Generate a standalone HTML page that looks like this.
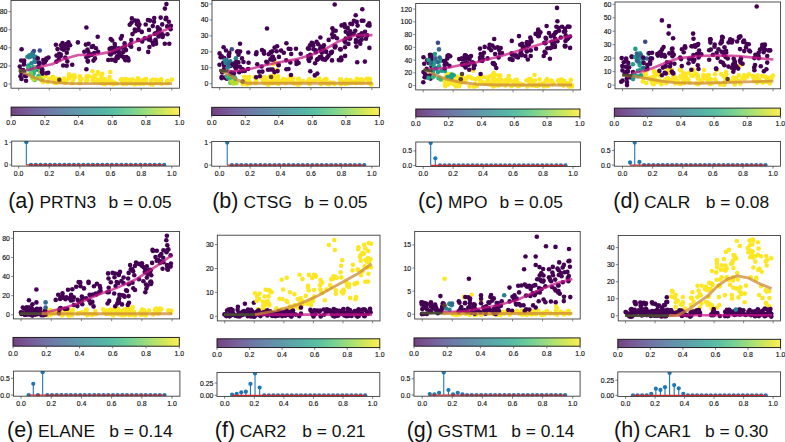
<!DOCTYPE html>
<html><head><meta charset="utf-8"><style>
html,body{margin:0;padding:0;background:#fff;width:785px;height:442px;overflow:hidden}
svg{display:block}
.t{font-family:"Liberation Sans",sans-serif;font-size:6.90px;fill:#111;stroke:#111;stroke-width:0.15}
.cap{font-family:"Liberation Sans",sans-serif;font-size:17.4px;fill:#111;white-space:pre}
.lab{font-family:"Liberation Sans",sans-serif;font-size:21.5px;fill:#111}
</style></head><body>
<svg width="785" height="442" viewBox="0 0 785 442">
<defs><linearGradient id="vir" x1="0" x2="1" y1="0" y2="0"><stop offset="0.000" stop-color="#440154"/><stop offset="0.053" stop-color="#481567"/><stop offset="0.105" stop-color="#482677"/><stop offset="0.158" stop-color="#453781"/><stop offset="0.211" stop-color="#404788"/><stop offset="0.263" stop-color="#39568c"/><stop offset="0.316" stop-color="#33638d"/><stop offset="0.368" stop-color="#2d708e"/><stop offset="0.421" stop-color="#287d8e"/><stop offset="0.474" stop-color="#238a8d"/><stop offset="0.526" stop-color="#1f968b"/><stop offset="0.579" stop-color="#20a387"/><stop offset="0.632" stop-color="#29af7f"/><stop offset="0.684" stop-color="#3cbb75"/><stop offset="0.737" stop-color="#55c667"/><stop offset="0.789" stop-color="#73d055"/><stop offset="0.842" stop-color="#95d840"/><stop offset="0.895" stop-color="#b8de29"/><stop offset="0.947" stop-color="#dce319"/><stop offset="1.000" stop-color="#fde725"/></linearGradient></defs>
<g><clipPath id="cpa"><rect x="11.00" y="0.50" width="168.50" height="87.70"/></clipPath><g clip-path="url(#cpa)"><circle cx="59.7" cy="79.0" r="2.3" fill="#fde725"/><circle cx="73.2" cy="79.9" r="2.3" fill="#fde725"/><circle cx="41.4" cy="79.9" r="2.3" fill="#fde725"/><circle cx="53.8" cy="81.2" r="2.3" fill="#fde725"/><circle cx="95.5" cy="81.4" r="2.3" fill="#fde725"/><circle cx="49.2" cy="78.8" r="2.3" fill="#fde725"/><circle cx="52.3" cy="77.8" r="2.3" fill="#fde725"/><circle cx="54.2" cy="82.3" r="2.3" fill="#fde725"/><circle cx="80.6" cy="80.6" r="2.3" fill="#fde725"/><circle cx="65.1" cy="82.9" r="2.3" fill="#fde725"/><circle cx="92.6" cy="80.7" r="2.3" fill="#fde725"/><circle cx="69.0" cy="78.3" r="2.3" fill="#fde725"/><circle cx="73.3" cy="76.3" r="2.3" fill="#fde725"/><circle cx="87.3" cy="80.5" r="2.3" fill="#fde725"/><circle cx="79.7" cy="83.2" r="2.3" fill="#fde725"/><circle cx="67.0" cy="79.9" r="2.3" fill="#fde725"/><circle cx="94.1" cy="78.1" r="2.3" fill="#fde725"/><circle cx="74.6" cy="77.5" r="2.3" fill="#fde725"/><circle cx="44.7" cy="76.1" r="2.3" fill="#fde725"/><circle cx="79.9" cy="82.9" r="2.3" fill="#fde725"/><circle cx="69.0" cy="75.9" r="2.3" fill="#fde725"/><circle cx="56.1" cy="78.6" r="2.3" fill="#fde725"/><circle cx="86.3" cy="81.0" r="2.3" fill="#fde725"/><circle cx="86.8" cy="76.4" r="2.3" fill="#fde725"/><circle cx="92.6" cy="77.2" r="2.3" fill="#fde725"/><circle cx="71.9" cy="83.1" r="2.3" fill="#fde725"/><circle cx="81.6" cy="79.0" r="2.3" fill="#fde725"/><circle cx="43.1" cy="82.2" r="2.3" fill="#fde725"/><circle cx="79.9" cy="78.6" r="2.3" fill="#fde725"/><circle cx="87.0" cy="80.0" r="2.3" fill="#fde725"/><circle cx="52.6" cy="78.1" r="2.3" fill="#fde725"/><circle cx="46.4" cy="75.4" r="2.3" fill="#fde725"/><circle cx="72.0" cy="75.7" r="2.3" fill="#fde725"/><circle cx="74.5" cy="75.4" r="2.3" fill="#fde725"/><circle cx="40.9" cy="78.5" r="2.3" fill="#fde725"/><circle cx="64.2" cy="78.5" r="2.3" fill="#fde725"/><circle cx="61.4" cy="81.4" r="2.3" fill="#fde725"/><circle cx="54.5" cy="79.4" r="2.3" fill="#fde725"/><circle cx="57.9" cy="82.5" r="2.3" fill="#fde725"/><circle cx="79.8" cy="76.2" r="2.3" fill="#fde725"/><circle cx="93.9" cy="77.2" r="2.3" fill="#fde725"/><circle cx="59.0" cy="81.8" r="2.3" fill="#fde725"/><circle cx="42.9" cy="79.1" r="2.3" fill="#fde725"/><circle cx="94.6" cy="76.0" r="2.3" fill="#fde725"/><circle cx="86.6" cy="77.5" r="2.3" fill="#fde725"/><circle cx="53.1" cy="76.7" r="2.3" fill="#fde725"/><circle cx="95.3" cy="81.7" r="2.3" fill="#fde725"/><circle cx="42.0" cy="77.0" r="2.3" fill="#fde725"/><circle cx="47.9" cy="82.2" r="2.3" fill="#fde725"/><circle cx="88.8" cy="76.3" r="2.3" fill="#fde725"/><circle cx="41.9" cy="80.4" r="2.3" fill="#fde725"/><circle cx="65.4" cy="80.3" r="2.3" fill="#fde725"/><circle cx="94.7" cy="75.6" r="2.3" fill="#fde725"/><circle cx="93.0" cy="78.3" r="2.3" fill="#fde725"/><circle cx="55.2" cy="82.9" r="2.3" fill="#fde725"/><circle cx="105.1" cy="84.1" r="2.3" fill="#fde725"/><circle cx="171.9" cy="79.6" r="2.3" fill="#fde725"/><circle cx="131.2" cy="83.3" r="2.3" fill="#fde725"/><circle cx="156.2" cy="82.7" r="2.3" fill="#fde725"/><circle cx="98.8" cy="81.5" r="2.3" fill="#fde725"/><circle cx="161.4" cy="83.6" r="2.3" fill="#fde725"/><circle cx="132.6" cy="79.3" r="2.3" fill="#fde725"/><circle cx="157.2" cy="81.8" r="2.3" fill="#fde725"/><circle cx="128.4" cy="80.2" r="2.3" fill="#fde725"/><circle cx="120.9" cy="79.6" r="2.3" fill="#fde725"/><circle cx="126.6" cy="83.3" r="2.3" fill="#fde725"/><circle cx="167.5" cy="83.2" r="2.3" fill="#fde725"/><circle cx="110.8" cy="83.4" r="2.3" fill="#fde725"/><circle cx="146.0" cy="79.0" r="2.3" fill="#fde725"/><circle cx="106.9" cy="81.5" r="2.3" fill="#fde725"/><circle cx="123.0" cy="83.9" r="2.3" fill="#fde725"/><circle cx="145.3" cy="79.2" r="2.3" fill="#fde725"/><circle cx="101.3" cy="83.1" r="2.3" fill="#fde725"/><circle cx="140.0" cy="80.9" r="2.3" fill="#fde725"/><circle cx="139.2" cy="83.4" r="2.3" fill="#fde725"/><circle cx="122.4" cy="81.5" r="2.3" fill="#fde725"/><circle cx="155.8" cy="80.0" r="2.3" fill="#fde725"/><circle cx="152.9" cy="84.5" r="2.3" fill="#fde725"/><circle cx="125.9" cy="79.0" r="2.3" fill="#fde725"/><circle cx="131.5" cy="82.9" r="2.3" fill="#fde725"/><circle cx="129.6" cy="82.1" r="2.3" fill="#fde725"/><circle cx="135.6" cy="84.2" r="2.3" fill="#fde725"/><circle cx="168.2" cy="81.6" r="2.3" fill="#fde725"/><circle cx="150.5" cy="84.3" r="2.3" fill="#fde725"/><circle cx="113.4" cy="84.1" r="2.3" fill="#fde725"/><circle cx="121.7" cy="80.1" r="2.3" fill="#fde725"/><circle cx="150.9" cy="80.8" r="2.3" fill="#fde725"/><circle cx="158.3" cy="81.6" r="2.3" fill="#fde725"/><circle cx="161.0" cy="79.7" r="2.3" fill="#fde725"/><circle cx="160.4" cy="79.8" r="2.3" fill="#fde725"/><circle cx="156.6" cy="80.8" r="2.3" fill="#fde725"/><circle cx="104.9" cy="79.5" r="2.3" fill="#fde725"/><circle cx="166.6" cy="83.0" r="2.3" fill="#fde725"/><circle cx="114.3" cy="82.6" r="2.3" fill="#fde725"/><circle cx="134.3" cy="84.1" r="2.3" fill="#fde725"/><circle cx="100.6" cy="79.8" r="2.3" fill="#fde725"/><circle cx="161.1" cy="83.4" r="2.3" fill="#fde725"/><circle cx="161.1" cy="79.2" r="2.3" fill="#fde725"/><circle cx="138.9" cy="80.2" r="2.3" fill="#fde725"/><circle cx="109.4" cy="82.1" r="2.3" fill="#fde725"/><circle cx="152.9" cy="79.5" r="2.3" fill="#fde725"/><circle cx="97.3" cy="79.5" r="2.3" fill="#fde725"/><circle cx="146.1" cy="82.8" r="2.3" fill="#fde725"/><circle cx="116.7" cy="83.6" r="2.3" fill="#fde725"/><circle cx="122.1" cy="79.3" r="2.3" fill="#fde725"/><circle cx="99.6" cy="80.3" r="2.3" fill="#fde725"/><circle cx="101.2" cy="82.3" r="2.3" fill="#fde725"/><circle cx="142.6" cy="80.4" r="2.3" fill="#fde725"/><circle cx="103.8" cy="80.1" r="2.3" fill="#fde725"/><circle cx="137.9" cy="82.0" r="2.3" fill="#fde725"/><circle cx="167.3" cy="80.9" r="2.3" fill="#fde725"/><circle cx="104.5" cy="79.5" r="2.3" fill="#fde725"/><circle cx="129.7" cy="79.7" r="2.3" fill="#fde725"/><circle cx="134.7" cy="84.0" r="2.3" fill="#fde725"/><circle cx="102.4" cy="79.8" r="2.3" fill="#fde725"/><circle cx="96.4" cy="80.1" r="2.3" fill="#fde725"/><circle cx="107.3" cy="81.1" r="2.3" fill="#fde725"/><circle cx="123.7" cy="82.0" r="2.3" fill="#fde725"/><circle cx="108.8" cy="82.5" r="2.3" fill="#fde725"/><circle cx="136.4" cy="81.1" r="2.3" fill="#fde725"/><circle cx="167.7" cy="81.7" r="2.3" fill="#fde725"/><circle cx="111.3" cy="81.0" r="2.3" fill="#fde725"/><circle cx="140.4" cy="83.8" r="2.3" fill="#fde725"/><circle cx="141.6" cy="81.0" r="2.3" fill="#fde725"/><circle cx="167.7" cy="82.8" r="2.3" fill="#fde725"/><circle cx="126.4" cy="84.0" r="2.3" fill="#fde725"/><circle cx="113.0" cy="83.0" r="2.3" fill="#fde725"/><circle cx="156.7" cy="80.1" r="2.3" fill="#fde725"/><circle cx="143.8" cy="83.8" r="2.3" fill="#fde725"/><circle cx="103.1" cy="83.6" r="2.3" fill="#fde725"/><circle cx="101.3" cy="76.3" r="2.3" fill="#fde725"/><circle cx="109.6" cy="77.1" r="2.3" fill="#fde725"/><circle cx="110.3" cy="72.0" r="2.3" fill="#fde725"/><circle cx="97.5" cy="73.7" r="2.3" fill="#fde725"/><circle cx="102.3" cy="73.7" r="2.3" fill="#fde725"/><circle cx="98.0" cy="72.1" r="2.3" fill="#fde725"/><circle cx="69.0" cy="74.4" r="2.3" fill="#fde725"/><circle cx="92.5" cy="71.3" r="2.3" fill="#fde725"/><circle cx="138.0" cy="78.4" r="2.3" fill="#fde725"/><circle cx="25.1" cy="75.9" r="2.3" fill="#440154"/><circle cx="23.9" cy="64.4" r="2.3" fill="#440154"/><circle cx="19.8" cy="66.5" r="2.3" fill="#440154"/><circle cx="21.5" cy="79.0" r="2.3" fill="#440154"/><circle cx="26.0" cy="80.8" r="2.3" fill="#440154"/><circle cx="20.5" cy="76.3" r="2.3" fill="#440154"/><circle cx="21.2" cy="60.5" r="2.3" fill="#440154"/><circle cx="24.0" cy="62.6" r="2.3" fill="#440154"/><circle cx="23.1" cy="70.1" r="2.3" fill="#440154"/><circle cx="24.1" cy="60.6" r="2.3" fill="#440154"/><circle cx="21.1" cy="70.1" r="2.3" fill="#440154"/><circle cx="21.8" cy="70.8" r="2.3" fill="#440154"/><circle cx="21.5" cy="72.8" r="2.3" fill="#440154"/><circle cx="26.1" cy="76.0" r="2.3" fill="#440154"/><circle cx="21.6" cy="49.3" r="2.3" fill="#440154"/><circle cx="35.2" cy="61.7" r="2.3" fill="#3e4a89"/><circle cx="32.5" cy="55.6" r="2.3" fill="#3e4a89"/><circle cx="39.8" cy="50.5" r="2.3" fill="#3e4a89"/><circle cx="33.1" cy="56.0" r="2.3" fill="#3e4a89"/><circle cx="32.8" cy="52.7" r="2.3" fill="#3e4a89"/><circle cx="34.6" cy="57.3" r="2.3" fill="#3e4a89"/><circle cx="33.9" cy="51.1" r="2.3" fill="#3e4a89"/><circle cx="32.4" cy="55.0" r="2.3" fill="#26828e"/><circle cx="36.8" cy="58.7" r="2.3" fill="#26828e"/><circle cx="27.5" cy="56.8" r="2.3" fill="#26828e"/><circle cx="29.0" cy="57.2" r="2.3" fill="#26828e"/><circle cx="34.5" cy="61.1" r="2.3" fill="#26828e"/><circle cx="29.5" cy="55.2" r="2.3" fill="#26828e"/><circle cx="31.5" cy="63.3" r="2.3" fill="#26828e"/><circle cx="35.6" cy="56.8" r="2.3" fill="#26828e"/><circle cx="32.1" cy="54.4" r="2.3" fill="#26828e"/><circle cx="31.0" cy="56.4" r="2.3" fill="#26828e"/><circle cx="37.2" cy="69.6" r="2.3" fill="#26828e"/><circle cx="29.6" cy="69.5" r="2.3" fill="#1f9e89"/><circle cx="32.7" cy="70.2" r="2.3" fill="#1f9e89"/><circle cx="29.5" cy="67.6" r="2.3" fill="#1f9e89"/><circle cx="33.5" cy="67.3" r="2.3" fill="#1f9e89"/><circle cx="28.2" cy="65.6" r="2.3" fill="#1f9e89"/><circle cx="33.3" cy="72.0" r="2.3" fill="#35b779"/><circle cx="38.5" cy="76.0" r="2.3" fill="#35b779"/><circle cx="40.1" cy="71.6" r="2.3" fill="#35b779"/><circle cx="34.6" cy="79.9" r="2.3" fill="#35b779"/><circle cx="33.7" cy="71.0" r="2.3" fill="#35b779"/><circle cx="34.1" cy="79.0" r="2.3" fill="#35b779"/><circle cx="33.7" cy="73.3" r="2.3" fill="#35b779"/><circle cx="28.1" cy="68.1" r="2.3" fill="#35b779"/><circle cx="33.9" cy="72.0" r="2.3" fill="#35b779"/><circle cx="33.0" cy="77.1" r="2.3" fill="#35b779"/><circle cx="41.5" cy="79.6" r="2.3" fill="#b5de2b"/><circle cx="33.8" cy="79.4" r="2.3" fill="#b5de2b"/><circle cx="41.2" cy="79.2" r="2.3" fill="#b5de2b"/><circle cx="40.6" cy="72.0" r="2.3" fill="#b5de2b"/><circle cx="38.7" cy="78.3" r="2.3" fill="#b5de2b"/><circle cx="32.2" cy="78.1" r="2.3" fill="#b5de2b"/><circle cx="30.5" cy="74.0" r="2.3" fill="#6ece58"/><circle cx="30.7" cy="73.4" r="2.3" fill="#6ece58"/><circle cx="36.0" cy="67.2" r="2.3" fill="#6ece58"/><circle cx="38.2" cy="67.6" r="2.3" fill="#6ece58"/><circle cx="42.2" cy="69.3" r="2.3" fill="#440154"/><circle cx="42.3" cy="71.4" r="2.3" fill="#440154"/><circle cx="39.0" cy="62.5" r="2.3" fill="#440154"/><circle cx="38.4" cy="66.7" r="2.3" fill="#440154"/><circle cx="46.2" cy="60.1" r="2.3" fill="#440154"/><circle cx="37.8" cy="58.3" r="2.3" fill="#440154"/><circle cx="43.3" cy="60.1" r="2.3" fill="#440154"/><circle cx="39.5" cy="63.8" r="2.3" fill="#440154"/><circle cx="45.0" cy="62.0" r="2.3" fill="#440154"/><circle cx="42.5" cy="73.6" r="2.3" fill="#440154"/><circle cx="48.5" cy="57.6" r="2.3" fill="#440154"/><circle cx="46.3" cy="73.3" r="2.3" fill="#440154"/><circle cx="48.2" cy="72.8" r="2.3" fill="#440154"/><circle cx="41.8" cy="71.7" r="2.3" fill="#440154"/><circle cx="46.3" cy="58.6" r="2.3" fill="#440154"/><circle cx="43.5" cy="63.0" r="2.3" fill="#440154"/><circle cx="65.4" cy="45.4" r="2.3" fill="#440154"/><circle cx="59.2" cy="54.5" r="2.3" fill="#440154"/><circle cx="59.0" cy="55.4" r="2.3" fill="#440154"/><circle cx="61.6" cy="48.6" r="2.3" fill="#440154"/><circle cx="56.4" cy="61.6" r="2.3" fill="#440154"/><circle cx="70.1" cy="45.2" r="2.3" fill="#440154"/><circle cx="60.5" cy="56.2" r="2.3" fill="#440154"/><circle cx="68.2" cy="45.2" r="2.3" fill="#440154"/><circle cx="62.5" cy="43.1" r="2.3" fill="#440154"/><circle cx="65.3" cy="57.6" r="2.3" fill="#440154"/><circle cx="57.5" cy="49.1" r="2.3" fill="#440154"/><circle cx="59.2" cy="53.9" r="2.3" fill="#440154"/><circle cx="55.9" cy="44.8" r="2.3" fill="#440154"/><circle cx="60.8" cy="54.5" r="2.3" fill="#440154"/><circle cx="72.2" cy="64.8" r="2.3" fill="#440154"/><circle cx="66.8" cy="52.8" r="2.3" fill="#440154"/><circle cx="63.6" cy="47.7" r="2.3" fill="#440154"/><circle cx="58.8" cy="59.4" r="2.3" fill="#440154"/><circle cx="67.8" cy="48.8" r="2.3" fill="#440154"/><circle cx="66.3" cy="44.1" r="2.3" fill="#440154"/><circle cx="63.8" cy="49.7" r="2.3" fill="#440154"/><circle cx="66.7" cy="65.8" r="2.3" fill="#440154"/><circle cx="60.9" cy="45.2" r="2.3" fill="#440154"/><circle cx="56.5" cy="55.6" r="2.3" fill="#440154"/><circle cx="63.2" cy="65.5" r="2.3" fill="#440154"/><circle cx="67.3" cy="61.4" r="2.3" fill="#440154"/><circle cx="68.4" cy="42.2" r="2.3" fill="#440154"/><circle cx="64.4" cy="48.6" r="2.3" fill="#440154"/><circle cx="77.9" cy="42.4" r="2.3" fill="#440154"/><circle cx="86.4" cy="27.5" r="2.3" fill="#440154"/><circle cx="86.4" cy="69.3" r="2.3" fill="#440154"/><circle cx="59.3" cy="79.9" r="2.3" fill="#5a3d2b"/><circle cx="84.3" cy="51.7" r="2.3" fill="#440154"/><circle cx="89.3" cy="55.4" r="2.3" fill="#440154"/><circle cx="87.7" cy="60.8" r="2.3" fill="#440154"/><circle cx="88.6" cy="43.8" r="2.3" fill="#440154"/><circle cx="87.5" cy="49.6" r="2.3" fill="#440154"/><circle cx="91.8" cy="47.0" r="2.3" fill="#440154"/><circle cx="95.9" cy="48.3" r="2.3" fill="#440154"/><circle cx="93.5" cy="60.6" r="2.3" fill="#440154"/><circle cx="93.1" cy="46.1" r="2.3" fill="#440154"/><circle cx="94.2" cy="53.0" r="2.3" fill="#440154"/><circle cx="88.3" cy="52.0" r="2.3" fill="#440154"/><circle cx="92.1" cy="54.6" r="2.3" fill="#440154"/><circle cx="95.0" cy="58.4" r="2.3" fill="#440154"/><circle cx="85.9" cy="44.6" r="2.3" fill="#440154"/><circle cx="86.4" cy="57.3" r="2.3" fill="#440154"/><circle cx="88.0" cy="56.0" r="2.3" fill="#440154"/><circle cx="87.9" cy="61.6" r="2.3" fill="#440154"/><circle cx="91.1" cy="54.6" r="2.3" fill="#440154"/><circle cx="97.7" cy="36.7" r="2.3" fill="#440154"/><circle cx="98.1" cy="51.9" r="2.3" fill="#440154"/><circle cx="118.9" cy="48.2" r="2.3" fill="#440154"/><circle cx="123.7" cy="57.1" r="2.3" fill="#440154"/><circle cx="115.5" cy="60.9" r="2.3" fill="#440154"/><circle cx="120.9" cy="55.6" r="2.3" fill="#440154"/><circle cx="117.1" cy="56.4" r="2.3" fill="#440154"/><circle cx="115.0" cy="50.0" r="2.3" fill="#440154"/><circle cx="128.5" cy="60.5" r="2.3" fill="#440154"/><circle cx="122.7" cy="47.7" r="2.3" fill="#440154"/><circle cx="114.5" cy="59.7" r="2.3" fill="#440154"/><circle cx="111.6" cy="48.0" r="2.3" fill="#440154"/><circle cx="110.8" cy="54.5" r="2.3" fill="#440154"/><circle cx="109.6" cy="48.9" r="2.3" fill="#440154"/><circle cx="109.8" cy="54.0" r="2.3" fill="#440154"/><circle cx="114.9" cy="46.3" r="2.3" fill="#440154"/><circle cx="118.4" cy="51.1" r="2.3" fill="#440154"/><circle cx="123.3" cy="51.9" r="2.3" fill="#440154"/><circle cx="128.0" cy="58.2" r="2.3" fill="#440154"/><circle cx="111.7" cy="59.8" r="2.3" fill="#440154"/><circle cx="112.9" cy="51.4" r="2.3" fill="#440154"/><circle cx="112.8" cy="48.8" r="2.3" fill="#440154"/><circle cx="125.4" cy="60.2" r="2.3" fill="#440154"/><circle cx="118.8" cy="52.6" r="2.3" fill="#440154"/><circle cx="126.0" cy="50.1" r="2.3" fill="#440154"/><circle cx="119.5" cy="52.9" r="2.3" fill="#440154"/><circle cx="113.9" cy="52.0" r="2.3" fill="#440154"/><circle cx="113.1" cy="52.3" r="2.3" fill="#440154"/><circle cx="124.9" cy="46.3" r="2.3" fill="#440154"/><circle cx="116.7" cy="57.5" r="2.3" fill="#440154"/><circle cx="126.5" cy="57.0" r="2.3" fill="#440154"/><circle cx="117.2" cy="58.0" r="2.3" fill="#440154"/><circle cx="113.3" cy="52.0" r="2.3" fill="#440154"/><circle cx="120.8" cy="38.6" r="2.3" fill="#440154"/><circle cx="110.7" cy="39.0" r="2.3" fill="#440154"/><circle cx="122.0" cy="56.2" r="2.3" fill="#440154"/><circle cx="108.3" cy="60.0" r="2.3" fill="#440154"/><circle cx="112.2" cy="40.5" r="2.3" fill="#440154"/><circle cx="124.1" cy="57.8" r="2.3" fill="#440154"/><circle cx="124.6" cy="43.4" r="2.3" fill="#440154"/><circle cx="121.9" cy="36.0" r="2.3" fill="#440154"/><circle cx="114.6" cy="52.3" r="2.3" fill="#440154"/><circle cx="114.7" cy="44.1" r="2.3" fill="#440154"/><circle cx="117.8" cy="58.0" r="2.3" fill="#440154"/><circle cx="134.8" cy="29.5" r="2.3" fill="#440154"/><circle cx="131.3" cy="40.1" r="2.3" fill="#440154"/><circle cx="129.7" cy="24.8" r="2.3" fill="#440154"/><circle cx="138.6" cy="25.9" r="2.3" fill="#440154"/><circle cx="141.8" cy="31.9" r="2.3" fill="#440154"/><circle cx="138.1" cy="21.9" r="2.3" fill="#440154"/><circle cx="138.2" cy="39.9" r="2.3" fill="#440154"/><circle cx="138.7" cy="29.9" r="2.3" fill="#440154"/><circle cx="135.1" cy="31.3" r="2.3" fill="#440154"/><circle cx="131.2" cy="46.7" r="2.3" fill="#440154"/><circle cx="144.7" cy="38.4" r="2.3" fill="#440154"/><circle cx="137.1" cy="24.2" r="2.3" fill="#440154"/><circle cx="150.0" cy="20.6" r="2.3" fill="#440154"/><circle cx="149.8" cy="36.7" r="2.3" fill="#440154"/><circle cx="137.1" cy="23.8" r="2.3" fill="#440154"/><circle cx="142.2" cy="41.5" r="2.3" fill="#440154"/><circle cx="149.0" cy="29.9" r="2.3" fill="#440154"/><circle cx="148.2" cy="51.9" r="2.3" fill="#440154"/><circle cx="139.0" cy="49.1" r="2.3" fill="#440154"/><circle cx="131.6" cy="22.6" r="2.3" fill="#440154"/><circle cx="148.6" cy="39.4" r="2.3" fill="#440154"/><circle cx="149.4" cy="47.0" r="2.3" fill="#440154"/><circle cx="136.9" cy="30.3" r="2.3" fill="#440154"/><circle cx="135.1" cy="20.6" r="2.3" fill="#440154"/><circle cx="139.4" cy="24.6" r="2.3" fill="#440154"/><circle cx="150.4" cy="40.1" r="2.3" fill="#440154"/><circle cx="130.1" cy="45.4" r="2.3" fill="#440154"/><circle cx="130.6" cy="44.1" r="2.3" fill="#440154"/><circle cx="145.7" cy="24.5" r="2.3" fill="#440154"/><circle cx="137.6" cy="20.9" r="2.3" fill="#440154"/><circle cx="132.5" cy="34.1" r="2.3" fill="#440154"/><circle cx="131.9" cy="18.4" r="2.3" fill="#440154"/><circle cx="155.6" cy="33.4" r="2.3" fill="#440154"/><circle cx="155.9" cy="42.8" r="2.3" fill="#440154"/><circle cx="154.0" cy="21.8" r="2.3" fill="#440154"/><circle cx="168.8" cy="21.8" r="2.3" fill="#440154"/><circle cx="162.2" cy="24.4" r="2.3" fill="#440154"/><circle cx="153.3" cy="44.6" r="2.3" fill="#440154"/><circle cx="152.8" cy="26.0" r="2.3" fill="#440154"/><circle cx="154.2" cy="18.1" r="2.3" fill="#440154"/><circle cx="159.0" cy="30.4" r="2.3" fill="#440154"/><circle cx="162.5" cy="36.9" r="2.3" fill="#440154"/><circle cx="166.2" cy="17.7" r="2.3" fill="#440154"/><circle cx="162.4" cy="34.4" r="2.3" fill="#440154"/><circle cx="166.1" cy="18.4" r="2.3" fill="#440154"/><circle cx="159.5" cy="32.7" r="2.3" fill="#440154"/><circle cx="157.7" cy="27.4" r="2.3" fill="#440154"/><circle cx="159.8" cy="29.4" r="2.3" fill="#440154"/><circle cx="167.2" cy="26.4" r="2.3" fill="#440154"/><circle cx="162.9" cy="35.8" r="2.3" fill="#440154"/><circle cx="169.3" cy="43.7" r="2.3" fill="#440154"/><circle cx="155.5" cy="39.9" r="2.3" fill="#440154"/><circle cx="152.9" cy="42.7" r="2.3" fill="#440154"/><circle cx="160.7" cy="17.6" r="2.3" fill="#440154"/><circle cx="154.7" cy="33.8" r="2.3" fill="#440154"/><circle cx="156.0" cy="43.7" r="2.3" fill="#440154"/><circle cx="161.2" cy="34.3" r="2.3" fill="#440154"/><circle cx="164.8" cy="43.8" r="2.3" fill="#440154"/><circle cx="167.4" cy="34.3" r="2.3" fill="#440154"/><circle cx="170.6" cy="29.3" r="2.3" fill="#440154"/><circle cx="155.4" cy="40.9" r="2.3" fill="#440154"/><circle cx="158.6" cy="36.5" r="2.3" fill="#440154"/><circle cx="158.0" cy="31.0" r="2.3" fill="#440154"/><circle cx="170.9" cy="25.8" r="2.3" fill="#440154"/><circle cx="166.4" cy="4.1" r="2.3" fill="#440154"/><circle cx="164.9" cy="8.6" r="2.3" fill="#440154"/><circle cx="165.7" cy="19.3" r="2.3" fill="#440154"/><circle cx="148.0" cy="20.0" r="2.3" fill="#440154"/><path d="M19.0,70.5 L27.0,70.3 L37.5,67.3 L51.8,64.2 L64.0,59.0 L78.3,55.0 L90.0,55.0 L96.0,54.6 L110.4,51.9 L130.7,43.8 L151.0,35.6 L171.4,27.5" fill="none" stroke="#c71585" stroke-width="2.6" stroke-opacity="0.72" stroke-linecap="butt" stroke-linejoin="round"/><path d="M19.2,70.3 L31.4,76.4 L41.6,80.5 L55.8,82.6 L72.0,83.6 L172.0,83.6" fill="none" stroke="#cc8a35" stroke-width="2.9" stroke-opacity="0.75" stroke-linecap="butt" stroke-linejoin="round"/><path d="M18.7,70.6 L26.3,71.4" fill="none" stroke="#4a4a33" stroke-width="2.7" stroke-opacity="0.95" stroke-linecap="butt" stroke-linejoin="round"/></g></g>
<rect x="11.00" y="0.50" width="168.50" height="87.70" fill="none" stroke="#333" stroke-width="0.85"/>
<line x1="8.60" x2="11.00" y1="84.00" y2="84.00" stroke="#555" stroke-width="0.7"/>
<text x="7.40" y="86.50" text-anchor="end" class="t">0</text>
<line x1="8.60" x2="11.00" y1="65.90" y2="65.90" stroke="#555" stroke-width="0.7"/>
<text x="7.40" y="68.40" text-anchor="end" class="t">20</text>
<line x1="8.60" x2="11.00" y1="47.80" y2="47.80" stroke="#555" stroke-width="0.7"/>
<text x="7.40" y="50.30" text-anchor="end" class="t">40</text>
<line x1="8.60" x2="11.00" y1="29.70" y2="29.70" stroke="#555" stroke-width="0.7"/>
<text x="7.40" y="32.20" text-anchor="end" class="t">60</text>
<line x1="8.60" x2="11.00" y1="11.60" y2="11.60" stroke="#555" stroke-width="0.7"/>
<text x="7.40" y="14.10" text-anchor="end" class="t">80</text>
<line x1="18.66" x2="18.66" y1="88.20" y2="90.60" stroke="#555" stroke-width="0.7"/>
<line x1="49.30" x2="49.30" y1="88.20" y2="90.60" stroke="#555" stroke-width="0.7"/>
<line x1="79.93" x2="79.93" y1="88.20" y2="90.60" stroke="#555" stroke-width="0.7"/>
<line x1="110.57" x2="110.57" y1="88.20" y2="90.60" stroke="#555" stroke-width="0.7"/>
<line x1="141.20" x2="141.20" y1="88.20" y2="90.60" stroke="#555" stroke-width="0.7"/>
<line x1="171.84" x2="171.84" y1="88.20" y2="90.60" stroke="#555" stroke-width="0.7"/>
<rect x="11.10" y="107.10" width="168.50" height="8.30" fill="url(#vir)" fill-opacity="0.75" stroke="#111" stroke-width="0.9"/>
<line x1="11.10" x2="11.10" y1="115.40" y2="117.60" stroke="#555" stroke-width="0.8"/>
<text x="11.10" y="125.00" text-anchor="middle" class="t">0.0</text>
<line x1="44.80" x2="44.80" y1="115.40" y2="117.60" stroke="#555" stroke-width="0.8"/>
<text x="44.80" y="125.00" text-anchor="middle" class="t">0.2</text>
<line x1="78.50" x2="78.50" y1="115.40" y2="117.60" stroke="#555" stroke-width="0.8"/>
<text x="78.50" y="125.00" text-anchor="middle" class="t">0.4</text>
<line x1="112.20" x2="112.20" y1="115.40" y2="117.60" stroke="#555" stroke-width="0.8"/>
<text x="112.20" y="125.00" text-anchor="middle" class="t">0.6</text>
<line x1="145.90" x2="145.90" y1="115.40" y2="117.60" stroke="#555" stroke-width="0.8"/>
<text x="145.90" y="125.00" text-anchor="middle" class="t">0.8</text>
<line x1="179.60" x2="179.60" y1="115.40" y2="117.60" stroke="#555" stroke-width="0.8"/>
<text x="179.60" y="125.00" text-anchor="middle" class="t">1.0</text>
<clipPath id="sca"><rect x="11.70" y="141.10" width="167.80" height="25.00"/></clipPath>
<g clip-path="url(#sca)"><line x1="26.32" x2="26.32" y1="164.96" y2="142.24" stroke="#1f77b4" stroke-width="1.1"/><circle cx="26.32" cy="142.24" r="2.1" fill="#1f77b4"/><circle cx="31.07" cy="164.96" r="2.1" fill="#1f77b4"/><circle cx="35.83" cy="164.96" r="2.1" fill="#1f77b4"/><circle cx="40.58" cy="164.96" r="2.1" fill="#1f77b4"/><circle cx="45.33" cy="164.96" r="2.1" fill="#1f77b4"/><circle cx="50.09" cy="164.96" r="2.1" fill="#1f77b4"/><circle cx="54.84" cy="164.96" r="2.1" fill="#1f77b4"/><circle cx="59.60" cy="164.96" r="2.1" fill="#1f77b4"/><circle cx="64.35" cy="164.96" r="2.1" fill="#1f77b4"/><circle cx="69.10" cy="164.96" r="2.1" fill="#1f77b4"/><circle cx="73.86" cy="164.96" r="2.1" fill="#1f77b4"/><circle cx="78.61" cy="164.96" r="2.1" fill="#1f77b4"/><circle cx="83.37" cy="164.96" r="2.1" fill="#1f77b4"/><circle cx="88.12" cy="164.96" r="2.1" fill="#1f77b4"/><circle cx="92.87" cy="164.96" r="2.1" fill="#1f77b4"/><circle cx="97.63" cy="164.96" r="2.1" fill="#1f77b4"/><circle cx="102.38" cy="164.96" r="2.1" fill="#1f77b4"/><circle cx="107.13" cy="164.96" r="2.1" fill="#1f77b4"/><circle cx="111.89" cy="164.96" r="2.1" fill="#1f77b4"/><circle cx="116.64" cy="164.96" r="2.1" fill="#1f77b4"/><circle cx="121.40" cy="164.96" r="2.1" fill="#1f77b4"/><circle cx="126.15" cy="164.96" r="2.1" fill="#1f77b4"/><circle cx="130.90" cy="164.96" r="2.1" fill="#1f77b4"/><circle cx="135.66" cy="164.96" r="2.1" fill="#1f77b4"/><circle cx="140.41" cy="164.96" r="2.1" fill="#1f77b4"/><circle cx="145.17" cy="164.96" r="2.1" fill="#1f77b4"/><circle cx="149.92" cy="164.96" r="2.1" fill="#1f77b4"/><circle cx="154.67" cy="164.96" r="2.1" fill="#1f77b4"/><circle cx="159.43" cy="164.96" r="2.1" fill="#1f77b4"/><circle cx="164.18" cy="164.96" r="2.1" fill="#1f77b4"/><line x1="26.32" x2="164.18" y1="164.96" y2="164.96" stroke="#d62728" stroke-width="1.2"/></g>
<rect x="11.70" y="141.10" width="167.80" height="25.00" fill="none" stroke="#333" stroke-width="0.85"/>
<line x1="9.30" x2="11.70" y1="164.96" y2="164.96" stroke="#444" stroke-width="0.7"/>
<text x="8.10" y="167.46" text-anchor="end" class="t">0</text>
<line x1="9.30" x2="11.70" y1="142.24" y2="142.24" stroke="#444" stroke-width="0.7"/>
<text x="8.10" y="144.74" text-anchor="end" class="t">1</text>
<line x1="18.66" x2="18.66" y1="166.10" y2="168.50" stroke="#444" stroke-width="0.7"/>
<text x="18.66" y="175.70" text-anchor="middle" class="t">0.0</text>
<line x1="49.30" x2="49.30" y1="166.10" y2="168.50" stroke="#444" stroke-width="0.7"/>
<text x="49.30" y="175.70" text-anchor="middle" class="t">0.2</text>
<line x1="79.93" x2="79.93" y1="166.10" y2="168.50" stroke="#444" stroke-width="0.7"/>
<text x="79.93" y="175.70" text-anchor="middle" class="t">0.4</text>
<line x1="110.57" x2="110.57" y1="166.10" y2="168.50" stroke="#444" stroke-width="0.7"/>
<text x="110.57" y="175.70" text-anchor="middle" class="t">0.6</text>
<line x1="141.20" x2="141.20" y1="166.10" y2="168.50" stroke="#444" stroke-width="0.7"/>
<text x="141.20" y="175.70" text-anchor="middle" class="t">0.8</text>
<line x1="171.84" x2="171.84" y1="166.10" y2="168.50" stroke="#444" stroke-width="0.7"/>
<text x="171.84" y="175.70" text-anchor="middle" class="t">1.0</text>
<text x="8.20" y="207.80" class="lab">(a)</text>
<text x="39.50" y="207.80" class="cap">PRTN3</text>
<text x="108.40" y="207.80" class="cap">b = 0.05</text>
<g><clipPath id="cpb"><rect x="212.00" y="0.50" width="167.50" height="87.20"/></clipPath><g clip-path="url(#cpb)"><circle cx="256.3" cy="79.9" r="2.3" fill="#fde725"/><circle cx="271.4" cy="76.9" r="2.3" fill="#fde725"/><circle cx="268.9" cy="84.2" r="2.3" fill="#fde725"/><circle cx="272.3" cy="80.5" r="2.3" fill="#fde725"/><circle cx="285.1" cy="79.9" r="2.3" fill="#fde725"/><circle cx="256.0" cy="83.2" r="2.3" fill="#fde725"/><circle cx="249.9" cy="83.6" r="2.3" fill="#fde725"/><circle cx="290.4" cy="80.7" r="2.3" fill="#fde725"/><circle cx="269.7" cy="76.6" r="2.3" fill="#fde725"/><circle cx="250.3" cy="82.6" r="2.3" fill="#fde725"/><circle cx="281.7" cy="81.4" r="2.3" fill="#fde725"/><circle cx="248.3" cy="82.2" r="2.3" fill="#fde725"/><circle cx="296.4" cy="83.5" r="2.3" fill="#fde725"/><circle cx="278.1" cy="79.8" r="2.3" fill="#fde725"/><circle cx="264.4" cy="77.3" r="2.3" fill="#fde725"/><circle cx="242.8" cy="84.3" r="2.3" fill="#fde725"/><circle cx="262.9" cy="79.3" r="2.3" fill="#fde725"/><circle cx="267.8" cy="84.5" r="2.3" fill="#fde725"/><circle cx="292.2" cy="81.9" r="2.3" fill="#fde725"/><circle cx="284.8" cy="80.5" r="2.3" fill="#fde725"/><circle cx="277.2" cy="82.8" r="2.3" fill="#fde725"/><circle cx="278.1" cy="76.4" r="2.3" fill="#fde725"/><circle cx="266.8" cy="81.0" r="2.3" fill="#fde725"/><circle cx="278.5" cy="84.0" r="2.3" fill="#fde725"/><circle cx="284.7" cy="79.6" r="2.3" fill="#fde725"/><circle cx="267.6" cy="82.7" r="2.3" fill="#fde725"/><circle cx="283.3" cy="79.1" r="2.3" fill="#fde725"/><circle cx="262.9" cy="81.3" r="2.3" fill="#fde725"/><circle cx="268.4" cy="81.7" r="2.3" fill="#fde725"/><circle cx="288.8" cy="79.6" r="2.3" fill="#fde725"/><circle cx="273.2" cy="77.7" r="2.3" fill="#fde725"/><circle cx="286.4" cy="82.0" r="2.3" fill="#fde725"/><circle cx="274.7" cy="78.9" r="2.3" fill="#fde725"/><circle cx="245.5" cy="78.1" r="2.3" fill="#fde725"/><circle cx="255.3" cy="82.6" r="2.3" fill="#fde725"/><circle cx="273.1" cy="83.3" r="2.3" fill="#fde725"/><circle cx="293.0" cy="78.3" r="2.3" fill="#fde725"/><circle cx="249.2" cy="82.2" r="2.3" fill="#fde725"/><circle cx="264.6" cy="83.2" r="2.3" fill="#fde725"/><circle cx="265.7" cy="78.0" r="2.3" fill="#fde725"/><circle cx="293.8" cy="82.4" r="2.3" fill="#fde725"/><circle cx="285.6" cy="82.1" r="2.3" fill="#fde725"/><circle cx="294.2" cy="83.5" r="2.3" fill="#fde725"/><circle cx="244.3" cy="76.7" r="2.3" fill="#fde725"/><circle cx="242.8" cy="82.4" r="2.3" fill="#fde725"/><circle cx="268.7" cy="82.1" r="2.3" fill="#fde725"/><circle cx="246.0" cy="77.5" r="2.3" fill="#fde725"/><circle cx="290.3" cy="81.4" r="2.3" fill="#fde725"/><circle cx="249.2" cy="77.0" r="2.3" fill="#fde725"/><circle cx="285.7" cy="83.2" r="2.3" fill="#fde725"/><circle cx="246.9" cy="84.4" r="2.3" fill="#fde725"/><circle cx="247.4" cy="79.4" r="2.3" fill="#fde725"/><circle cx="275.7" cy="83.0" r="2.3" fill="#fde725"/><circle cx="290.1" cy="76.2" r="2.3" fill="#fde725"/><circle cx="254.8" cy="77.2" r="2.3" fill="#fde725"/><circle cx="244.9" cy="81.8" r="2.3" fill="#fde725"/><circle cx="248.5" cy="79.6" r="2.3" fill="#fde725"/><circle cx="278.9" cy="82.7" r="2.3" fill="#fde725"/><circle cx="270.9" cy="81.9" r="2.3" fill="#fde725"/><circle cx="277.3" cy="78.0" r="2.3" fill="#fde725"/><circle cx="273.9" cy="75.3" r="2.3" fill="#fde725"/><circle cx="274.0" cy="74.4" r="2.3" fill="#fde725"/><circle cx="273.2" cy="64.3" r="2.3" fill="#fde725"/><circle cx="275.7" cy="62.9" r="2.3" fill="#fde725"/><circle cx="277.0" cy="69.7" r="2.3" fill="#fde725"/><circle cx="362.9" cy="82.6" r="2.3" fill="#fde725"/><circle cx="361.1" cy="79.3" r="2.3" fill="#fde725"/><circle cx="324.2" cy="80.0" r="2.3" fill="#fde725"/><circle cx="325.6" cy="79.2" r="2.3" fill="#fde725"/><circle cx="307.3" cy="81.6" r="2.3" fill="#fde725"/><circle cx="368.2" cy="82.4" r="2.3" fill="#fde725"/><circle cx="345.4" cy="84.1" r="2.3" fill="#fde725"/><circle cx="340.5" cy="82.0" r="2.3" fill="#fde725"/><circle cx="341.9" cy="81.7" r="2.3" fill="#fde725"/><circle cx="309.2" cy="79.1" r="2.3" fill="#fde725"/><circle cx="360.9" cy="81.4" r="2.3" fill="#fde725"/><circle cx="356.8" cy="78.8" r="2.3" fill="#fde725"/><circle cx="334.5" cy="84.1" r="2.3" fill="#fde725"/><circle cx="298.0" cy="84.4" r="2.3" fill="#fde725"/><circle cx="323.3" cy="81.6" r="2.3" fill="#fde725"/><circle cx="344.0" cy="82.1" r="2.3" fill="#fde725"/><circle cx="321.0" cy="84.2" r="2.3" fill="#fde725"/><circle cx="319.3" cy="78.5" r="2.3" fill="#fde725"/><circle cx="298.2" cy="84.4" r="2.3" fill="#fde725"/><circle cx="314.9" cy="80.6" r="2.3" fill="#fde725"/><circle cx="341.1" cy="81.6" r="2.3" fill="#fde725"/><circle cx="323.0" cy="82.9" r="2.3" fill="#fde725"/><circle cx="340.3" cy="79.2" r="2.3" fill="#fde725"/><circle cx="349.7" cy="82.8" r="2.3" fill="#fde725"/><circle cx="352.8" cy="82.8" r="2.3" fill="#fde725"/><circle cx="298.8" cy="78.9" r="2.3" fill="#fde725"/><circle cx="363.0" cy="80.0" r="2.3" fill="#fde725"/><circle cx="371.4" cy="84.6" r="2.3" fill="#fde725"/><circle cx="361.4" cy="82.8" r="2.3" fill="#fde725"/><circle cx="299.8" cy="83.7" r="2.3" fill="#fde725"/><circle cx="326.8" cy="83.7" r="2.3" fill="#fde725"/><circle cx="366.8" cy="78.9" r="2.3" fill="#fde725"/><circle cx="325.7" cy="80.2" r="2.3" fill="#fde725"/><circle cx="309.7" cy="84.3" r="2.3" fill="#fde725"/><circle cx="348.3" cy="82.0" r="2.3" fill="#fde725"/><circle cx="354.2" cy="81.9" r="2.3" fill="#fde725"/><circle cx="298.9" cy="81.9" r="2.3" fill="#fde725"/><circle cx="347.9" cy="82.8" r="2.3" fill="#fde725"/><circle cx="358.0" cy="80.2" r="2.3" fill="#fde725"/><circle cx="342.3" cy="83.1" r="2.3" fill="#fde725"/><circle cx="329.3" cy="84.3" r="2.3" fill="#fde725"/><circle cx="321.6" cy="81.7" r="2.3" fill="#fde725"/><circle cx="328.5" cy="84.0" r="2.3" fill="#fde725"/><circle cx="360.7" cy="83.0" r="2.3" fill="#fde725"/><circle cx="349.0" cy="82.1" r="2.3" fill="#fde725"/><circle cx="350.7" cy="80.4" r="2.3" fill="#fde725"/><circle cx="303.0" cy="81.1" r="2.3" fill="#fde725"/><circle cx="369.7" cy="78.9" r="2.3" fill="#fde725"/><circle cx="340.8" cy="79.3" r="2.3" fill="#fde725"/><circle cx="299.0" cy="82.8" r="2.3" fill="#fde725"/><circle cx="347.6" cy="80.1" r="2.3" fill="#fde725"/><circle cx="340.8" cy="82.0" r="2.3" fill="#fde725"/><circle cx="333.5" cy="82.9" r="2.3" fill="#fde725"/><circle cx="356.2" cy="83.3" r="2.3" fill="#fde725"/><circle cx="340.8" cy="84.2" r="2.3" fill="#fde725"/><circle cx="369.9" cy="83.1" r="2.3" fill="#fde725"/><circle cx="318.2" cy="79.6" r="2.3" fill="#fde725"/><circle cx="348.6" cy="83.3" r="2.3" fill="#fde725"/><circle cx="370.9" cy="84.2" r="2.3" fill="#fde725"/><circle cx="326.6" cy="79.0" r="2.3" fill="#fde725"/><circle cx="344.6" cy="81.8" r="2.3" fill="#fde725"/><circle cx="346.5" cy="79.7" r="2.3" fill="#fde725"/><circle cx="342.4" cy="82.4" r="2.3" fill="#fde725"/><circle cx="297.9" cy="79.0" r="2.3" fill="#fde725"/><circle cx="330.4" cy="82.5" r="2.3" fill="#fde725"/><circle cx="357.3" cy="79.6" r="2.3" fill="#fde725"/><circle cx="368.9" cy="79.8" r="2.3" fill="#fde725"/><circle cx="370.0" cy="79.9" r="2.3" fill="#fde725"/><circle cx="346.0" cy="83.8" r="2.3" fill="#fde725"/><circle cx="312.0" cy="80.8" r="2.3" fill="#fde725"/><circle cx="230.4" cy="76.1" r="2.3" fill="#440154"/><circle cx="228.8" cy="54.8" r="2.3" fill="#440154"/><circle cx="230.3" cy="66.0" r="2.3" fill="#440154"/><circle cx="221.6" cy="78.1" r="2.3" fill="#440154"/><circle cx="224.8" cy="77.6" r="2.3" fill="#440154"/><circle cx="229.4" cy="52.9" r="2.3" fill="#440154"/><circle cx="222.2" cy="72.5" r="2.3" fill="#440154"/><circle cx="220.6" cy="57.2" r="2.3" fill="#440154"/><circle cx="226.7" cy="78.8" r="2.3" fill="#440154"/><circle cx="221.2" cy="56.9" r="2.3" fill="#440154"/><circle cx="228.7" cy="64.5" r="2.3" fill="#440154"/><circle cx="223.8" cy="69.6" r="2.3" fill="#440154"/><circle cx="231.3" cy="72.5" r="2.3" fill="#440154"/><circle cx="224.1" cy="65.8" r="2.3" fill="#440154"/><circle cx="230.3" cy="73.9" r="2.3" fill="#440154"/><circle cx="226.2" cy="60.1" r="2.3" fill="#440154"/><circle cx="229.0" cy="56.1" r="2.3" fill="#440154"/><circle cx="224.3" cy="58.1" r="2.3" fill="#440154"/><circle cx="221.7" cy="56.3" r="2.3" fill="#440154"/><circle cx="221.6" cy="77.1" r="2.3" fill="#440154"/><circle cx="219.5" cy="64.7" r="2.3" fill="#440154"/><circle cx="219.6" cy="53.4" r="2.3" fill="#440154"/><circle cx="223.3" cy="62.7" r="2.3" fill="#440154"/><circle cx="230.1" cy="64.0" r="2.3" fill="#440154"/><circle cx="223.6" cy="47.3" r="2.3" fill="#440154"/><circle cx="226.0" cy="50.5" r="2.3" fill="#440154"/><circle cx="234.9" cy="79.8" r="2.3" fill="#26828e"/><circle cx="230.0" cy="65.1" r="2.3" fill="#26828e"/><circle cx="234.4" cy="77.3" r="2.3" fill="#26828e"/><circle cx="235.9" cy="58.3" r="2.3" fill="#26828e"/><circle cx="227.9" cy="67.6" r="2.3" fill="#26828e"/><circle cx="230.3" cy="61.4" r="2.3" fill="#26828e"/><circle cx="225.6" cy="63.0" r="2.3" fill="#26828e"/><circle cx="234.5" cy="62.8" r="2.3" fill="#26828e"/><circle cx="228.1" cy="77.9" r="2.3" fill="#26828e"/><circle cx="224.8" cy="60.1" r="2.3" fill="#26828e"/><circle cx="226.0" cy="60.3" r="2.3" fill="#26828e"/><circle cx="231.8" cy="49.3" r="2.3" fill="#3e4a89"/><circle cx="233.4" cy="65.3" r="2.3" fill="#31688e"/><circle cx="228.8" cy="64.4" r="2.3" fill="#31688e"/><circle cx="229.6" cy="62.5" r="2.3" fill="#31688e"/><circle cx="230.4" cy="82.7" r="2.3" fill="#35b779"/><circle cx="235.2" cy="78.6" r="2.3" fill="#35b779"/><circle cx="226.9" cy="76.3" r="2.3" fill="#35b779"/><circle cx="230.1" cy="78.1" r="2.3" fill="#35b779"/><circle cx="233.6" cy="77.8" r="2.3" fill="#35b779"/><circle cx="230.3" cy="78.6" r="2.3" fill="#35b779"/><circle cx="232.4" cy="81.6" r="2.3" fill="#b5de2b"/><circle cx="236.4" cy="83.1" r="2.3" fill="#b5de2b"/><circle cx="233.5" cy="83.5" r="2.3" fill="#b5de2b"/><circle cx="231.3" cy="82.1" r="2.3" fill="#b5de2b"/><circle cx="242.5" cy="71.0" r="2.3" fill="#440154"/><circle cx="242.6" cy="69.4" r="2.3" fill="#440154"/><circle cx="248.3" cy="52.5" r="2.3" fill="#440154"/><circle cx="244.7" cy="70.9" r="2.3" fill="#440154"/><circle cx="243.5" cy="62.0" r="2.3" fill="#440154"/><circle cx="234.7" cy="66.4" r="2.3" fill="#440154"/><circle cx="236.6" cy="66.4" r="2.3" fill="#440154"/><circle cx="232.6" cy="64.3" r="2.3" fill="#440154"/><circle cx="241.9" cy="69.2" r="2.3" fill="#440154"/><circle cx="238.5" cy="54.7" r="2.3" fill="#440154"/><circle cx="236.2" cy="62.1" r="2.3" fill="#440154"/><circle cx="239.2" cy="72.2" r="2.3" fill="#440154"/><circle cx="236.2" cy="62.6" r="2.3" fill="#440154"/><circle cx="240.1" cy="51.6" r="2.3" fill="#440154"/><circle cx="234.9" cy="66.2" r="2.3" fill="#440154"/><circle cx="237.1" cy="51.7" r="2.3" fill="#440154"/><circle cx="242.0" cy="58.4" r="2.3" fill="#440154"/><circle cx="235.9" cy="68.4" r="2.3" fill="#440154"/><circle cx="238.4" cy="62.4" r="2.3" fill="#440154"/><circle cx="248.6" cy="62.8" r="2.3" fill="#440154"/><circle cx="237.9" cy="51.4" r="2.3" fill="#440154"/><circle cx="239.9" cy="66.7" r="2.3" fill="#440154"/><circle cx="233.9" cy="73.3" r="2.3" fill="#440154"/><circle cx="248.1" cy="69.0" r="2.3" fill="#440154"/><circle cx="240.0" cy="43.8" r="2.3" fill="#440154"/><circle cx="263.8" cy="51.2" r="2.3" fill="#440154"/><circle cx="256.2" cy="77.3" r="2.3" fill="#440154"/><circle cx="256.1" cy="54.2" r="2.3" fill="#440154"/><circle cx="268.0" cy="69.7" r="2.3" fill="#440154"/><circle cx="267.3" cy="62.6" r="2.3" fill="#440154"/><circle cx="259.9" cy="76.3" r="2.3" fill="#440154"/><circle cx="270.5" cy="52.2" r="2.3" fill="#440154"/><circle cx="272.8" cy="56.9" r="2.3" fill="#440154"/><circle cx="261.6" cy="66.5" r="2.3" fill="#440154"/><circle cx="270.4" cy="59.4" r="2.3" fill="#440154"/><circle cx="263.9" cy="53.1" r="2.3" fill="#440154"/><circle cx="259.2" cy="71.8" r="2.3" fill="#440154"/><circle cx="264.1" cy="53.6" r="2.3" fill="#440154"/><circle cx="272.7" cy="59.8" r="2.3" fill="#440154"/><circle cx="256.5" cy="52.4" r="2.3" fill="#440154"/><circle cx="272.4" cy="57.6" r="2.3" fill="#440154"/><circle cx="268.8" cy="54.2" r="2.3" fill="#440154"/><circle cx="272.7" cy="56.9" r="2.3" fill="#440154"/><circle cx="257.3" cy="64.2" r="2.3" fill="#440154"/><circle cx="262.4" cy="71.6" r="2.3" fill="#440154"/><circle cx="270.4" cy="69.5" r="2.3" fill="#440154"/><circle cx="271.2" cy="52.2" r="2.3" fill="#440154"/><circle cx="272.3" cy="51.2" r="2.3" fill="#440154"/><circle cx="272.6" cy="69.6" r="2.3" fill="#440154"/><circle cx="266.3" cy="61.8" r="2.3" fill="#440154"/><circle cx="267.0" cy="28.5" r="2.3" fill="#440154"/><circle cx="262.0" cy="50.0" r="2.3" fill="#440154"/><circle cx="274.6" cy="47.6" r="2.3" fill="#440154"/><circle cx="286.4" cy="69.3" r="2.3" fill="#440154"/><circle cx="283.8" cy="52.8" r="2.3" fill="#440154"/><circle cx="296.0" cy="48.8" r="2.3" fill="#440154"/><circle cx="278.5" cy="64.6" r="2.3" fill="#440154"/><circle cx="276.6" cy="51.2" r="2.3" fill="#440154"/><circle cx="291.0" cy="75.0" r="2.3" fill="#440154"/><circle cx="288.5" cy="69.0" r="2.3" fill="#440154"/><circle cx="278.9" cy="56.9" r="2.3" fill="#440154"/><circle cx="277.6" cy="71.1" r="2.3" fill="#440154"/><circle cx="286.2" cy="60.3" r="2.3" fill="#440154"/><circle cx="274.5" cy="72.1" r="2.3" fill="#440154"/><circle cx="291.2" cy="54.0" r="2.3" fill="#440154"/><circle cx="281.1" cy="50.6" r="2.3" fill="#440154"/><circle cx="277.1" cy="46.3" r="2.3" fill="#440154"/><circle cx="290.4" cy="49.0" r="2.3" fill="#440154"/><circle cx="278.6" cy="65.2" r="2.3" fill="#440154"/><circle cx="290.3" cy="62.5" r="2.3" fill="#440154"/><circle cx="288.7" cy="48.7" r="2.3" fill="#440154"/><circle cx="274.1" cy="59.2" r="2.3" fill="#440154"/><circle cx="286.4" cy="43.2" r="2.3" fill="#440154"/><circle cx="242.6" cy="81.5" r="2.3" fill="#5a3d2b"/><circle cx="271.1" cy="77.0" r="2.3" fill="#5a3d2b"/><circle cx="300.7" cy="53.7" r="2.3" fill="#440154"/><circle cx="296.5" cy="63.9" r="2.3" fill="#440154"/><circle cx="296.7" cy="61.2" r="2.3" fill="#440154"/><circle cx="298.6" cy="63.0" r="2.3" fill="#440154"/><circle cx="297.1" cy="61.5" r="2.3" fill="#440154"/><circle cx="309.2" cy="60.9" r="2.3" fill="#440154"/><circle cx="320.4" cy="49.2" r="2.3" fill="#440154"/><circle cx="308.9" cy="48.8" r="2.3" fill="#440154"/><circle cx="323.0" cy="46.8" r="2.3" fill="#440154"/><circle cx="319.9" cy="57.0" r="2.3" fill="#440154"/><circle cx="310.8" cy="57.7" r="2.3" fill="#440154"/><circle cx="317.6" cy="59.0" r="2.3" fill="#440154"/><circle cx="322.4" cy="59.1" r="2.3" fill="#440154"/><circle cx="310.0" cy="56.9" r="2.3" fill="#440154"/><circle cx="323.9" cy="45.2" r="2.3" fill="#440154"/><circle cx="326.2" cy="51.9" r="2.3" fill="#440154"/><circle cx="326.0" cy="51.5" r="2.3" fill="#440154"/><circle cx="316.9" cy="60.0" r="2.3" fill="#440154"/><circle cx="325.4" cy="59.6" r="2.3" fill="#440154"/><circle cx="321.6" cy="48.4" r="2.3" fill="#440154"/><circle cx="313.3" cy="45.7" r="2.3" fill="#440154"/><circle cx="310.3" cy="54.7" r="2.3" fill="#440154"/><circle cx="308.5" cy="59.6" r="2.3" fill="#440154"/><circle cx="320.5" cy="48.5" r="2.3" fill="#440154"/><circle cx="318.2" cy="58.7" r="2.3" fill="#440154"/><circle cx="321.4" cy="57.1" r="2.3" fill="#440154"/><circle cx="320.7" cy="46.9" r="2.3" fill="#440154"/><circle cx="327.2" cy="57.5" r="2.3" fill="#440154"/><circle cx="324.5" cy="59.5" r="2.3" fill="#440154"/><circle cx="310.0" cy="45.4" r="2.3" fill="#440154"/><circle cx="315.8" cy="50.4" r="2.3" fill="#440154"/><circle cx="323.7" cy="49.3" r="2.3" fill="#440154"/><circle cx="308.0" cy="48.4" r="2.3" fill="#440154"/><circle cx="308.2" cy="56.1" r="2.3" fill="#440154"/><circle cx="313.5" cy="49.2" r="2.3" fill="#440154"/><circle cx="315.1" cy="63.2" r="2.3" fill="#440154"/><circle cx="318.2" cy="44.3" r="2.3" fill="#440154"/><circle cx="321.4" cy="51.2" r="2.3" fill="#440154"/><circle cx="317.3" cy="73.6" r="2.3" fill="#440154"/><circle cx="321.8" cy="52.7" r="2.3" fill="#440154"/><circle cx="320.4" cy="37.5" r="2.3" fill="#440154"/><circle cx="312.6" cy="43.3" r="2.3" fill="#440154"/><circle cx="316.0" cy="52.3" r="2.3" fill="#440154"/><circle cx="311.7" cy="42.7" r="2.3" fill="#440154"/><circle cx="316.6" cy="41.9" r="2.3" fill="#440154"/><circle cx="347.7" cy="27.9" r="2.3" fill="#440154"/><circle cx="345.4" cy="42.4" r="2.3" fill="#440154"/><circle cx="348.5" cy="34.3" r="2.3" fill="#440154"/><circle cx="344.5" cy="24.3" r="2.3" fill="#440154"/><circle cx="341.6" cy="25.4" r="2.3" fill="#440154"/><circle cx="328.5" cy="55.8" r="2.3" fill="#440154"/><circle cx="335.5" cy="46.2" r="2.3" fill="#440154"/><circle cx="340.1" cy="49.2" r="2.3" fill="#440154"/><circle cx="328.7" cy="39.9" r="2.3" fill="#440154"/><circle cx="336.9" cy="38.3" r="2.3" fill="#440154"/><circle cx="341.1" cy="57.5" r="2.3" fill="#440154"/><circle cx="345.1" cy="55.9" r="2.3" fill="#440154"/><circle cx="332.0" cy="60.4" r="2.3" fill="#440154"/><circle cx="334.3" cy="36.0" r="2.3" fill="#440154"/><circle cx="332.0" cy="51.7" r="2.3" fill="#440154"/><circle cx="332.4" cy="28.2" r="2.3" fill="#440154"/><circle cx="345.7" cy="38.6" r="2.3" fill="#440154"/><circle cx="340.7" cy="49.4" r="2.3" fill="#440154"/><circle cx="331.3" cy="52.4" r="2.3" fill="#440154"/><circle cx="349.3" cy="38.4" r="2.3" fill="#440154"/><circle cx="334.6" cy="45.8" r="2.3" fill="#440154"/><circle cx="345.0" cy="47.3" r="2.3" fill="#440154"/><circle cx="335.7" cy="30.7" r="2.3" fill="#440154"/><circle cx="348.4" cy="43.9" r="2.3" fill="#440154"/><circle cx="341.4" cy="59.6" r="2.3" fill="#440154"/><circle cx="340.8" cy="60.2" r="2.3" fill="#440154"/><circle cx="332.8" cy="37.2" r="2.3" fill="#440154"/><circle cx="334.9" cy="47.4" r="2.3" fill="#440154"/><circle cx="332.2" cy="34.3" r="2.3" fill="#440154"/><circle cx="333.4" cy="30.8" r="2.3" fill="#440154"/><circle cx="345.8" cy="31.8" r="2.3" fill="#440154"/><circle cx="344.5" cy="40.9" r="2.3" fill="#440154"/><circle cx="331.0" cy="53.2" r="2.3" fill="#440154"/><circle cx="345.0" cy="27.1" r="2.3" fill="#440154"/><circle cx="349.2" cy="38.1" r="2.3" fill="#440154"/><circle cx="359.9" cy="34.8" r="2.3" fill="#440154"/><circle cx="350.4" cy="23.8" r="2.3" fill="#440154"/><circle cx="358.7" cy="36.5" r="2.3" fill="#440154"/><circle cx="361.7" cy="20.7" r="2.3" fill="#440154"/><circle cx="367.7" cy="25.2" r="2.3" fill="#440154"/><circle cx="352.0" cy="34.1" r="2.3" fill="#440154"/><circle cx="350.2" cy="31.2" r="2.3" fill="#440154"/><circle cx="358.1" cy="35.8" r="2.3" fill="#440154"/><circle cx="355.9" cy="42.2" r="2.3" fill="#440154"/><circle cx="369.2" cy="23.4" r="2.3" fill="#440154"/><circle cx="361.8" cy="33.4" r="2.3" fill="#440154"/><circle cx="352.2" cy="24.1" r="2.3" fill="#440154"/><circle cx="369.5" cy="25.6" r="2.3" fill="#440154"/><circle cx="350.2" cy="38.5" r="2.3" fill="#440154"/><circle cx="353.9" cy="20.8" r="2.3" fill="#440154"/><circle cx="356.7" cy="21.9" r="2.3" fill="#440154"/><circle cx="367.2" cy="35.4" r="2.3" fill="#440154"/><circle cx="353.6" cy="33.8" r="2.3" fill="#440154"/><circle cx="359.8" cy="41.3" r="2.3" fill="#440154"/><circle cx="356.0" cy="40.0" r="2.3" fill="#440154"/><circle cx="350.6" cy="34.6" r="2.3" fill="#440154"/><circle cx="359.0" cy="35.3" r="2.3" fill="#440154"/><circle cx="355.3" cy="30.8" r="2.3" fill="#440154"/><circle cx="362.3" cy="35.3" r="2.3" fill="#440154"/><circle cx="362.4" cy="35.4" r="2.3" fill="#440154"/><circle cx="365.0" cy="31.7" r="2.3" fill="#440154"/><circle cx="363.4" cy="20.8" r="2.3" fill="#440154"/><circle cx="357.6" cy="25.6" r="2.3" fill="#440154"/><circle cx="360.3" cy="43.7" r="2.3" fill="#440154"/><circle cx="356.4" cy="46.6" r="2.3" fill="#440154"/><circle cx="366.0" cy="38.7" r="2.3" fill="#440154"/><circle cx="361.7" cy="39.6" r="2.3" fill="#440154"/><circle cx="334.7" cy="4.5" r="2.3" fill="#440154"/><circle cx="362.3" cy="9.2" r="2.3" fill="#440154"/><circle cx="355.7" cy="15.3" r="2.3" fill="#440154"/><circle cx="357.2" cy="62.2" r="2.3" fill="#440154"/><circle cx="364.9" cy="61.6" r="2.3" fill="#440154"/><circle cx="369.4" cy="47.9" r="2.3" fill="#440154"/><circle cx="338.8" cy="60.1" r="2.3" fill="#440154"/><circle cx="314.8" cy="75.4" r="2.3" fill="#440154"/><circle cx="310.3" cy="71.3" r="2.3" fill="#440154"/><path d="M220.2,70.3 L232.4,71.3 L242.6,70.3 L252.8,68.3 L265.0,65.2 L279.3,62.2 L297.0,59.1 L311.3,55.0 L325.6,48.9 L337.8,41.8 L348.0,37.7 L356.1,35.1 L372.5,35.1" fill="none" stroke="#c71585" stroke-width="2.6" stroke-opacity="0.72" stroke-linecap="butt" stroke-linejoin="round"/><path d="M220.2,70.3 L230.3,75.4 L238.5,80.5 L246.7,83.2 L372.5,83.2" fill="none" stroke="#cc8a35" stroke-width="2.9" stroke-opacity="0.75" stroke-linecap="butt" stroke-linejoin="round"/><path d="M219.0,70.3 L228.3,71.3" fill="none" stroke="#4a4a33" stroke-width="2.7" stroke-opacity="0.95" stroke-linecap="butt" stroke-linejoin="round"/></g></g>
<rect x="212.00" y="0.50" width="167.50" height="87.20" fill="none" stroke="#333" stroke-width="0.85"/>
<line x1="209.60" x2="212.00" y1="83.70" y2="83.70" stroke="#555" stroke-width="0.7"/>
<text x="208.40" y="86.20" text-anchor="end" class="t">0</text>
<line x1="209.60" x2="212.00" y1="67.76" y2="67.76" stroke="#555" stroke-width="0.7"/>
<text x="208.40" y="70.26" text-anchor="end" class="t">10</text>
<line x1="209.60" x2="212.00" y1="51.82" y2="51.82" stroke="#555" stroke-width="0.7"/>
<text x="208.40" y="54.32" text-anchor="end" class="t">20</text>
<line x1="209.60" x2="212.00" y1="35.88" y2="35.88" stroke="#555" stroke-width="0.7"/>
<text x="208.40" y="38.38" text-anchor="end" class="t">30</text>
<line x1="209.60" x2="212.00" y1="19.94" y2="19.94" stroke="#555" stroke-width="0.7"/>
<text x="208.40" y="22.44" text-anchor="end" class="t">40</text>
<line x1="209.60" x2="212.00" y1="4.00" y2="4.00" stroke="#555" stroke-width="0.7"/>
<text x="208.40" y="6.50" text-anchor="end" class="t">50</text>
<line x1="219.61" x2="219.61" y1="87.70" y2="90.10" stroke="#555" stroke-width="0.7"/>
<line x1="250.07" x2="250.07" y1="87.70" y2="90.10" stroke="#555" stroke-width="0.7"/>
<line x1="280.52" x2="280.52" y1="87.70" y2="90.10" stroke="#555" stroke-width="0.7"/>
<line x1="310.98" x2="310.98" y1="87.70" y2="90.10" stroke="#555" stroke-width="0.7"/>
<line x1="341.43" x2="341.43" y1="87.70" y2="90.10" stroke="#555" stroke-width="0.7"/>
<line x1="371.89" x2="371.89" y1="87.70" y2="90.10" stroke="#555" stroke-width="0.7"/>
<rect x="211.70" y="107.30" width="167.70" height="8.20" fill="url(#vir)" fill-opacity="0.75" stroke="#111" stroke-width="0.9"/>
<line x1="211.70" x2="211.70" y1="115.50" y2="117.70" stroke="#555" stroke-width="0.8"/>
<text x="211.70" y="125.10" text-anchor="middle" class="t">0.0</text>
<line x1="245.24" x2="245.24" y1="115.50" y2="117.70" stroke="#555" stroke-width="0.8"/>
<text x="245.24" y="125.10" text-anchor="middle" class="t">0.2</text>
<line x1="278.78" x2="278.78" y1="115.50" y2="117.70" stroke="#555" stroke-width="0.8"/>
<text x="278.78" y="125.10" text-anchor="middle" class="t">0.4</text>
<line x1="312.32" x2="312.32" y1="115.50" y2="117.70" stroke="#555" stroke-width="0.8"/>
<text x="312.32" y="125.10" text-anchor="middle" class="t">0.6</text>
<line x1="345.86" x2="345.86" y1="115.50" y2="117.70" stroke="#555" stroke-width="0.8"/>
<text x="345.86" y="125.10" text-anchor="middle" class="t">0.8</text>
<line x1="379.40" x2="379.40" y1="115.50" y2="117.70" stroke="#555" stroke-width="0.8"/>
<text x="379.40" y="125.10" text-anchor="middle" class="t">1.0</text>
<clipPath id="scb"><rect x="211.70" y="141.50" width="167.70" height="24.70"/></clipPath>
<g clip-path="url(#scb)"><line x1="227.23" x2="227.23" y1="165.08" y2="142.62" stroke="#1f77b4" stroke-width="1.1"/><circle cx="227.23" cy="142.62" r="2.1" fill="#1f77b4"/><circle cx="231.95" cy="165.08" r="2.1" fill="#1f77b4"/><circle cx="236.68" cy="165.08" r="2.1" fill="#1f77b4"/><circle cx="241.40" cy="165.08" r="2.1" fill="#1f77b4"/><circle cx="246.13" cy="165.08" r="2.1" fill="#1f77b4"/><circle cx="250.86" cy="165.08" r="2.1" fill="#1f77b4"/><circle cx="255.58" cy="165.08" r="2.1" fill="#1f77b4"/><circle cx="260.31" cy="165.08" r="2.1" fill="#1f77b4"/><circle cx="265.03" cy="165.08" r="2.1" fill="#1f77b4"/><circle cx="269.76" cy="165.08" r="2.1" fill="#1f77b4"/><circle cx="274.48" cy="165.08" r="2.1" fill="#1f77b4"/><circle cx="279.21" cy="165.08" r="2.1" fill="#1f77b4"/><circle cx="283.94" cy="165.08" r="2.1" fill="#1f77b4"/><circle cx="288.66" cy="165.08" r="2.1" fill="#1f77b4"/><circle cx="293.39" cy="165.08" r="2.1" fill="#1f77b4"/><circle cx="298.11" cy="165.08" r="2.1" fill="#1f77b4"/><circle cx="302.84" cy="165.08" r="2.1" fill="#1f77b4"/><circle cx="307.56" cy="165.08" r="2.1" fill="#1f77b4"/><circle cx="312.29" cy="165.08" r="2.1" fill="#1f77b4"/><circle cx="317.02" cy="165.08" r="2.1" fill="#1f77b4"/><circle cx="321.74" cy="165.08" r="2.1" fill="#1f77b4"/><circle cx="326.47" cy="165.08" r="2.1" fill="#1f77b4"/><circle cx="331.19" cy="165.08" r="2.1" fill="#1f77b4"/><circle cx="335.92" cy="165.08" r="2.1" fill="#1f77b4"/><circle cx="340.64" cy="165.08" r="2.1" fill="#1f77b4"/><circle cx="345.37" cy="165.08" r="2.1" fill="#1f77b4"/><circle cx="350.10" cy="165.08" r="2.1" fill="#1f77b4"/><circle cx="354.82" cy="165.08" r="2.1" fill="#1f77b4"/><circle cx="359.55" cy="165.08" r="2.1" fill="#1f77b4"/><circle cx="364.27" cy="165.08" r="2.1" fill="#1f77b4"/><line x1="227.23" x2="364.27" y1="165.08" y2="165.08" stroke="#d62728" stroke-width="1.2"/></g>
<rect x="211.70" y="141.50" width="167.70" height="24.70" fill="none" stroke="#333" stroke-width="0.85"/>
<line x1="209.30" x2="211.70" y1="165.08" y2="165.08" stroke="#444" stroke-width="0.7"/>
<text x="208.10" y="167.58" text-anchor="end" class="t">0</text>
<line x1="209.30" x2="211.70" y1="142.62" y2="142.62" stroke="#444" stroke-width="0.7"/>
<text x="208.10" y="145.12" text-anchor="end" class="t">1</text>
<line x1="219.61" x2="219.61" y1="166.20" y2="168.60" stroke="#444" stroke-width="0.7"/>
<text x="219.61" y="175.80" text-anchor="middle" class="t">0.0</text>
<line x1="250.07" x2="250.07" y1="166.20" y2="168.60" stroke="#444" stroke-width="0.7"/>
<text x="250.07" y="175.80" text-anchor="middle" class="t">0.2</text>
<line x1="280.52" x2="280.52" y1="166.20" y2="168.60" stroke="#444" stroke-width="0.7"/>
<text x="280.52" y="175.80" text-anchor="middle" class="t">0.4</text>
<line x1="310.98" x2="310.98" y1="166.20" y2="168.60" stroke="#444" stroke-width="0.7"/>
<text x="310.98" y="175.80" text-anchor="middle" class="t">0.6</text>
<line x1="341.43" x2="341.43" y1="166.20" y2="168.60" stroke="#444" stroke-width="0.7"/>
<text x="341.43" y="175.80" text-anchor="middle" class="t">0.8</text>
<line x1="371.89" x2="371.89" y1="166.20" y2="168.60" stroke="#444" stroke-width="0.7"/>
<text x="371.89" y="175.80" text-anchor="middle" class="t">1.0</text>
<text x="212.20" y="207.80" class="lab">(b)</text>
<text x="243.60" y="207.80" class="cap">CTSG</text>
<text x="304.20" y="207.80" class="cap">b = 0.05</text>
<g><clipPath id="cpc"><rect x="415.70" y="3.50" width="164.80" height="86.40"/></clipPath><g clip-path="url(#cpc)"><circle cx="479.9" cy="76.8" r="2.3" fill="#fde725"/><circle cx="459.5" cy="78.8" r="2.3" fill="#fde725"/><circle cx="485.3" cy="83.6" r="2.3" fill="#fde725"/><circle cx="494.0" cy="77.4" r="2.3" fill="#fde725"/><circle cx="467.7" cy="76.8" r="2.3" fill="#fde725"/><circle cx="456.4" cy="81.8" r="2.3" fill="#fde725"/><circle cx="445.7" cy="78.6" r="2.3" fill="#fde725"/><circle cx="480.5" cy="82.2" r="2.3" fill="#fde725"/><circle cx="456.5" cy="82.7" r="2.3" fill="#fde725"/><circle cx="489.4" cy="76.6" r="2.3" fill="#fde725"/><circle cx="489.2" cy="83.8" r="2.3" fill="#fde725"/><circle cx="463.2" cy="78.1" r="2.3" fill="#fde725"/><circle cx="497.6" cy="80.0" r="2.3" fill="#fde725"/><circle cx="449.4" cy="77.5" r="2.3" fill="#fde725"/><circle cx="491.5" cy="82.8" r="2.3" fill="#fde725"/><circle cx="489.2" cy="84.2" r="2.3" fill="#fde725"/><circle cx="474.1" cy="86.7" r="2.3" fill="#fde725"/><circle cx="465.3" cy="82.3" r="2.3" fill="#fde725"/><circle cx="490.5" cy="83.0" r="2.3" fill="#fde725"/><circle cx="492.3" cy="82.6" r="2.3" fill="#fde725"/><circle cx="483.5" cy="77.0" r="2.3" fill="#fde725"/><circle cx="456.9" cy="79.5" r="2.3" fill="#fde725"/><circle cx="448.7" cy="78.9" r="2.3" fill="#fde725"/><circle cx="449.8" cy="79.4" r="2.3" fill="#fde725"/><circle cx="479.7" cy="80.3" r="2.3" fill="#fde725"/><circle cx="464.9" cy="78.7" r="2.3" fill="#fde725"/><circle cx="459.1" cy="86.3" r="2.3" fill="#fde725"/><circle cx="480.4" cy="82.9" r="2.3" fill="#fde725"/><circle cx="453.7" cy="84.2" r="2.3" fill="#fde725"/><circle cx="453.3" cy="80.5" r="2.3" fill="#fde725"/><circle cx="499.4" cy="83.2" r="2.3" fill="#fde725"/><circle cx="475.3" cy="83.7" r="2.3" fill="#fde725"/><circle cx="491.2" cy="84.6" r="2.3" fill="#fde725"/><circle cx="457.0" cy="76.8" r="2.3" fill="#fde725"/><circle cx="461.8" cy="79.3" r="2.3" fill="#fde725"/><circle cx="456.0" cy="86.4" r="2.3" fill="#fde725"/><circle cx="493.1" cy="79.8" r="2.3" fill="#fde725"/><circle cx="480.8" cy="80.7" r="2.3" fill="#fde725"/><circle cx="495.2" cy="81.3" r="2.3" fill="#fde725"/><circle cx="459.0" cy="79.1" r="2.3" fill="#fde725"/><circle cx="475.5" cy="79.3" r="2.3" fill="#fde725"/><circle cx="476.8" cy="85.9" r="2.3" fill="#fde725"/><circle cx="466.5" cy="78.8" r="2.3" fill="#fde725"/><circle cx="499.9" cy="81.9" r="2.3" fill="#fde725"/><circle cx="449.3" cy="77.0" r="2.3" fill="#fde725"/><circle cx="450.3" cy="83.1" r="2.3" fill="#fde725"/><circle cx="488.4" cy="80.9" r="2.3" fill="#fde725"/><circle cx="447.7" cy="80.5" r="2.3" fill="#fde725"/><circle cx="499.8" cy="82.1" r="2.3" fill="#fde725"/><circle cx="498.4" cy="85.5" r="2.3" fill="#fde725"/><circle cx="444.8" cy="84.1" r="2.3" fill="#fde725"/><circle cx="482.2" cy="82.1" r="2.3" fill="#fde725"/><circle cx="459.1" cy="83.2" r="2.3" fill="#fde725"/><circle cx="450.4" cy="81.1" r="2.3" fill="#fde725"/><circle cx="469.5" cy="86.5" r="2.3" fill="#fde725"/><circle cx="493.1" cy="79.3" r="2.3" fill="#fde725"/><circle cx="472.1" cy="78.4" r="2.3" fill="#fde725"/><circle cx="495.1" cy="85.6" r="2.3" fill="#fde725"/><circle cx="460.9" cy="83.2" r="2.3" fill="#fde725"/><circle cx="478.2" cy="78.1" r="2.3" fill="#fde725"/><circle cx="486.7" cy="82.2" r="2.3" fill="#fde725"/><circle cx="487.6" cy="82.1" r="2.3" fill="#fde725"/><circle cx="444.2" cy="79.9" r="2.3" fill="#fde725"/><circle cx="445.3" cy="86.3" r="2.3" fill="#fde725"/><circle cx="493.2" cy="85.2" r="2.3" fill="#fde725"/><circle cx="461.4" cy="77.1" r="2.3" fill="#fde725"/><circle cx="493.2" cy="86.4" r="2.3" fill="#fde725"/><circle cx="449.0" cy="81.6" r="2.3" fill="#fde725"/><circle cx="448.1" cy="84.5" r="2.3" fill="#fde725"/><circle cx="486.9" cy="77.8" r="2.3" fill="#fde725"/><circle cx="473.3" cy="70.8" r="2.3" fill="#fde725"/><circle cx="494.2" cy="74.2" r="2.3" fill="#fde725"/><circle cx="491.9" cy="75.5" r="2.3" fill="#fde725"/><circle cx="493.7" cy="72.8" r="2.3" fill="#fde725"/><circle cx="494.9" cy="74.9" r="2.3" fill="#fde725"/><circle cx="449.2" cy="74.9" r="2.3" fill="#fde725"/><circle cx="469.9" cy="76.9" r="2.3" fill="#fde725"/><circle cx="455.4" cy="76.1" r="2.3" fill="#fde725"/><circle cx="447.1" cy="74.3" r="2.3" fill="#fde725"/><circle cx="452.8" cy="76.5" r="2.3" fill="#fde725"/><circle cx="450.0" cy="74.3" r="2.3" fill="#fde725"/><circle cx="445.8" cy="76.8" r="2.3" fill="#fde725"/><circle cx="450.0" cy="78.4" r="2.3" fill="#fde725"/><circle cx="561.9" cy="79.5" r="2.3" fill="#fde725"/><circle cx="517.1" cy="84.0" r="2.3" fill="#fde725"/><circle cx="515.4" cy="80.0" r="2.3" fill="#fde725"/><circle cx="567.4" cy="83.3" r="2.3" fill="#fde725"/><circle cx="534.0" cy="84.9" r="2.3" fill="#fde725"/><circle cx="558.1" cy="80.4" r="2.3" fill="#fde725"/><circle cx="507.0" cy="82.2" r="2.3" fill="#fde725"/><circle cx="530.5" cy="82.5" r="2.3" fill="#fde725"/><circle cx="552.5" cy="84.1" r="2.3" fill="#fde725"/><circle cx="570.9" cy="79.7" r="2.3" fill="#fde725"/><circle cx="529.0" cy="81.5" r="2.3" fill="#fde725"/><circle cx="562.0" cy="80.9" r="2.3" fill="#fde725"/><circle cx="513.7" cy="82.4" r="2.3" fill="#fde725"/><circle cx="530.4" cy="81.1" r="2.3" fill="#fde725"/><circle cx="518.0" cy="85.9" r="2.3" fill="#fde725"/><circle cx="531.9" cy="85.5" r="2.3" fill="#fde725"/><circle cx="539.6" cy="79.4" r="2.3" fill="#fde725"/><circle cx="571.9" cy="85.3" r="2.3" fill="#fde725"/><circle cx="569.8" cy="85.9" r="2.3" fill="#fde725"/><circle cx="561.1" cy="80.2" r="2.3" fill="#fde725"/><circle cx="535.0" cy="80.6" r="2.3" fill="#fde725"/><circle cx="528.9" cy="79.4" r="2.3" fill="#fde725"/><circle cx="527.3" cy="86.4" r="2.3" fill="#fde725"/><circle cx="519.1" cy="84.9" r="2.3" fill="#fde725"/><circle cx="532.8" cy="82.2" r="2.3" fill="#fde725"/><circle cx="568.9" cy="86.5" r="2.3" fill="#fde725"/><circle cx="540.0" cy="84.4" r="2.3" fill="#fde725"/><circle cx="511.1" cy="81.2" r="2.3" fill="#fde725"/><circle cx="569.7" cy="83.3" r="2.3" fill="#fde725"/><circle cx="539.0" cy="84.6" r="2.3" fill="#fde725"/><circle cx="504.1" cy="83.4" r="2.3" fill="#fde725"/><circle cx="536.2" cy="85.4" r="2.3" fill="#fde725"/><circle cx="511.3" cy="86.2" r="2.3" fill="#fde725"/><circle cx="505.8" cy="80.4" r="2.3" fill="#fde725"/><circle cx="542.8" cy="84.1" r="2.3" fill="#fde725"/><circle cx="516.9" cy="79.9" r="2.3" fill="#fde725"/><circle cx="564.1" cy="80.8" r="2.3" fill="#fde725"/><circle cx="542.8" cy="83.6" r="2.3" fill="#fde725"/><circle cx="530.2" cy="83.4" r="2.3" fill="#fde725"/><circle cx="537.6" cy="86.0" r="2.3" fill="#fde725"/><circle cx="514.7" cy="84.4" r="2.3" fill="#fde725"/><circle cx="517.2" cy="82.0" r="2.3" fill="#fde725"/><circle cx="548.4" cy="81.2" r="2.3" fill="#fde725"/><circle cx="522.8" cy="84.6" r="2.3" fill="#fde725"/><circle cx="505.2" cy="82.4" r="2.3" fill="#fde725"/><circle cx="571.9" cy="86.5" r="2.3" fill="#fde725"/><circle cx="505.3" cy="80.6" r="2.3" fill="#fde725"/><circle cx="519.1" cy="86.0" r="2.3" fill="#fde725"/><circle cx="563.4" cy="85.6" r="2.3" fill="#fde725"/><circle cx="526.6" cy="80.2" r="2.3" fill="#fde725"/><circle cx="560.0" cy="84.3" r="2.3" fill="#fde725"/><circle cx="544.0" cy="86.4" r="2.3" fill="#fde725"/><circle cx="547.1" cy="79.1" r="2.3" fill="#fde725"/><circle cx="558.8" cy="81.2" r="2.3" fill="#fde725"/><circle cx="547.8" cy="86.0" r="2.3" fill="#fde725"/><circle cx="509.7" cy="79.9" r="2.3" fill="#fde725"/><circle cx="507.7" cy="83.1" r="2.3" fill="#fde725"/><circle cx="519.6" cy="83.5" r="2.3" fill="#fde725"/><circle cx="551.7" cy="80.5" r="2.3" fill="#fde725"/><circle cx="545.7" cy="81.0" r="2.3" fill="#fde725"/><circle cx="535.2" cy="85.8" r="2.3" fill="#fde725"/><circle cx="560.9" cy="79.7" r="2.3" fill="#fde725"/><circle cx="530.5" cy="81.1" r="2.3" fill="#fde725"/><circle cx="500.3" cy="84.8" r="2.3" fill="#fde725"/><circle cx="545.9" cy="81.0" r="2.3" fill="#fde725"/><circle cx="553.4" cy="83.1" r="2.3" fill="#fde725"/><circle cx="530.8" cy="79.1" r="2.3" fill="#fde725"/><circle cx="505.4" cy="85.6" r="2.3" fill="#fde725"/><circle cx="565.1" cy="83.1" r="2.3" fill="#fde725"/><circle cx="560.1" cy="83.4" r="2.3" fill="#fde725"/><circle cx="498.9" cy="75.6" r="2.3" fill="#fde725"/><circle cx="501.0" cy="79.5" r="2.3" fill="#fde725"/><circle cx="507.3" cy="79.3" r="2.3" fill="#fde725"/><circle cx="508.7" cy="76.1" r="2.3" fill="#fde725"/><circle cx="500.2" cy="75.5" r="2.3" fill="#fde725"/><circle cx="534.5" cy="75.0" r="2.3" fill="#fde725"/><circle cx="429.9" cy="76.0" r="2.3" fill="#440154"/><circle cx="426.7" cy="68.9" r="2.3" fill="#440154"/><circle cx="424.6" cy="77.3" r="2.3" fill="#440154"/><circle cx="430.6" cy="78.6" r="2.3" fill="#440154"/><circle cx="430.1" cy="76.0" r="2.3" fill="#440154"/><circle cx="423.5" cy="72.0" r="2.3" fill="#440154"/><circle cx="426.1" cy="77.3" r="2.3" fill="#440154"/><circle cx="430.0" cy="75.5" r="2.3" fill="#440154"/><circle cx="430.1" cy="59.3" r="2.3" fill="#440154"/><circle cx="429.9" cy="54.9" r="2.3" fill="#440154"/><circle cx="430.6" cy="75.4" r="2.3" fill="#440154"/><circle cx="425.2" cy="74.2" r="2.3" fill="#440154"/><circle cx="427.2" cy="60.3" r="2.3" fill="#440154"/><circle cx="430.0" cy="58.2" r="2.3" fill="#440154"/><circle cx="423.5" cy="57.3" r="2.3" fill="#440154"/><circle cx="426.1" cy="75.5" r="2.3" fill="#440154"/><circle cx="431.4" cy="59.6" r="2.3" fill="#440154"/><circle cx="428.7" cy="62.9" r="2.3" fill="#440154"/><circle cx="431.5" cy="66.6" r="2.3" fill="#440154"/><circle cx="431.2" cy="55.1" r="2.3" fill="#440154"/><circle cx="431.5" cy="56.9" r="2.3" fill="#440154"/><circle cx="431.4" cy="59.2" r="2.3" fill="#440154"/><circle cx="424.2" cy="63.8" r="2.3" fill="#440154"/><circle cx="429.4" cy="60.5" r="2.3" fill="#440154"/><circle cx="423.3" cy="82.3" r="2.3" fill="#440154"/><circle cx="439.1" cy="66.3" r="2.3" fill="#1f9e89"/><circle cx="435.2" cy="68.1" r="2.3" fill="#1f9e89"/><circle cx="433.0" cy="71.8" r="2.3" fill="#1f9e89"/><circle cx="428.5" cy="77.9" r="2.3" fill="#1f9e89"/><circle cx="437.9" cy="72.1" r="2.3" fill="#1f9e89"/><circle cx="441.5" cy="70.8" r="2.3" fill="#1f9e89"/><circle cx="434.9" cy="54.0" r="2.3" fill="#1f9e89"/><circle cx="440.1" cy="61.2" r="2.3" fill="#1f9e89"/><circle cx="434.0" cy="75.7" r="2.3" fill="#1f9e89"/><circle cx="441.1" cy="60.4" r="2.3" fill="#1f9e89"/><circle cx="433.9" cy="63.4" r="2.3" fill="#1f9e89"/><circle cx="435.5" cy="60.3" r="2.3" fill="#1f9e89"/><circle cx="430.7" cy="63.8" r="2.3" fill="#1f9e89"/><circle cx="445.0" cy="71.0" r="2.3" fill="#1f9e89"/><circle cx="444.3" cy="69.2" r="2.3" fill="#1f9e89"/><circle cx="433.8" cy="67.3" r="2.3" fill="#1f9e89"/><circle cx="428.5" cy="60.0" r="2.3" fill="#1f9e89"/><circle cx="436.0" cy="68.2" r="2.3" fill="#1f9e89"/><circle cx="437.9" cy="62.0" r="2.3" fill="#31688e"/><circle cx="435.3" cy="58.2" r="2.3" fill="#31688e"/><circle cx="435.7" cy="68.5" r="2.3" fill="#31688e"/><circle cx="439.6" cy="57.5" r="2.3" fill="#31688e"/><circle cx="431.0" cy="62.7" r="2.3" fill="#31688e"/><circle cx="437.9" cy="42.7" r="2.3" fill="#3e4a89"/><circle cx="439.0" cy="49.4" r="2.3" fill="#31688e"/><circle cx="438.5" cy="78.1" r="2.3" fill="#35b779"/><circle cx="440.8" cy="79.4" r="2.3" fill="#35b779"/><circle cx="439.0" cy="77.7" r="2.3" fill="#35b779"/><circle cx="433.1" cy="77.1" r="2.3" fill="#35b779"/><circle cx="445.2" cy="61.7" r="2.3" fill="#440154"/><circle cx="450.2" cy="56.2" r="2.3" fill="#440154"/><circle cx="446.6" cy="63.8" r="2.3" fill="#440154"/><circle cx="444.7" cy="64.7" r="2.3" fill="#440154"/><circle cx="447.3" cy="58.5" r="2.3" fill="#440154"/><circle cx="448.6" cy="55.3" r="2.3" fill="#440154"/><circle cx="449.4" cy="65.7" r="2.3" fill="#440154"/><circle cx="444.0" cy="61.0" r="2.3" fill="#440154"/><circle cx="444.6" cy="68.2" r="2.3" fill="#440154"/><circle cx="447.5" cy="55.9" r="2.3" fill="#440154"/><circle cx="447.4" cy="77.0" r="2.3" fill="#1f9e89"/><circle cx="449.4" cy="76.7" r="2.3" fill="#1f9e89"/><circle cx="451.4" cy="78.0" r="2.3" fill="#1f9e89"/><circle cx="450.7" cy="77.7" r="2.3" fill="#1f9e89"/><circle cx="453.6" cy="75.3" r="2.3" fill="#1f9e89"/><circle cx="451.9" cy="74.5" r="2.3" fill="#1f9e89"/><circle cx="473.3" cy="62.7" r="2.3" fill="#440154"/><circle cx="474.6" cy="65.3" r="2.3" fill="#440154"/><circle cx="466.6" cy="58.7" r="2.3" fill="#440154"/><circle cx="462.3" cy="63.9" r="2.3" fill="#440154"/><circle cx="472.1" cy="62.3" r="2.3" fill="#440154"/><circle cx="469.5" cy="58.9" r="2.3" fill="#440154"/><circle cx="459.2" cy="59.1" r="2.3" fill="#440154"/><circle cx="462.8" cy="59.5" r="2.3" fill="#440154"/><circle cx="467.9" cy="57.1" r="2.3" fill="#440154"/><circle cx="462.0" cy="64.6" r="2.3" fill="#440154"/><circle cx="471.0" cy="56.1" r="2.3" fill="#440154"/><circle cx="465.4" cy="62.6" r="2.3" fill="#440154"/><circle cx="465.5" cy="58.0" r="2.3" fill="#440154"/><circle cx="465.6" cy="67.5" r="2.3" fill="#440154"/><circle cx="468.7" cy="64.7" r="2.3" fill="#440154"/><circle cx="473.8" cy="65.6" r="2.3" fill="#440154"/><circle cx="464.9" cy="55.3" r="2.3" fill="#440154"/><circle cx="464.3" cy="65.4" r="2.3" fill="#440154"/><circle cx="473.7" cy="68.2" r="2.3" fill="#440154"/><circle cx="465.6" cy="65.4" r="2.3" fill="#440154"/><circle cx="468.0" cy="63.4" r="2.3" fill="#440154"/><circle cx="461.8" cy="58.2" r="2.3" fill="#440154"/><circle cx="465.9" cy="55.6" r="2.3" fill="#440154"/><circle cx="464.0" cy="64.4" r="2.3" fill="#440154"/><circle cx="465.3" cy="57.4" r="2.3" fill="#440154"/><circle cx="489.1" cy="48.0" r="2.3" fill="#440154"/><circle cx="492.3" cy="45.6" r="2.3" fill="#440154"/><circle cx="487.6" cy="58.4" r="2.3" fill="#440154"/><circle cx="480.2" cy="60.3" r="2.3" fill="#440154"/><circle cx="482.4" cy="56.0" r="2.3" fill="#440154"/><circle cx="480.6" cy="54.0" r="2.3" fill="#440154"/><circle cx="483.9" cy="52.8" r="2.3" fill="#440154"/><circle cx="495.1" cy="54.0" r="2.3" fill="#440154"/><circle cx="494.9" cy="64.8" r="2.3" fill="#440154"/><circle cx="484.7" cy="46.9" r="2.3" fill="#440154"/><circle cx="480.0" cy="57.8" r="2.3" fill="#440154"/><circle cx="500.0" cy="53.3" r="2.3" fill="#440154"/><circle cx="492.9" cy="63.6" r="2.3" fill="#440154"/><circle cx="492.9" cy="63.0" r="2.3" fill="#440154"/><circle cx="499.0" cy="49.7" r="2.3" fill="#440154"/><circle cx="480.0" cy="48.6" r="2.3" fill="#440154"/><circle cx="482.2" cy="60.9" r="2.3" fill="#440154"/><circle cx="491.1" cy="50.2" r="2.3" fill="#440154"/><circle cx="493.9" cy="63.3" r="2.3" fill="#440154"/><circle cx="483.0" cy="59.5" r="2.3" fill="#440154"/><circle cx="494.9" cy="47.7" r="2.3" fill="#440154"/><circle cx="496.3" cy="68.0" r="2.3" fill="#440154"/><circle cx="494.2" cy="39.0" r="2.3" fill="#440154"/><circle cx="489.6" cy="44.8" r="2.3" fill="#440154"/><circle cx="469.2" cy="69.8" r="2.3" fill="#440154"/><circle cx="480.6" cy="74.0" r="2.3" fill="#440154"/><circle cx="460.8" cy="79.2" r="2.3" fill="#5a3d2b"/><circle cx="462.0" cy="74.0" r="2.3" fill="#5a3d2b"/><circle cx="497.6" cy="47.3" r="2.3" fill="#440154"/><circle cx="498.6" cy="57.5" r="2.3" fill="#440154"/><circle cx="502.0" cy="53.1" r="2.3" fill="#440154"/><circle cx="500.7" cy="48.1" r="2.3" fill="#440154"/><circle cx="526.8" cy="51.1" r="2.3" fill="#440154"/><circle cx="512.0" cy="54.7" r="2.3" fill="#440154"/><circle cx="530.8" cy="50.4" r="2.3" fill="#440154"/><circle cx="512.5" cy="60.0" r="2.3" fill="#440154"/><circle cx="529.1" cy="44.1" r="2.3" fill="#440154"/><circle cx="520.2" cy="44.7" r="2.3" fill="#440154"/><circle cx="522.1" cy="43.9" r="2.3" fill="#440154"/><circle cx="530.7" cy="56.0" r="2.3" fill="#440154"/><circle cx="512.1" cy="59.4" r="2.3" fill="#440154"/><circle cx="525.4" cy="56.1" r="2.3" fill="#440154"/><circle cx="527.2" cy="46.3" r="2.3" fill="#440154"/><circle cx="527.8" cy="59.5" r="2.3" fill="#440154"/><circle cx="516.3" cy="55.6" r="2.3" fill="#440154"/><circle cx="523.0" cy="47.5" r="2.3" fill="#440154"/><circle cx="520.4" cy="53.7" r="2.3" fill="#440154"/><circle cx="516.2" cy="56.7" r="2.3" fill="#440154"/><circle cx="530.3" cy="37.6" r="2.3" fill="#440154"/><circle cx="531.5" cy="41.5" r="2.3" fill="#440154"/><circle cx="521.1" cy="50.7" r="2.3" fill="#440154"/><circle cx="519.0" cy="36.1" r="2.3" fill="#440154"/><circle cx="530.8" cy="39.9" r="2.3" fill="#440154"/><circle cx="514.8" cy="55.3" r="2.3" fill="#440154"/><circle cx="518.0" cy="57.4" r="2.3" fill="#440154"/><circle cx="527.0" cy="42.3" r="2.3" fill="#440154"/><circle cx="509.8" cy="59.1" r="2.3" fill="#440154"/><circle cx="511.6" cy="53.4" r="2.3" fill="#440154"/><circle cx="521.7" cy="54.4" r="2.3" fill="#440154"/><circle cx="526.8" cy="51.5" r="2.3" fill="#440154"/><circle cx="521.8" cy="55.2" r="2.3" fill="#440154"/><circle cx="511.8" cy="40.9" r="2.3" fill="#440154"/><circle cx="526.8" cy="43.1" r="2.3" fill="#440154"/><circle cx="524.0" cy="47.2" r="2.3" fill="#440154"/><circle cx="522.8" cy="46.0" r="2.3" fill="#440154"/><circle cx="528.1" cy="43.7" r="2.3" fill="#440154"/><circle cx="527.1" cy="42.2" r="2.3" fill="#440154"/><circle cx="539.7" cy="33.0" r="2.3" fill="#440154"/><circle cx="538.5" cy="32.9" r="2.3" fill="#440154"/><circle cx="545.6" cy="53.0" r="2.3" fill="#440154"/><circle cx="538.4" cy="36.0" r="2.3" fill="#440154"/><circle cx="544.6" cy="51.8" r="2.3" fill="#440154"/><circle cx="554.8" cy="45.6" r="2.3" fill="#440154"/><circle cx="540.4" cy="32.3" r="2.3" fill="#440154"/><circle cx="538.5" cy="36.3" r="2.3" fill="#440154"/><circle cx="538.2" cy="29.6" r="2.3" fill="#440154"/><circle cx="545.6" cy="37.8" r="2.3" fill="#440154"/><circle cx="554.8" cy="46.5" r="2.3" fill="#440154"/><circle cx="549.0" cy="33.1" r="2.3" fill="#440154"/><circle cx="552.6" cy="44.5" r="2.3" fill="#440154"/><circle cx="552.7" cy="47.1" r="2.3" fill="#440154"/><circle cx="544.3" cy="42.9" r="2.3" fill="#440154"/><circle cx="538.3" cy="30.8" r="2.3" fill="#440154"/><circle cx="554.1" cy="44.1" r="2.3" fill="#440154"/><circle cx="551.6" cy="41.7" r="2.3" fill="#440154"/><circle cx="536.0" cy="48.8" r="2.3" fill="#440154"/><circle cx="535.6" cy="33.9" r="2.3" fill="#440154"/><circle cx="546.2" cy="38.7" r="2.3" fill="#440154"/><circle cx="555.2" cy="32.9" r="2.3" fill="#440154"/><circle cx="550.4" cy="48.1" r="2.3" fill="#440154"/><circle cx="550.9" cy="36.2" r="2.3" fill="#440154"/><circle cx="545.4" cy="43.3" r="2.3" fill="#440154"/><circle cx="543.7" cy="56.0" r="2.3" fill="#440154"/><circle cx="555.1" cy="38.7" r="2.3" fill="#440154"/><circle cx="547.4" cy="48.2" r="2.3" fill="#440154"/><circle cx="549.9" cy="58.8" r="2.3" fill="#440154"/><circle cx="538.8" cy="35.8" r="2.3" fill="#440154"/><circle cx="565.0" cy="28.6" r="2.3" fill="#440154"/><circle cx="556.4" cy="26.7" r="2.3" fill="#440154"/><circle cx="553.3" cy="35.3" r="2.3" fill="#440154"/><circle cx="563.8" cy="31.7" r="2.3" fill="#440154"/><circle cx="557.4" cy="41.2" r="2.3" fill="#440154"/><circle cx="565.7" cy="35.4" r="2.3" fill="#440154"/><circle cx="565.5" cy="46.2" r="2.3" fill="#440154"/><circle cx="567.2" cy="39.3" r="2.3" fill="#440154"/><circle cx="565.0" cy="46.4" r="2.3" fill="#440154"/><circle cx="560.8" cy="37.5" r="2.3" fill="#440154"/><circle cx="564.8" cy="45.8" r="2.3" fill="#440154"/><circle cx="567.9" cy="26.6" r="2.3" fill="#440154"/><circle cx="556.2" cy="32.0" r="2.3" fill="#440154"/><circle cx="566.6" cy="38.0" r="2.3" fill="#440154"/><circle cx="558.4" cy="27.8" r="2.3" fill="#440154"/><circle cx="565.5" cy="41.0" r="2.3" fill="#440154"/><circle cx="570.0" cy="36.5" r="2.3" fill="#440154"/><circle cx="562.0" cy="26.8" r="2.3" fill="#440154"/><circle cx="554.0" cy="34.9" r="2.3" fill="#440154"/><circle cx="559.0" cy="30.7" r="2.3" fill="#440154"/><circle cx="554.9" cy="47.0" r="2.3" fill="#440154"/><circle cx="568.1" cy="38.2" r="2.3" fill="#440154"/><circle cx="570.1" cy="47.9" r="2.3" fill="#440154"/><circle cx="565.2" cy="31.2" r="2.3" fill="#440154"/><circle cx="554.0" cy="42.3" r="2.3" fill="#440154"/><circle cx="557.0" cy="7.9" r="2.3" fill="#440154"/><circle cx="557.4" cy="21.3" r="2.3" fill="#440154"/><circle cx="546.6" cy="26.0" r="2.3" fill="#440154"/><circle cx="569.5" cy="26.7" r="2.3" fill="#440154"/><path d="M424.4,69.8 L435.8,68.8 L448.3,67.7 L462.9,64.6 L477.5,62.1 L500.0,56.3 L517.8,51.0 L538.7,44.8 L559.5,38.5 L572.0,35.4" fill="none" stroke="#c71585" stroke-width="2.6" stroke-opacity="0.72" stroke-linecap="butt" stroke-linejoin="round"/><path d="M424.4,69.8 L435.8,75.0 L446.3,79.2 L460.8,82.3 L477.5,84.4 L500.0,85.0 L572.0,85.0" fill="none" stroke="#cc8a35" stroke-width="2.9" stroke-opacity="0.75" stroke-linecap="butt" stroke-linejoin="round"/><path d="M423.3,69.8 L432.7,70.8" fill="none" stroke="#4a4a33" stroke-width="2.7" stroke-opacity="0.95" stroke-linecap="butt" stroke-linejoin="round"/></g></g>
<rect x="415.70" y="3.50" width="164.80" height="86.40" fill="none" stroke="#333" stroke-width="0.85"/>
<line x1="413.30" x2="415.70" y1="85.60" y2="85.60" stroke="#555" stroke-width="0.7"/>
<text x="412.10" y="88.10" text-anchor="end" class="t">0</text>
<line x1="413.30" x2="415.70" y1="72.85" y2="72.85" stroke="#555" stroke-width="0.7"/>
<text x="412.10" y="75.35" text-anchor="end" class="t">20</text>
<line x1="413.30" x2="415.70" y1="60.10" y2="60.10" stroke="#555" stroke-width="0.7"/>
<text x="412.10" y="62.60" text-anchor="end" class="t">40</text>
<line x1="413.30" x2="415.70" y1="47.35" y2="47.35" stroke="#555" stroke-width="0.7"/>
<text x="412.10" y="49.85" text-anchor="end" class="t">60</text>
<line x1="413.30" x2="415.70" y1="34.60" y2="34.60" stroke="#555" stroke-width="0.7"/>
<text x="412.10" y="37.10" text-anchor="end" class="t">80</text>
<line x1="413.30" x2="415.70" y1="21.85" y2="21.85" stroke="#555" stroke-width="0.7"/>
<text x="412.10" y="24.35" text-anchor="end" class="t">100</text>
<line x1="413.30" x2="415.70" y1="9.10" y2="9.10" stroke="#555" stroke-width="0.7"/>
<text x="412.10" y="11.60" text-anchor="end" class="t">120</text>
<line x1="423.19" x2="423.19" y1="89.90" y2="92.30" stroke="#555" stroke-width="0.7"/>
<line x1="453.15" x2="453.15" y1="89.90" y2="92.30" stroke="#555" stroke-width="0.7"/>
<line x1="483.12" x2="483.12" y1="89.90" y2="92.30" stroke="#555" stroke-width="0.7"/>
<line x1="513.08" x2="513.08" y1="89.90" y2="92.30" stroke="#555" stroke-width="0.7"/>
<line x1="543.05" x2="543.05" y1="89.90" y2="92.30" stroke="#555" stroke-width="0.7"/>
<line x1="573.01" x2="573.01" y1="89.90" y2="92.30" stroke="#555" stroke-width="0.7"/>
<rect x="415.80" y="109.00" width="164.10" height="7.80" fill="url(#vir)" fill-opacity="0.75" stroke="#111" stroke-width="0.9"/>
<line x1="415.80" x2="415.80" y1="116.80" y2="119.00" stroke="#555" stroke-width="0.8"/>
<text x="415.80" y="126.40" text-anchor="middle" class="t">0.0</text>
<line x1="448.62" x2="448.62" y1="116.80" y2="119.00" stroke="#555" stroke-width="0.8"/>
<text x="448.62" y="126.40" text-anchor="middle" class="t">0.2</text>
<line x1="481.44" x2="481.44" y1="116.80" y2="119.00" stroke="#555" stroke-width="0.8"/>
<text x="481.44" y="126.40" text-anchor="middle" class="t">0.4</text>
<line x1="514.26" x2="514.26" y1="116.80" y2="119.00" stroke="#555" stroke-width="0.8"/>
<text x="514.26" y="126.40" text-anchor="middle" class="t">0.6</text>
<line x1="547.08" x2="547.08" y1="116.80" y2="119.00" stroke="#555" stroke-width="0.8"/>
<text x="547.08" y="126.40" text-anchor="middle" class="t">0.8</text>
<line x1="579.90" x2="579.90" y1="116.80" y2="119.00" stroke="#555" stroke-width="0.8"/>
<text x="579.90" y="126.40" text-anchor="middle" class="t">1.0</text>
<clipPath id="scc"><rect x="415.80" y="142.00" width="164.60" height="24.50"/></clipPath>
<g clip-path="url(#scc)"><line x1="430.68" x2="430.68" y1="165.39" y2="143.11" stroke="#1f77b4" stroke-width="1.1"/><line x1="435.33" x2="435.33" y1="165.39" y2="158.28" stroke="#1f77b4" stroke-width="1.1"/><circle cx="430.68" cy="143.11" r="2.1" fill="#1f77b4"/><circle cx="435.33" cy="158.28" r="2.1" fill="#1f77b4"/><circle cx="439.98" cy="165.39" r="2.1" fill="#1f77b4"/><circle cx="444.63" cy="165.39" r="2.1" fill="#1f77b4"/><circle cx="449.28" cy="165.39" r="2.1" fill="#1f77b4"/><circle cx="453.93" cy="165.39" r="2.1" fill="#1f77b4"/><circle cx="458.58" cy="165.39" r="2.1" fill="#1f77b4"/><circle cx="463.23" cy="165.39" r="2.1" fill="#1f77b4"/><circle cx="467.88" cy="165.39" r="2.1" fill="#1f77b4"/><circle cx="472.53" cy="165.39" r="2.1" fill="#1f77b4"/><circle cx="477.18" cy="165.39" r="2.1" fill="#1f77b4"/><circle cx="481.83" cy="165.39" r="2.1" fill="#1f77b4"/><circle cx="486.48" cy="165.39" r="2.1" fill="#1f77b4"/><circle cx="491.13" cy="165.39" r="2.1" fill="#1f77b4"/><circle cx="495.78" cy="165.39" r="2.1" fill="#1f77b4"/><circle cx="500.42" cy="165.39" r="2.1" fill="#1f77b4"/><circle cx="505.07" cy="165.39" r="2.1" fill="#1f77b4"/><circle cx="509.72" cy="165.39" r="2.1" fill="#1f77b4"/><circle cx="514.37" cy="165.39" r="2.1" fill="#1f77b4"/><circle cx="519.02" cy="165.39" r="2.1" fill="#1f77b4"/><circle cx="523.67" cy="165.39" r="2.1" fill="#1f77b4"/><circle cx="528.32" cy="165.39" r="2.1" fill="#1f77b4"/><circle cx="532.97" cy="165.39" r="2.1" fill="#1f77b4"/><circle cx="537.62" cy="165.39" r="2.1" fill="#1f77b4"/><circle cx="542.27" cy="165.39" r="2.1" fill="#1f77b4"/><circle cx="546.92" cy="165.39" r="2.1" fill="#1f77b4"/><circle cx="551.57" cy="165.39" r="2.1" fill="#1f77b4"/><circle cx="556.22" cy="165.39" r="2.1" fill="#1f77b4"/><circle cx="560.87" cy="165.39" r="2.1" fill="#1f77b4"/><circle cx="565.52" cy="165.39" r="2.1" fill="#1f77b4"/><line x1="430.68" x2="565.52" y1="165.39" y2="165.39" stroke="#d62728" stroke-width="1.2"/></g>
<rect x="415.80" y="142.00" width="164.60" height="24.50" fill="none" stroke="#333" stroke-width="0.85"/>
<line x1="413.40" x2="415.80" y1="165.39" y2="165.39" stroke="#444" stroke-width="0.7"/>
<text x="412.20" y="167.89" text-anchor="end" class="t">0.0</text>
<line x1="413.40" x2="415.80" y1="150.89" y2="150.89" stroke="#444" stroke-width="0.7"/>
<text x="412.20" y="153.39" text-anchor="end" class="t">0.5</text>
<line x1="423.19" x2="423.19" y1="166.50" y2="168.90" stroke="#444" stroke-width="0.7"/>
<text x="423.19" y="176.10" text-anchor="middle" class="t">0.0</text>
<line x1="453.15" x2="453.15" y1="166.50" y2="168.90" stroke="#444" stroke-width="0.7"/>
<text x="453.15" y="176.10" text-anchor="middle" class="t">0.2</text>
<line x1="483.12" x2="483.12" y1="166.50" y2="168.90" stroke="#444" stroke-width="0.7"/>
<text x="483.12" y="176.10" text-anchor="middle" class="t">0.4</text>
<line x1="513.08" x2="513.08" y1="166.50" y2="168.90" stroke="#444" stroke-width="0.7"/>
<text x="513.08" y="176.10" text-anchor="middle" class="t">0.6</text>
<line x1="543.05" x2="543.05" y1="166.50" y2="168.90" stroke="#444" stroke-width="0.7"/>
<text x="543.05" y="176.10" text-anchor="middle" class="t">0.8</text>
<line x1="573.01" x2="573.01" y1="166.50" y2="168.90" stroke="#444" stroke-width="0.7"/>
<text x="573.01" y="176.10" text-anchor="middle" class="t">1.0</text>
<text x="418.10" y="207.80" class="lab">(c)</text>
<text x="448.00" y="207.80" class="cap">MPO</text>
<text x="499.60" y="207.80" class="cap">b = 0.05</text>
<g><clipPath id="cpd"><rect x="615.00" y="2.00" width="165.60" height="86.80"/></clipPath><g clip-path="url(#cpd)"><circle cx="651.8" cy="78.0" r="2.3" fill="#fde725"/><circle cx="667.7" cy="78.1" r="2.3" fill="#fde725"/><circle cx="671.9" cy="70.0" r="2.3" fill="#fde725"/><circle cx="646.9" cy="70.2" r="2.3" fill="#fde725"/><circle cx="680.5" cy="76.4" r="2.3" fill="#fde725"/><circle cx="693.1" cy="75.6" r="2.3" fill="#fde725"/><circle cx="684.1" cy="83.1" r="2.3" fill="#fde725"/><circle cx="656.5" cy="81.9" r="2.3" fill="#fde725"/><circle cx="669.7" cy="79.8" r="2.3" fill="#fde725"/><circle cx="693.3" cy="69.5" r="2.3" fill="#fde725"/><circle cx="646.3" cy="83.0" r="2.3" fill="#fde725"/><circle cx="652.7" cy="83.8" r="2.3" fill="#fde725"/><circle cx="685.2" cy="74.1" r="2.3" fill="#fde725"/><circle cx="698.1" cy="84.3" r="2.3" fill="#fde725"/><circle cx="642.7" cy="81.4" r="2.3" fill="#fde725"/><circle cx="682.9" cy="73.0" r="2.3" fill="#fde725"/><circle cx="669.2" cy="72.7" r="2.3" fill="#fde725"/><circle cx="689.1" cy="72.7" r="2.3" fill="#fde725"/><circle cx="658.0" cy="74.1" r="2.3" fill="#fde725"/><circle cx="668.0" cy="70.1" r="2.3" fill="#fde725"/><circle cx="697.6" cy="75.0" r="2.3" fill="#fde725"/><circle cx="680.7" cy="83.9" r="2.3" fill="#fde725"/><circle cx="668.5" cy="70.7" r="2.3" fill="#fde725"/><circle cx="648.8" cy="78.3" r="2.3" fill="#fde725"/><circle cx="675.4" cy="83.4" r="2.3" fill="#fde725"/><circle cx="677.7" cy="80.7" r="2.3" fill="#fde725"/><circle cx="655.2" cy="75.7" r="2.3" fill="#fde725"/><circle cx="661.5" cy="81.6" r="2.3" fill="#fde725"/><circle cx="697.5" cy="83.9" r="2.3" fill="#fde725"/><circle cx="681.2" cy="77.6" r="2.3" fill="#fde725"/><circle cx="644.9" cy="71.4" r="2.3" fill="#fde725"/><circle cx="693.0" cy="75.6" r="2.3" fill="#fde725"/><circle cx="654.1" cy="72.2" r="2.3" fill="#fde725"/><circle cx="672.8" cy="80.3" r="2.3" fill="#fde725"/><circle cx="691.4" cy="75.7" r="2.3" fill="#fde725"/><circle cx="665.2" cy="79.5" r="2.3" fill="#fde725"/><circle cx="661.4" cy="84.2" r="2.3" fill="#fde725"/><circle cx="693.5" cy="70.5" r="2.3" fill="#fde725"/><circle cx="683.3" cy="80.6" r="2.3" fill="#fde725"/><circle cx="655.4" cy="79.3" r="2.3" fill="#fde725"/><circle cx="645.9" cy="74.3" r="2.3" fill="#fde725"/><circle cx="689.7" cy="82.7" r="2.3" fill="#fde725"/><circle cx="666.4" cy="83.3" r="2.3" fill="#fde725"/><circle cx="644.2" cy="75.2" r="2.3" fill="#fde725"/><circle cx="652.8" cy="82.2" r="2.3" fill="#fde725"/><circle cx="688.3" cy="79.6" r="2.3" fill="#fde725"/><circle cx="652.7" cy="82.9" r="2.3" fill="#fde725"/><circle cx="676.7" cy="81.5" r="2.3" fill="#fde725"/><circle cx="652.3" cy="77.0" r="2.3" fill="#fde725"/><circle cx="653.7" cy="84.3" r="2.3" fill="#fde725"/><circle cx="696.2" cy="83.5" r="2.3" fill="#fde725"/><circle cx="653.9" cy="71.1" r="2.3" fill="#fde725"/><circle cx="685.2" cy="75.1" r="2.3" fill="#fde725"/><circle cx="651.4" cy="80.9" r="2.3" fill="#fde725"/><circle cx="681.0" cy="70.5" r="2.3" fill="#fde725"/><circle cx="656.7" cy="72.6" r="2.3" fill="#fde725"/><circle cx="659.7" cy="75.2" r="2.3" fill="#fde725"/><circle cx="648.4" cy="78.3" r="2.3" fill="#fde725"/><circle cx="659.9" cy="75.4" r="2.3" fill="#fde725"/><circle cx="667.8" cy="70.1" r="2.3" fill="#fde725"/><circle cx="678.8" cy="83.4" r="2.3" fill="#fde725"/><circle cx="659.6" cy="80.5" r="2.3" fill="#fde725"/><circle cx="684.8" cy="77.7" r="2.3" fill="#fde725"/><circle cx="666.8" cy="71.8" r="2.3" fill="#fde725"/><circle cx="697.9" cy="77.5" r="2.3" fill="#fde725"/><circle cx="667.1" cy="72.0" r="2.3" fill="#fde725"/><circle cx="658.7" cy="81.8" r="2.3" fill="#fde725"/><circle cx="673.6" cy="76.5" r="2.3" fill="#fde725"/><circle cx="686.3" cy="77.3" r="2.3" fill="#fde725"/><circle cx="684.6" cy="81.2" r="2.3" fill="#fde725"/><circle cx="679.8" cy="69.8" r="2.3" fill="#fde725"/><circle cx="696.1" cy="73.7" r="2.3" fill="#fde725"/><circle cx="685.7" cy="73.7" r="2.3" fill="#fde725"/><circle cx="643.8" cy="77.9" r="2.3" fill="#fde725"/><circle cx="675.7" cy="77.8" r="2.3" fill="#fde725"/><circle cx="716.2" cy="81.7" r="2.3" fill="#fde725"/><circle cx="769.9" cy="83.5" r="2.3" fill="#fde725"/><circle cx="705.1" cy="78.4" r="2.3" fill="#fde725"/><circle cx="771.3" cy="77.5" r="2.3" fill="#fde725"/><circle cx="711.6" cy="83.6" r="2.3" fill="#fde725"/><circle cx="766.6" cy="79.1" r="2.3" fill="#fde725"/><circle cx="756.9" cy="77.1" r="2.3" fill="#fde725"/><circle cx="735.7" cy="78.4" r="2.3" fill="#fde725"/><circle cx="721.3" cy="74.1" r="2.3" fill="#fde725"/><circle cx="747.1" cy="76.9" r="2.3" fill="#fde725"/><circle cx="725.0" cy="81.2" r="2.3" fill="#fde725"/><circle cx="754.7" cy="78.6" r="2.3" fill="#fde725"/><circle cx="734.2" cy="80.2" r="2.3" fill="#fde725"/><circle cx="744.3" cy="77.9" r="2.3" fill="#fde725"/><circle cx="742.4" cy="78.4" r="2.3" fill="#fde725"/><circle cx="697.7" cy="78.6" r="2.3" fill="#fde725"/><circle cx="725.1" cy="77.4" r="2.3" fill="#fde725"/><circle cx="707.5" cy="80.3" r="2.3" fill="#fde725"/><circle cx="739.2" cy="81.1" r="2.3" fill="#fde725"/><circle cx="754.1" cy="80.6" r="2.3" fill="#fde725"/><circle cx="700.7" cy="81.9" r="2.3" fill="#fde725"/><circle cx="771.4" cy="77.9" r="2.3" fill="#fde725"/><circle cx="766.9" cy="82.0" r="2.3" fill="#fde725"/><circle cx="770.0" cy="80.8" r="2.3" fill="#fde725"/><circle cx="720.0" cy="84.4" r="2.3" fill="#fde725"/><circle cx="735.3" cy="82.2" r="2.3" fill="#fde725"/><circle cx="707.5" cy="75.2" r="2.3" fill="#fde725"/><circle cx="769.0" cy="78.0" r="2.3" fill="#fde725"/><circle cx="724.6" cy="84.6" r="2.3" fill="#fde725"/><circle cx="701.3" cy="80.1" r="2.3" fill="#fde725"/><circle cx="708.9" cy="75.1" r="2.3" fill="#fde725"/><circle cx="730.5" cy="81.1" r="2.3" fill="#fde725"/><circle cx="701.9" cy="81.6" r="2.3" fill="#fde725"/><circle cx="773.0" cy="75.6" r="2.3" fill="#fde725"/><circle cx="703.5" cy="77.1" r="2.3" fill="#fde725"/><circle cx="752.6" cy="76.0" r="2.3" fill="#fde725"/><circle cx="765.7" cy="76.8" r="2.3" fill="#fde725"/><circle cx="723.5" cy="76.1" r="2.3" fill="#fde725"/><circle cx="723.0" cy="84.4" r="2.3" fill="#fde725"/><circle cx="762.1" cy="76.0" r="2.3" fill="#fde725"/><circle cx="749.0" cy="74.2" r="2.3" fill="#fde725"/><circle cx="736.5" cy="78.7" r="2.3" fill="#fde725"/><circle cx="755.4" cy="79.3" r="2.3" fill="#fde725"/><circle cx="708.5" cy="78.7" r="2.3" fill="#fde725"/><circle cx="709.7" cy="84.1" r="2.3" fill="#fde725"/><circle cx="763.0" cy="82.8" r="2.3" fill="#fde725"/><circle cx="715.1" cy="79.2" r="2.3" fill="#fde725"/><circle cx="760.5" cy="81.4" r="2.3" fill="#fde725"/><circle cx="740.4" cy="83.7" r="2.3" fill="#fde725"/><circle cx="744.7" cy="78.7" r="2.3" fill="#fde725"/><circle cx="746.0" cy="75.7" r="2.3" fill="#fde725"/><circle cx="745.0" cy="76.9" r="2.3" fill="#fde725"/><circle cx="764.0" cy="76.5" r="2.3" fill="#fde725"/><circle cx="703.4" cy="74.9" r="2.3" fill="#fde725"/><circle cx="725.6" cy="77.5" r="2.3" fill="#fde725"/><circle cx="758.9" cy="79.3" r="2.3" fill="#fde725"/><circle cx="738.9" cy="75.4" r="2.3" fill="#fde725"/><circle cx="756.8" cy="82.8" r="2.3" fill="#fde725"/><circle cx="710.8" cy="79.3" r="2.3" fill="#fde725"/><circle cx="734.7" cy="84.5" r="2.3" fill="#fde725"/><circle cx="757.4" cy="75.2" r="2.3" fill="#fde725"/><circle cx="753.2" cy="76.9" r="2.3" fill="#fde725"/><circle cx="733.3" cy="77.5" r="2.3" fill="#fde725"/><circle cx="715.0" cy="74.3" r="2.3" fill="#fde725"/><circle cx="726.2" cy="74.2" r="2.3" fill="#fde725"/><circle cx="704.1" cy="70.0" r="2.3" fill="#fde725"/><circle cx="717.0" cy="70.0" r="2.3" fill="#fde725"/><circle cx="740.2" cy="65.2" r="2.3" fill="#fde725"/><circle cx="743.9" cy="75.4" r="2.3" fill="#fde725"/><circle cx="726.0" cy="72.0" r="2.3" fill="#fde725"/><circle cx="628.0" cy="71.4" r="2.3" fill="#440154"/><circle cx="628.2" cy="62.9" r="2.3" fill="#440154"/><circle cx="625.8" cy="66.7" r="2.3" fill="#440154"/><circle cx="622.6" cy="80.6" r="2.3" fill="#440154"/><circle cx="627.7" cy="67.7" r="2.3" fill="#440154"/><circle cx="626.2" cy="59.9" r="2.3" fill="#440154"/><circle cx="622.3" cy="66.1" r="2.3" fill="#440154"/><circle cx="621.7" cy="58.1" r="2.3" fill="#440154"/><circle cx="627.0" cy="85.1" r="2.3" fill="#440154"/><circle cx="633.2" cy="77.6" r="2.3" fill="#440154"/><circle cx="626.3" cy="71.8" r="2.3" fill="#440154"/><circle cx="631.6" cy="56.5" r="2.3" fill="#440154"/><circle cx="622.5" cy="70.4" r="2.3" fill="#440154"/><circle cx="623.8" cy="62.3" r="2.3" fill="#440154"/><circle cx="626.9" cy="78.3" r="2.3" fill="#440154"/><circle cx="631.9" cy="56.9" r="2.3" fill="#440154"/><circle cx="624.8" cy="73.6" r="2.3" fill="#440154"/><circle cx="621.2" cy="81.8" r="2.3" fill="#440154"/><circle cx="630.7" cy="77.4" r="2.3" fill="#440154"/><circle cx="627.0" cy="82.0" r="2.3" fill="#440154"/><circle cx="631.6" cy="75.8" r="2.3" fill="#440154"/><circle cx="629.1" cy="67.2" r="2.3" fill="#440154"/><circle cx="626.1" cy="74.3" r="2.3" fill="#440154"/><circle cx="626.1" cy="58.5" r="2.3" fill="#440154"/><circle cx="633.0" cy="72.0" r="2.3" fill="#440154"/><circle cx="639.6" cy="65.0" r="2.3" fill="#1f9e89"/><circle cx="637.9" cy="76.3" r="2.3" fill="#1f9e89"/><circle cx="639.8" cy="58.3" r="2.3" fill="#1f9e89"/><circle cx="640.3" cy="54.6" r="2.3" fill="#1f9e89"/><circle cx="639.0" cy="55.5" r="2.3" fill="#1f9e89"/><circle cx="633.1" cy="79.1" r="2.3" fill="#1f9e89"/><circle cx="634.5" cy="74.6" r="2.3" fill="#1f9e89"/><circle cx="640.1" cy="53.2" r="2.3" fill="#1f9e89"/><circle cx="632.9" cy="64.3" r="2.3" fill="#1f9e89"/><circle cx="641.3" cy="62.5" r="2.3" fill="#1f9e89"/><circle cx="640.3" cy="69.6" r="2.3" fill="#1f9e89"/><circle cx="640.9" cy="75.2" r="2.3" fill="#1f9e89"/><circle cx="637.8" cy="70.7" r="2.3" fill="#1f9e89"/><circle cx="635.2" cy="57.0" r="2.3" fill="#1f9e89"/><circle cx="635.4" cy="48.9" r="2.3" fill="#1f9e89"/><circle cx="645.8" cy="69.3" r="2.3" fill="#31688e"/><circle cx="636.9" cy="60.4" r="2.3" fill="#31688e"/><circle cx="636.9" cy="53.6" r="2.3" fill="#31688e"/><circle cx="647.2" cy="68.4" r="2.3" fill="#31688e"/><circle cx="643.3" cy="67.7" r="2.3" fill="#31688e"/><circle cx="647.4" cy="65.2" r="2.3" fill="#31688e"/><circle cx="640.7" cy="55.0" r="2.3" fill="#31688e"/><circle cx="643.2" cy="58.7" r="2.3" fill="#31688e"/><circle cx="637.8" cy="56.0" r="2.3" fill="#31688e"/><circle cx="648.5" cy="53.6" r="2.3" fill="#31688e"/><circle cx="646.9" cy="58.5" r="2.3" fill="#31688e"/><circle cx="637.9" cy="61.5" r="2.3" fill="#31688e"/><circle cx="645.2" cy="41.8" r="2.3" fill="#3e4a89"/><circle cx="643.3" cy="57.6" r="2.3" fill="#440154"/><circle cx="643.7" cy="62.9" r="2.3" fill="#440154"/><circle cx="649.3" cy="53.0" r="2.3" fill="#440154"/><circle cx="650.2" cy="61.6" r="2.3" fill="#440154"/><circle cx="647.5" cy="64.7" r="2.3" fill="#440154"/><circle cx="652.1" cy="52.7" r="2.3" fill="#440154"/><circle cx="652.0" cy="58.5" r="2.3" fill="#440154"/><circle cx="647.3" cy="68.5" r="2.3" fill="#440154"/><circle cx="650.7" cy="58.2" r="2.3" fill="#440154"/><circle cx="650.1" cy="63.9" r="2.3" fill="#440154"/><circle cx="660.6" cy="51.8" r="2.3" fill="#440154"/><circle cx="665.5" cy="66.4" r="2.3" fill="#440154"/><circle cx="665.6" cy="66.0" r="2.3" fill="#440154"/><circle cx="672.4" cy="52.4" r="2.3" fill="#440154"/><circle cx="666.9" cy="62.3" r="2.3" fill="#440154"/><circle cx="664.4" cy="55.0" r="2.3" fill="#440154"/><circle cx="659.4" cy="52.8" r="2.3" fill="#440154"/><circle cx="665.9" cy="73.5" r="2.3" fill="#440154"/><circle cx="671.8" cy="71.6" r="2.3" fill="#440154"/><circle cx="657.3" cy="54.1" r="2.3" fill="#440154"/><circle cx="674.4" cy="63.8" r="2.3" fill="#440154"/><circle cx="663.6" cy="47.0" r="2.3" fill="#440154"/><circle cx="672.5" cy="48.5" r="2.3" fill="#440154"/><circle cx="665.0" cy="56.6" r="2.3" fill="#440154"/><circle cx="670.0" cy="66.4" r="2.3" fill="#440154"/><circle cx="661.4" cy="54.1" r="2.3" fill="#440154"/><circle cx="672.5" cy="56.3" r="2.3" fill="#440154"/><circle cx="673.4" cy="73.4" r="2.3" fill="#440154"/><circle cx="671.9" cy="49.1" r="2.3" fill="#440154"/><circle cx="673.8" cy="54.7" r="2.3" fill="#440154"/><circle cx="662.1" cy="49.4" r="2.3" fill="#440154"/><circle cx="659.4" cy="70.9" r="2.3" fill="#440154"/><circle cx="669.3" cy="53.4" r="2.3" fill="#440154"/><circle cx="670.5" cy="63.0" r="2.3" fill="#440154"/><circle cx="672.7" cy="72.9" r="2.3" fill="#440154"/><circle cx="661.9" cy="75.3" r="2.3" fill="#440154"/><circle cx="662.9" cy="67.6" r="2.3" fill="#440154"/><circle cx="661.6" cy="55.9" r="2.3" fill="#440154"/><circle cx="664.7" cy="72.8" r="2.3" fill="#440154"/><circle cx="657.9" cy="55.6" r="2.3" fill="#440154"/><circle cx="661.9" cy="20.4" r="2.3" fill="#440154"/><circle cx="669.0" cy="26.1" r="2.3" fill="#440154"/><circle cx="668.6" cy="33.6" r="2.3" fill="#440154"/><circle cx="673.1" cy="38.3" r="2.3" fill="#440154"/><circle cx="683.7" cy="52.3" r="2.3" fill="#440154"/><circle cx="681.9" cy="49.3" r="2.3" fill="#440154"/><circle cx="689.0" cy="58.8" r="2.3" fill="#440154"/><circle cx="693.5" cy="55.0" r="2.3" fill="#440154"/><circle cx="680.2" cy="57.6" r="2.3" fill="#440154"/><circle cx="691.6" cy="58.8" r="2.3" fill="#440154"/><circle cx="691.4" cy="69.8" r="2.3" fill="#440154"/><circle cx="697.7" cy="44.9" r="2.3" fill="#440154"/><circle cx="698.5" cy="69.0" r="2.3" fill="#440154"/><circle cx="697.2" cy="53.8" r="2.3" fill="#440154"/><circle cx="693.4" cy="61.7" r="2.3" fill="#440154"/><circle cx="685.3" cy="47.7" r="2.3" fill="#440154"/><circle cx="695.0" cy="45.2" r="2.3" fill="#440154"/><circle cx="681.8" cy="66.1" r="2.3" fill="#440154"/><circle cx="694.3" cy="59.8" r="2.3" fill="#440154"/><circle cx="688.5" cy="63.3" r="2.3" fill="#440154"/><circle cx="681.1" cy="59.1" r="2.3" fill="#440154"/><circle cx="696.7" cy="45.2" r="2.3" fill="#440154"/><circle cx="698.2" cy="44.1" r="2.3" fill="#440154"/><circle cx="698.6" cy="57.5" r="2.3" fill="#440154"/><circle cx="691.5" cy="46.2" r="2.3" fill="#440154"/><circle cx="692.4" cy="46.3" r="2.3" fill="#440154"/><circle cx="691.1" cy="58.5" r="2.3" fill="#440154"/><circle cx="684.9" cy="46.3" r="2.3" fill="#440154"/><circle cx="695.3" cy="46.8" r="2.3" fill="#440154"/><circle cx="693.1" cy="33.6" r="2.3" fill="#440154"/><circle cx="693.5" cy="38.7" r="2.3" fill="#440154"/><circle cx="701.3" cy="54.3" r="2.3" fill="#440154"/><circle cx="699.5" cy="55.3" r="2.3" fill="#440154"/><circle cx="697.8" cy="65.3" r="2.3" fill="#440154"/><circle cx="699.0" cy="53.9" r="2.3" fill="#440154"/><circle cx="699.1" cy="50.5" r="2.3" fill="#440154"/><circle cx="721.5" cy="51.7" r="2.3" fill="#440154"/><circle cx="728.5" cy="42.5" r="2.3" fill="#440154"/><circle cx="710.3" cy="39.2" r="2.3" fill="#440154"/><circle cx="730.3" cy="39.2" r="2.3" fill="#440154"/><circle cx="721.7" cy="42.2" r="2.3" fill="#440154"/><circle cx="720.5" cy="43.4" r="2.3" fill="#440154"/><circle cx="728.5" cy="66.6" r="2.3" fill="#440154"/><circle cx="723.8" cy="55.1" r="2.3" fill="#440154"/><circle cx="709.2" cy="50.2" r="2.3" fill="#440154"/><circle cx="724.2" cy="51.8" r="2.3" fill="#440154"/><circle cx="714.7" cy="44.6" r="2.3" fill="#440154"/><circle cx="710.4" cy="42.6" r="2.3" fill="#440154"/><circle cx="721.8" cy="40.2" r="2.3" fill="#440154"/><circle cx="718.5" cy="49.3" r="2.3" fill="#440154"/><circle cx="724.5" cy="47.3" r="2.3" fill="#440154"/><circle cx="726.2" cy="52.5" r="2.3" fill="#440154"/><circle cx="716.0" cy="68.5" r="2.3" fill="#440154"/><circle cx="726.0" cy="50.8" r="2.3" fill="#440154"/><circle cx="722.1" cy="36.8" r="2.3" fill="#440154"/><circle cx="724.4" cy="65.3" r="2.3" fill="#440154"/><circle cx="725.7" cy="57.1" r="2.3" fill="#440154"/><circle cx="722.8" cy="37.5" r="2.3" fill="#440154"/><circle cx="720.7" cy="61.8" r="2.3" fill="#440154"/><circle cx="716.7" cy="52.8" r="2.3" fill="#440154"/><circle cx="710.4" cy="39.2" r="2.3" fill="#440154"/><circle cx="712.9" cy="54.7" r="2.3" fill="#440154"/><circle cx="717.6" cy="58.0" r="2.3" fill="#440154"/><circle cx="714.5" cy="46.8" r="2.3" fill="#440154"/><circle cx="709.2" cy="59.8" r="2.3" fill="#440154"/><circle cx="710.8" cy="49.5" r="2.3" fill="#440154"/><circle cx="727.7" cy="58.5" r="2.3" fill="#440154"/><circle cx="710.3" cy="40.0" r="2.3" fill="#440154"/><circle cx="722.8" cy="62.8" r="2.3" fill="#440154"/><circle cx="716.3" cy="68.9" r="2.3" fill="#440154"/><circle cx="729.9" cy="41.5" r="2.3" fill="#440154"/><circle cx="731.7" cy="67.8" r="2.3" fill="#440154"/><circle cx="740.0" cy="60.8" r="2.3" fill="#440154"/><circle cx="750.1" cy="51.5" r="2.3" fill="#440154"/><circle cx="748.8" cy="44.3" r="2.3" fill="#440154"/><circle cx="738.9" cy="38.1" r="2.3" fill="#440154"/><circle cx="734.7" cy="61.3" r="2.3" fill="#440154"/><circle cx="732.4" cy="40.2" r="2.3" fill="#440154"/><circle cx="733.4" cy="64.7" r="2.3" fill="#440154"/><circle cx="731.8" cy="42.4" r="2.3" fill="#440154"/><circle cx="734.2" cy="68.7" r="2.3" fill="#440154"/><circle cx="742.6" cy="63.7" r="2.3" fill="#440154"/><circle cx="740.0" cy="49.1" r="2.3" fill="#440154"/><circle cx="741.0" cy="58.4" r="2.3" fill="#440154"/><circle cx="736.4" cy="66.4" r="2.3" fill="#440154"/><circle cx="733.2" cy="64.3" r="2.3" fill="#440154"/><circle cx="737.1" cy="41.5" r="2.3" fill="#440154"/><circle cx="734.9" cy="63.1" r="2.3" fill="#440154"/><circle cx="738.2" cy="68.6" r="2.3" fill="#440154"/><circle cx="733.7" cy="58.8" r="2.3" fill="#440154"/><circle cx="746.5" cy="43.8" r="2.3" fill="#440154"/><circle cx="740.7" cy="62.4" r="2.3" fill="#440154"/><circle cx="734.0" cy="68.1" r="2.3" fill="#440154"/><circle cx="734.6" cy="64.4" r="2.3" fill="#440154"/><circle cx="746.0" cy="47.4" r="2.3" fill="#440154"/><circle cx="743.2" cy="41.9" r="2.3" fill="#440154"/><circle cx="744.2" cy="51.1" r="2.3" fill="#440154"/><circle cx="740.4" cy="36.4" r="2.3" fill="#440154"/><circle cx="738.9" cy="37.0" r="2.3" fill="#440154"/><circle cx="744.0" cy="40.6" r="2.3" fill="#440154"/><circle cx="749.1" cy="50.5" r="2.3" fill="#440154"/><circle cx="763.4" cy="46.7" r="2.3" fill="#440154"/><circle cx="760.8" cy="66.2" r="2.3" fill="#440154"/><circle cx="767.2" cy="62.6" r="2.3" fill="#440154"/><circle cx="765.1" cy="49.7" r="2.3" fill="#440154"/><circle cx="763.6" cy="52.3" r="2.3" fill="#440154"/><circle cx="762.8" cy="46.5" r="2.3" fill="#440154"/><circle cx="755.4" cy="54.7" r="2.3" fill="#440154"/><circle cx="762.3" cy="44.7" r="2.3" fill="#440154"/><circle cx="754.4" cy="70.2" r="2.3" fill="#440154"/><circle cx="764.8" cy="44.5" r="2.3" fill="#440154"/><circle cx="766.4" cy="69.3" r="2.3" fill="#440154"/><circle cx="767.2" cy="56.0" r="2.3" fill="#440154"/><circle cx="758.8" cy="58.3" r="2.3" fill="#440154"/><circle cx="758.5" cy="56.9" r="2.3" fill="#440154"/><circle cx="768.6" cy="50.4" r="2.3" fill="#440154"/><circle cx="758.7" cy="52.7" r="2.3" fill="#440154"/><circle cx="764.1" cy="49.0" r="2.3" fill="#440154"/><circle cx="762.0" cy="47.7" r="2.3" fill="#440154"/><circle cx="754.2" cy="67.5" r="2.3" fill="#440154"/><circle cx="758.1" cy="55.3" r="2.3" fill="#440154"/><circle cx="760.0" cy="49.6" r="2.3" fill="#440154"/><circle cx="764.6" cy="45.6" r="2.3" fill="#440154"/><circle cx="754.3" cy="58.1" r="2.3" fill="#440154"/><circle cx="770.2" cy="50.4" r="2.3" fill="#440154"/><circle cx="755.0" cy="65.0" r="2.3" fill="#440154"/><circle cx="756.7" cy="6.5" r="2.3" fill="#440154"/><circle cx="733.3" cy="71.7" r="2.3" fill="#440154"/><circle cx="763.9" cy="71.3" r="2.3" fill="#440154"/><circle cx="727.6" cy="79.1" r="2.3" fill="#5a3d2b"/><path d="M632.3,73.0 L644.6,70.9 L654.8,67.3 L667.0,62.2 L679.2,58.1 L699.0,56.0 L717.4,55.4 L737.8,56.0 L758.2,58.1 L773.4,59.5" fill="none" stroke="#c71585" stroke-width="2.6" stroke-opacity="0.72" stroke-linecap="butt" stroke-linejoin="round"/><path d="M622.2,75.4 L634.4,76.4 L646.6,78.5 L660.9,81.1 L675.2,82.6 L699.0,83.2 L773.4,81.1" fill="none" stroke="#cc8a35" stroke-width="2.9" stroke-opacity="0.75" stroke-linecap="butt" stroke-linejoin="round"/><path d="M622.2,74.8 L632.3,75.6" fill="none" stroke="#4a4a33" stroke-width="2.7" stroke-opacity="0.95" stroke-linecap="butt" stroke-linejoin="round"/></g></g>
<rect x="615.00" y="2.00" width="165.60" height="86.80" fill="none" stroke="#333" stroke-width="0.85"/>
<line x1="612.60" x2="615.00" y1="85.10" y2="85.10" stroke="#555" stroke-width="0.7"/>
<text x="611.40" y="87.60" text-anchor="end" class="t">0</text>
<line x1="612.60" x2="615.00" y1="71.63" y2="71.63" stroke="#555" stroke-width="0.7"/>
<text x="611.40" y="74.13" text-anchor="end" class="t">10</text>
<line x1="612.60" x2="615.00" y1="58.16" y2="58.16" stroke="#555" stroke-width="0.7"/>
<text x="611.40" y="60.66" text-anchor="end" class="t">20</text>
<line x1="612.60" x2="615.00" y1="44.69" y2="44.69" stroke="#555" stroke-width="0.7"/>
<text x="611.40" y="47.19" text-anchor="end" class="t">30</text>
<line x1="612.60" x2="615.00" y1="31.22" y2="31.22" stroke="#555" stroke-width="0.7"/>
<text x="611.40" y="33.72" text-anchor="end" class="t">40</text>
<line x1="612.60" x2="615.00" y1="17.75" y2="17.75" stroke="#555" stroke-width="0.7"/>
<text x="611.40" y="20.25" text-anchor="end" class="t">50</text>
<line x1="612.60" x2="615.00" y1="4.28" y2="4.28" stroke="#555" stroke-width="0.7"/>
<text x="611.40" y="6.78" text-anchor="end" class="t">60</text>
<line x1="622.53" x2="622.53" y1="88.80" y2="91.20" stroke="#555" stroke-width="0.7"/>
<line x1="652.64" x2="652.64" y1="88.80" y2="91.20" stroke="#555" stroke-width="0.7"/>
<line x1="682.75" x2="682.75" y1="88.80" y2="91.20" stroke="#555" stroke-width="0.7"/>
<line x1="712.85" x2="712.85" y1="88.80" y2="91.20" stroke="#555" stroke-width="0.7"/>
<line x1="742.96" x2="742.96" y1="88.80" y2="91.20" stroke="#555" stroke-width="0.7"/>
<line x1="773.07" x2="773.07" y1="88.80" y2="91.20" stroke="#555" stroke-width="0.7"/>
<rect x="614.30" y="108.10" width="166.10" height="8.20" fill="url(#vir)" fill-opacity="0.75" stroke="#111" stroke-width="0.9"/>
<line x1="614.30" x2="614.30" y1="116.30" y2="118.50" stroke="#555" stroke-width="0.8"/>
<text x="614.30" y="125.90" text-anchor="middle" class="t">0.0</text>
<line x1="647.52" x2="647.52" y1="116.30" y2="118.50" stroke="#555" stroke-width="0.8"/>
<text x="647.52" y="125.90" text-anchor="middle" class="t">0.2</text>
<line x1="680.74" x2="680.74" y1="116.30" y2="118.50" stroke="#555" stroke-width="0.8"/>
<text x="680.74" y="125.90" text-anchor="middle" class="t">0.4</text>
<line x1="713.96" x2="713.96" y1="116.30" y2="118.50" stroke="#555" stroke-width="0.8"/>
<text x="713.96" y="125.90" text-anchor="middle" class="t">0.6</text>
<line x1="747.18" x2="747.18" y1="116.30" y2="118.50" stroke="#555" stroke-width="0.8"/>
<text x="747.18" y="125.90" text-anchor="middle" class="t">0.8</text>
<line x1="780.40" x2="780.40" y1="116.30" y2="118.50" stroke="#555" stroke-width="0.8"/>
<text x="780.40" y="125.90" text-anchor="middle" class="t">1.0</text>
<clipPath id="scd"><rect x="614.30" y="141.50" width="166.10" height="24.70"/></clipPath>
<g clip-path="url(#scd)"><line x1="630.05" x2="630.05" y1="165.08" y2="162.47" stroke="#1f77b4" stroke-width="1.1"/><line x1="634.73" x2="634.73" y1="165.08" y2="142.62" stroke="#1f77b4" stroke-width="1.1"/><line x1="639.40" x2="639.40" y1="165.08" y2="161.89" stroke="#1f77b4" stroke-width="1.1"/><circle cx="630.05" cy="162.47" r="2.1" fill="#1f77b4"/><circle cx="634.73" cy="142.62" r="2.1" fill="#1f77b4"/><circle cx="639.40" cy="161.89" r="2.1" fill="#1f77b4"/><circle cx="644.07" cy="165.08" r="2.1" fill="#1f77b4"/><circle cx="648.74" cy="165.08" r="2.1" fill="#1f77b4"/><circle cx="653.42" cy="165.08" r="2.1" fill="#1f77b4"/><circle cx="658.09" cy="165.08" r="2.1" fill="#1f77b4"/><circle cx="662.76" cy="165.08" r="2.1" fill="#1f77b4"/><circle cx="667.43" cy="165.08" r="2.1" fill="#1f77b4"/><circle cx="672.10" cy="165.08" r="2.1" fill="#1f77b4"/><circle cx="676.78" cy="165.08" r="2.1" fill="#1f77b4"/><circle cx="681.45" cy="165.08" r="2.1" fill="#1f77b4"/><circle cx="686.12" cy="165.08" r="2.1" fill="#1f77b4"/><circle cx="690.79" cy="165.08" r="2.1" fill="#1f77b4"/><circle cx="695.46" cy="165.08" r="2.1" fill="#1f77b4"/><circle cx="700.14" cy="165.08" r="2.1" fill="#1f77b4"/><circle cx="704.81" cy="165.08" r="2.1" fill="#1f77b4"/><circle cx="709.48" cy="165.08" r="2.1" fill="#1f77b4"/><circle cx="714.15" cy="165.08" r="2.1" fill="#1f77b4"/><circle cx="718.82" cy="165.08" r="2.1" fill="#1f77b4"/><circle cx="723.50" cy="165.08" r="2.1" fill="#1f77b4"/><circle cx="728.17" cy="165.08" r="2.1" fill="#1f77b4"/><circle cx="732.84" cy="165.08" r="2.1" fill="#1f77b4"/><circle cx="737.51" cy="165.08" r="2.1" fill="#1f77b4"/><circle cx="742.18" cy="165.08" r="2.1" fill="#1f77b4"/><circle cx="746.86" cy="165.08" r="2.1" fill="#1f77b4"/><circle cx="751.53" cy="165.08" r="2.1" fill="#1f77b4"/><circle cx="756.20" cy="165.08" r="2.1" fill="#1f77b4"/><circle cx="760.87" cy="165.08" r="2.1" fill="#1f77b4"/><circle cx="765.55" cy="165.08" r="2.1" fill="#1f77b4"/><line x1="630.05" x2="765.55" y1="165.08" y2="165.08" stroke="#d62728" stroke-width="1.2"/></g>
<rect x="614.30" y="141.50" width="166.10" height="24.70" fill="none" stroke="#333" stroke-width="0.85"/>
<line x1="611.90" x2="614.30" y1="165.08" y2="165.08" stroke="#444" stroke-width="0.7"/>
<text x="610.70" y="167.58" text-anchor="end" class="t">0.0</text>
<line x1="611.90" x2="614.30" y1="150.57" y2="150.57" stroke="#444" stroke-width="0.7"/>
<text x="610.70" y="153.07" text-anchor="end" class="t">0.5</text>
<line x1="622.53" x2="622.53" y1="166.20" y2="168.60" stroke="#444" stroke-width="0.7"/>
<text x="622.53" y="175.80" text-anchor="middle" class="t">0.0</text>
<line x1="652.64" x2="652.64" y1="166.20" y2="168.60" stroke="#444" stroke-width="0.7"/>
<text x="652.64" y="175.80" text-anchor="middle" class="t">0.2</text>
<line x1="682.75" x2="682.75" y1="166.20" y2="168.60" stroke="#444" stroke-width="0.7"/>
<text x="682.75" y="175.80" text-anchor="middle" class="t">0.4</text>
<line x1="712.85" x2="712.85" y1="166.20" y2="168.60" stroke="#444" stroke-width="0.7"/>
<text x="712.85" y="175.80" text-anchor="middle" class="t">0.6</text>
<line x1="742.96" x2="742.96" y1="166.20" y2="168.60" stroke="#444" stroke-width="0.7"/>
<text x="742.96" y="175.80" text-anchor="middle" class="t">0.8</text>
<line x1="773.07" x2="773.07" y1="166.20" y2="168.60" stroke="#444" stroke-width="0.7"/>
<text x="773.07" y="175.80" text-anchor="middle" class="t">1.0</text>
<text x="613.30" y="207.80" class="lab">(d)</text>
<text x="643.90" y="207.80" class="cap">CALR</text>
<text x="705.80" y="207.80" class="cap">b = 0.08</text>
<g><clipPath id="cpe"><rect x="13.50" y="231.50" width="166.10" height="87.40"/></clipPath><g clip-path="url(#cpe)"><circle cx="68.6" cy="315.4" r="2.3" fill="#fde725"/><circle cx="43.1" cy="314.9" r="2.3" fill="#fde725"/><circle cx="57.5" cy="310.8" r="2.3" fill="#fde725"/><circle cx="71.4" cy="313.1" r="2.3" fill="#fde725"/><circle cx="95.3" cy="311.1" r="2.3" fill="#fde725"/><circle cx="54.7" cy="313.4" r="2.3" fill="#fde725"/><circle cx="87.5" cy="315.3" r="2.3" fill="#fde725"/><circle cx="67.8" cy="315.0" r="2.3" fill="#fde725"/><circle cx="42.6" cy="313.2" r="2.3" fill="#fde725"/><circle cx="81.6" cy="313.1" r="2.3" fill="#fde725"/><circle cx="86.4" cy="314.3" r="2.3" fill="#fde725"/><circle cx="66.1" cy="310.3" r="2.3" fill="#fde725"/><circle cx="67.5" cy="312.8" r="2.3" fill="#fde725"/><circle cx="62.9" cy="314.8" r="2.3" fill="#fde725"/><circle cx="82.4" cy="312.8" r="2.3" fill="#fde725"/><circle cx="52.3" cy="311.9" r="2.3" fill="#fde725"/><circle cx="44.4" cy="311.1" r="2.3" fill="#fde725"/><circle cx="70.1" cy="311.2" r="2.3" fill="#fde725"/><circle cx="67.8" cy="313.7" r="2.3" fill="#fde725"/><circle cx="81.9" cy="312.3" r="2.3" fill="#fde725"/><circle cx="47.0" cy="312.8" r="2.3" fill="#fde725"/><circle cx="69.6" cy="315.5" r="2.3" fill="#fde725"/><circle cx="95.9" cy="314.2" r="2.3" fill="#fde725"/><circle cx="61.3" cy="311.3" r="2.3" fill="#fde725"/><circle cx="77.9" cy="313.7" r="2.3" fill="#fde725"/><circle cx="51.1" cy="314.4" r="2.3" fill="#fde725"/><circle cx="94.9" cy="313.6" r="2.3" fill="#fde725"/><circle cx="61.9" cy="315.5" r="2.3" fill="#fde725"/><circle cx="46.1" cy="311.4" r="2.3" fill="#fde725"/><circle cx="50.1" cy="312.9" r="2.3" fill="#fde725"/><circle cx="86.2" cy="309.6" r="2.3" fill="#fde725"/><circle cx="46.8" cy="314.1" r="2.3" fill="#fde725"/><circle cx="57.7" cy="311.1" r="2.3" fill="#fde725"/><circle cx="60.6" cy="312.7" r="2.3" fill="#fde725"/><circle cx="71.5" cy="311.9" r="2.3" fill="#fde725"/><circle cx="78.0" cy="313.4" r="2.3" fill="#fde725"/><circle cx="86.7" cy="310.0" r="2.3" fill="#fde725"/><circle cx="72.0" cy="315.2" r="2.3" fill="#fde725"/><circle cx="68.8" cy="310.4" r="2.3" fill="#fde725"/><circle cx="63.2" cy="309.7" r="2.3" fill="#fde725"/><circle cx="92.1" cy="315.0" r="2.3" fill="#fde725"/><circle cx="94.3" cy="313.7" r="2.3" fill="#fde725"/><circle cx="51.3" cy="311.7" r="2.3" fill="#fde725"/><circle cx="50.6" cy="312.5" r="2.3" fill="#fde725"/><circle cx="61.1" cy="314.3" r="2.3" fill="#fde725"/><circle cx="73.0" cy="309.9" r="2.3" fill="#fde725"/><circle cx="46.4" cy="309.8" r="2.3" fill="#fde725"/><circle cx="79.4" cy="313.1" r="2.3" fill="#fde725"/><circle cx="47.9" cy="315.5" r="2.3" fill="#fde725"/><circle cx="86.2" cy="312.1" r="2.3" fill="#fde725"/><circle cx="50.3" cy="310.0" r="2.3" fill="#fde725"/><circle cx="85.3" cy="313.7" r="2.3" fill="#fde725"/><circle cx="50.8" cy="314.8" r="2.3" fill="#fde725"/><circle cx="62.3" cy="313.5" r="2.3" fill="#fde725"/><circle cx="90.1" cy="314.1" r="2.3" fill="#fde725"/><circle cx="112.1" cy="312.6" r="2.3" fill="#fde725"/><circle cx="118.1" cy="309.5" r="2.3" fill="#fde725"/><circle cx="145.0" cy="314.9" r="2.3" fill="#fde725"/><circle cx="154.9" cy="310.2" r="2.3" fill="#fde725"/><circle cx="171.1" cy="312.8" r="2.3" fill="#fde725"/><circle cx="131.5" cy="310.5" r="2.3" fill="#fde725"/><circle cx="144.9" cy="314.5" r="2.3" fill="#fde725"/><circle cx="171.4" cy="310.7" r="2.3" fill="#fde725"/><circle cx="149.1" cy="310.5" r="2.3" fill="#fde725"/><circle cx="141.4" cy="314.4" r="2.3" fill="#fde725"/><circle cx="103.2" cy="309.2" r="2.3" fill="#fde725"/><circle cx="130.6" cy="313.3" r="2.3" fill="#fde725"/><circle cx="129.3" cy="309.6" r="2.3" fill="#fde725"/><circle cx="122.1" cy="315.2" r="2.3" fill="#fde725"/><circle cx="122.3" cy="311.0" r="2.3" fill="#fde725"/><circle cx="135.1" cy="315.5" r="2.3" fill="#fde725"/><circle cx="115.3" cy="312.4" r="2.3" fill="#fde725"/><circle cx="157.1" cy="312.8" r="2.3" fill="#fde725"/><circle cx="131.4" cy="315.0" r="2.3" fill="#fde725"/><circle cx="142.4" cy="314.0" r="2.3" fill="#fde725"/><circle cx="111.9" cy="314.3" r="2.3" fill="#fde725"/><circle cx="118.1" cy="313.3" r="2.3" fill="#fde725"/><circle cx="158.7" cy="313.7" r="2.3" fill="#fde725"/><circle cx="127.7" cy="308.6" r="2.3" fill="#fde725"/><circle cx="161.3" cy="309.2" r="2.3" fill="#fde725"/><circle cx="112.0" cy="310.1" r="2.3" fill="#fde725"/><circle cx="117.3" cy="313.6" r="2.3" fill="#fde725"/><circle cx="126.1" cy="311.6" r="2.3" fill="#fde725"/><circle cx="145.7" cy="315.3" r="2.3" fill="#fde725"/><circle cx="131.6" cy="312.9" r="2.3" fill="#fde725"/><circle cx="114.0" cy="312.8" r="2.3" fill="#fde725"/><circle cx="114.8" cy="309.4" r="2.3" fill="#fde725"/><circle cx="103.9" cy="312.6" r="2.3" fill="#fde725"/><circle cx="168.2" cy="310.5" r="2.3" fill="#fde725"/><circle cx="120.9" cy="311.1" r="2.3" fill="#fde725"/><circle cx="118.7" cy="312.0" r="2.3" fill="#fde725"/><circle cx="170.4" cy="310.9" r="2.3" fill="#fde725"/><circle cx="124.4" cy="309.6" r="2.3" fill="#fde725"/><circle cx="125.7" cy="310.3" r="2.3" fill="#fde725"/><circle cx="106.4" cy="310.5" r="2.3" fill="#fde725"/><circle cx="112.3" cy="313.4" r="2.3" fill="#fde725"/><circle cx="145.9" cy="312.9" r="2.3" fill="#fde725"/><circle cx="112.8" cy="312.0" r="2.3" fill="#fde725"/><circle cx="109.7" cy="310.4" r="2.3" fill="#fde725"/><circle cx="124.9" cy="315.1" r="2.3" fill="#fde725"/><circle cx="142.0" cy="309.5" r="2.3" fill="#fde725"/><circle cx="106.8" cy="314.0" r="2.3" fill="#fde725"/><circle cx="156.6" cy="308.7" r="2.3" fill="#fde725"/><circle cx="131.0" cy="309.2" r="2.3" fill="#fde725"/><circle cx="153.1" cy="314.5" r="2.3" fill="#fde725"/><circle cx="140.9" cy="314.9" r="2.3" fill="#fde725"/><circle cx="144.0" cy="310.4" r="2.3" fill="#fde725"/><circle cx="113.3" cy="315.5" r="2.3" fill="#fde725"/><circle cx="110.3" cy="309.9" r="2.3" fill="#fde725"/><circle cx="153.1" cy="314.3" r="2.3" fill="#fde725"/><circle cx="134.0" cy="311.9" r="2.3" fill="#fde725"/><circle cx="118.0" cy="308.8" r="2.3" fill="#fde725"/><circle cx="159.9" cy="308.6" r="2.3" fill="#fde725"/><circle cx="120.2" cy="314.8" r="2.3" fill="#fde725"/><circle cx="157.8" cy="312.3" r="2.3" fill="#fde725"/><circle cx="109.0" cy="313.7" r="2.3" fill="#fde725"/><circle cx="158.9" cy="312.1" r="2.3" fill="#fde725"/><circle cx="159.1" cy="311.7" r="2.3" fill="#fde725"/><circle cx="143.2" cy="313.7" r="2.3" fill="#fde725"/><circle cx="113.2" cy="314.1" r="2.3" fill="#fde725"/><circle cx="130.1" cy="311.4" r="2.3" fill="#fde725"/><circle cx="129.4" cy="315.2" r="2.3" fill="#fde725"/><circle cx="155.6" cy="308.9" r="2.3" fill="#fde725"/><circle cx="105.7" cy="313.7" r="2.3" fill="#fde725"/><circle cx="140.4" cy="312.2" r="2.3" fill="#fde725"/><circle cx="132.7" cy="307.0" r="2.3" fill="#fde725"/><circle cx="126.6" cy="309.1" r="2.3" fill="#fde725"/><circle cx="25.0" cy="314.7" r="2.3" fill="#440154"/><circle cx="24.2" cy="308.7" r="2.3" fill="#440154"/><circle cx="35.3" cy="312.8" r="2.3" fill="#440154"/><circle cx="29.6" cy="313.0" r="2.3" fill="#440154"/><circle cx="45.2" cy="310.8" r="2.3" fill="#440154"/><circle cx="29.7" cy="308.7" r="2.3" fill="#440154"/><circle cx="27.9" cy="314.5" r="2.3" fill="#440154"/><circle cx="21.4" cy="314.0" r="2.3" fill="#440154"/><circle cx="43.3" cy="315.3" r="2.3" fill="#440154"/><circle cx="44.9" cy="310.8" r="2.3" fill="#440154"/><circle cx="31.5" cy="311.0" r="2.3" fill="#440154"/><circle cx="40.5" cy="312.2" r="2.3" fill="#440154"/><circle cx="22.0" cy="312.7" r="2.3" fill="#440154"/><circle cx="40.2" cy="308.7" r="2.3" fill="#440154"/><circle cx="41.4" cy="315.3" r="2.3" fill="#440154"/><circle cx="41.0" cy="313.0" r="2.3" fill="#440154"/><circle cx="35.2" cy="314.8" r="2.3" fill="#440154"/><circle cx="45.5" cy="314.8" r="2.3" fill="#440154"/><circle cx="24.8" cy="314.4" r="2.3" fill="#440154"/><circle cx="36.5" cy="310.6" r="2.3" fill="#440154"/><circle cx="29.6" cy="313.8" r="2.3" fill="#440154"/><circle cx="37.5" cy="314.1" r="2.3" fill="#440154"/><circle cx="26.9" cy="311.6" r="2.3" fill="#440154"/><circle cx="30.5" cy="314.2" r="2.3" fill="#440154"/><circle cx="35.1" cy="310.0" r="2.3" fill="#440154"/><circle cx="25.3" cy="314.7" r="2.3" fill="#440154"/><circle cx="31.1" cy="308.4" r="2.3" fill="#440154"/><circle cx="31.9" cy="310.4" r="2.3" fill="#440154"/><circle cx="31.7" cy="308.3" r="2.3" fill="#440154"/><circle cx="31.2" cy="314.6" r="2.3" fill="#440154"/><circle cx="35.2" cy="311.3" r="2.3" fill="#440154"/><circle cx="31.0" cy="313.6" r="2.3" fill="#440154"/><circle cx="20.9" cy="312.4" r="2.3" fill="#440154"/><circle cx="30.1" cy="314.4" r="2.3" fill="#440154"/><circle cx="33.4" cy="309.7" r="2.3" fill="#440154"/><circle cx="38.2" cy="311.5" r="2.3" fill="#440154"/><circle cx="27.4" cy="312.6" r="2.3" fill="#440154"/><circle cx="25.9" cy="309.0" r="2.3" fill="#440154"/><circle cx="32.4" cy="315.6" r="2.3" fill="#440154"/><circle cx="23.7" cy="313.2" r="2.3" fill="#440154"/><circle cx="32.4" cy="304.2" r="2.3" fill="#440154"/><circle cx="36.9" cy="308.9" r="2.3" fill="#440154"/><circle cx="29.3" cy="307.9" r="2.3" fill="#440154"/><circle cx="25.9" cy="308.0" r="2.3" fill="#440154"/><circle cx="26.8" cy="307.3" r="2.3" fill="#440154"/><circle cx="29.5" cy="307.5" r="2.3" fill="#440154"/><circle cx="36.4" cy="289.5" r="2.3" fill="#440154"/><circle cx="28.9" cy="300.3" r="2.3" fill="#440154"/><circle cx="36.4" cy="302.4" r="2.3" fill="#440154"/><circle cx="22.8" cy="307.5" r="2.3" fill="#440154"/><circle cx="45.6" cy="302.4" r="2.3" fill="#31688e"/><circle cx="45.6" cy="307.5" r="2.3" fill="#31688e"/><circle cx="60.8" cy="308.0" r="2.3" fill="#440154"/><circle cx="61.6" cy="297.1" r="2.3" fill="#440154"/><circle cx="65.0" cy="308.9" r="2.3" fill="#440154"/><circle cx="70.8" cy="300.4" r="2.3" fill="#440154"/><circle cx="68.0" cy="289.7" r="2.3" fill="#440154"/><circle cx="71.2" cy="296.9" r="2.3" fill="#440154"/><circle cx="62.5" cy="293.2" r="2.3" fill="#440154"/><circle cx="72.7" cy="300.3" r="2.3" fill="#440154"/><circle cx="59.5" cy="309.6" r="2.3" fill="#440154"/><circle cx="72.3" cy="289.2" r="2.3" fill="#440154"/><circle cx="73.8" cy="297.4" r="2.3" fill="#440154"/><circle cx="58.2" cy="294.7" r="2.3" fill="#440154"/><circle cx="67.2" cy="308.7" r="2.3" fill="#440154"/><circle cx="71.1" cy="294.8" r="2.3" fill="#440154"/><circle cx="55.7" cy="299.9" r="2.3" fill="#440154"/><circle cx="65.5" cy="299.2" r="2.3" fill="#440154"/><circle cx="66.5" cy="297.4" r="2.3" fill="#440154"/><circle cx="60.1" cy="298.9" r="2.3" fill="#440154"/><circle cx="58.9" cy="313.2" r="2.3" fill="#440154"/><circle cx="69.4" cy="298.2" r="2.3" fill="#440154"/><circle cx="73.9" cy="305.0" r="2.3" fill="#440154"/><circle cx="62.5" cy="296.1" r="2.3" fill="#440154"/><circle cx="60.9" cy="297.7" r="2.3" fill="#440154"/><circle cx="60.2" cy="308.2" r="2.3" fill="#440154"/><circle cx="62.8" cy="297.6" r="2.3" fill="#440154"/><circle cx="76.2" cy="286.7" r="2.3" fill="#440154"/><circle cx="88.6" cy="282.9" r="2.3" fill="#440154"/><circle cx="81.7" cy="300.5" r="2.3" fill="#440154"/><circle cx="80.5" cy="286.3" r="2.3" fill="#440154"/><circle cx="93.0" cy="294.6" r="2.3" fill="#440154"/><circle cx="96.3" cy="294.5" r="2.3" fill="#440154"/><circle cx="90.5" cy="303.5" r="2.3" fill="#440154"/><circle cx="80.0" cy="282.9" r="2.3" fill="#440154"/><circle cx="79.0" cy="302.0" r="2.3" fill="#440154"/><circle cx="84.0" cy="288.4" r="2.3" fill="#440154"/><circle cx="82.6" cy="297.8" r="2.3" fill="#440154"/><circle cx="89.6" cy="294.7" r="2.3" fill="#440154"/><circle cx="93.6" cy="306.4" r="2.3" fill="#440154"/><circle cx="77.4" cy="306.1" r="2.3" fill="#440154"/><circle cx="89.2" cy="300.6" r="2.3" fill="#440154"/><circle cx="88.5" cy="281.8" r="2.3" fill="#440154"/><circle cx="81.9" cy="296.5" r="2.3" fill="#440154"/><circle cx="82.3" cy="304.2" r="2.3" fill="#440154"/><circle cx="80.2" cy="282.4" r="2.3" fill="#440154"/><circle cx="95.9" cy="293.6" r="2.3" fill="#440154"/><circle cx="77.7" cy="299.9" r="2.3" fill="#440154"/><circle cx="94.0" cy="286.2" r="2.3" fill="#440154"/><circle cx="90.5" cy="295.4" r="2.3" fill="#440154"/><circle cx="92.4" cy="301.9" r="2.3" fill="#440154"/><circle cx="86.2" cy="298.2" r="2.3" fill="#440154"/><circle cx="78.6" cy="282.0" r="2.3" fill="#440154"/><circle cx="99.8" cy="286.0" r="2.3" fill="#440154"/><circle cx="100.3" cy="288.0" r="2.3" fill="#440154"/><circle cx="99.1" cy="292.4" r="2.3" fill="#440154"/><circle cx="100.6" cy="291.0" r="2.3" fill="#440154"/><circle cx="96.9" cy="283.7" r="2.3" fill="#440154"/><circle cx="116.7" cy="282.1" r="2.3" fill="#440154"/><circle cx="128.1" cy="278.5" r="2.3" fill="#440154"/><circle cx="107.5" cy="292.2" r="2.3" fill="#440154"/><circle cx="126.1" cy="290.2" r="2.3" fill="#440154"/><circle cx="108.1" cy="273.4" r="2.3" fill="#440154"/><circle cx="112.6" cy="272.9" r="2.3" fill="#440154"/><circle cx="118.2" cy="283.1" r="2.3" fill="#440154"/><circle cx="119.1" cy="298.2" r="2.3" fill="#440154"/><circle cx="124.6" cy="296.8" r="2.3" fill="#440154"/><circle cx="118.3" cy="300.0" r="2.3" fill="#440154"/><circle cx="118.8" cy="273.7" r="2.3" fill="#440154"/><circle cx="119.0" cy="302.1" r="2.3" fill="#440154"/><circle cx="108.9" cy="292.1" r="2.3" fill="#440154"/><circle cx="127.0" cy="290.9" r="2.3" fill="#440154"/><circle cx="110.8" cy="282.3" r="2.3" fill="#440154"/><circle cx="115.1" cy="273.6" r="2.3" fill="#440154"/><circle cx="122.0" cy="304.4" r="2.3" fill="#440154"/><circle cx="120.0" cy="271.9" r="2.3" fill="#440154"/><circle cx="123.6" cy="277.5" r="2.3" fill="#440154"/><circle cx="121.4" cy="281.0" r="2.3" fill="#440154"/><circle cx="115.2" cy="306.3" r="2.3" fill="#440154"/><circle cx="115.6" cy="286.1" r="2.3" fill="#440154"/><circle cx="127.8" cy="304.9" r="2.3" fill="#440154"/><circle cx="108.7" cy="287.8" r="2.3" fill="#440154"/><circle cx="118.0" cy="302.9" r="2.3" fill="#440154"/><circle cx="119.4" cy="294.7" r="2.3" fill="#440154"/><circle cx="114.5" cy="277.3" r="2.3" fill="#440154"/><circle cx="109.2" cy="300.9" r="2.3" fill="#440154"/><circle cx="128.7" cy="284.2" r="2.3" fill="#440154"/><circle cx="107.6" cy="303.5" r="2.3" fill="#440154"/><circle cx="117.3" cy="303.5" r="2.3" fill="#440154"/><circle cx="122.4" cy="295.2" r="2.3" fill="#440154"/><circle cx="129.0" cy="302.8" r="2.3" fill="#440154"/><circle cx="128.7" cy="272.9" r="2.3" fill="#440154"/><circle cx="123.4" cy="283.1" r="2.3" fill="#440154"/><circle cx="108.5" cy="278.5" r="2.3" fill="#440154"/><circle cx="114.2" cy="293.5" r="2.3" fill="#440154"/><circle cx="124.0" cy="295.9" r="2.3" fill="#440154"/><circle cx="118.8" cy="274.9" r="2.3" fill="#440154"/><circle cx="128.6" cy="296.1" r="2.3" fill="#440154"/><circle cx="132.5" cy="282.7" r="2.3" fill="#440154"/><circle cx="150.2" cy="269.8" r="2.3" fill="#440154"/><circle cx="151.3" cy="275.2" r="2.3" fill="#440154"/><circle cx="141.4" cy="264.0" r="2.3" fill="#440154"/><circle cx="130.8" cy="269.4" r="2.3" fill="#440154"/><circle cx="136.0" cy="262.6" r="2.3" fill="#440154"/><circle cx="138.7" cy="263.9" r="2.3" fill="#440154"/><circle cx="150.3" cy="282.2" r="2.3" fill="#440154"/><circle cx="150.6" cy="270.6" r="2.3" fill="#440154"/><circle cx="132.3" cy="269.2" r="2.3" fill="#440154"/><circle cx="146.8" cy="266.4" r="2.3" fill="#440154"/><circle cx="141.9" cy="263.2" r="2.3" fill="#440154"/><circle cx="145.2" cy="269.0" r="2.3" fill="#440154"/><circle cx="143.4" cy="281.2" r="2.3" fill="#440154"/><circle cx="147.7" cy="273.9" r="2.3" fill="#440154"/><circle cx="130.1" cy="265.1" r="2.3" fill="#440154"/><circle cx="135.0" cy="290.0" r="2.3" fill="#440154"/><circle cx="133.3" cy="288.3" r="2.3" fill="#440154"/><circle cx="147.5" cy="285.7" r="2.3" fill="#440154"/><circle cx="144.8" cy="272.1" r="2.3" fill="#440154"/><circle cx="139.0" cy="279.2" r="2.3" fill="#440154"/><circle cx="145.9" cy="272.2" r="2.3" fill="#440154"/><circle cx="149.9" cy="272.6" r="2.3" fill="#440154"/><circle cx="146.4" cy="288.6" r="2.3" fill="#440154"/><circle cx="133.1" cy="271.3" r="2.3" fill="#440154"/><circle cx="146.9" cy="277.6" r="2.3" fill="#440154"/><circle cx="134.9" cy="266.0" r="2.3" fill="#440154"/><circle cx="134.3" cy="275.3" r="2.3" fill="#440154"/><circle cx="146.0" cy="284.5" r="2.3" fill="#440154"/><circle cx="143.5" cy="267.1" r="2.3" fill="#440154"/><circle cx="141.1" cy="264.5" r="2.3" fill="#440154"/><circle cx="150.8" cy="281.5" r="2.3" fill="#440154"/><circle cx="148.3" cy="270.5" r="2.3" fill="#440154"/><circle cx="141.6" cy="265.6" r="2.3" fill="#440154"/><circle cx="151.3" cy="282.5" r="2.3" fill="#440154"/><circle cx="167.2" cy="269.0" r="2.3" fill="#440154"/><circle cx="167.9" cy="269.7" r="2.3" fill="#440154"/><circle cx="170.6" cy="255.4" r="2.3" fill="#440154"/><circle cx="156.7" cy="260.8" r="2.3" fill="#440154"/><circle cx="163.2" cy="257.7" r="2.3" fill="#440154"/><circle cx="160.5" cy="261.3" r="2.3" fill="#440154"/><circle cx="155.5" cy="257.1" r="2.3" fill="#440154"/><circle cx="163.4" cy="250.3" r="2.3" fill="#440154"/><circle cx="166.5" cy="252.2" r="2.3" fill="#440154"/><circle cx="152.5" cy="249.9" r="2.3" fill="#440154"/><circle cx="160.0" cy="262.9" r="2.3" fill="#440154"/><circle cx="170.9" cy="263.6" r="2.3" fill="#440154"/><circle cx="152.1" cy="262.9" r="2.3" fill="#440154"/><circle cx="166.9" cy="265.1" r="2.3" fill="#440154"/><circle cx="158.3" cy="260.0" r="2.3" fill="#440154"/><circle cx="167.1" cy="250.2" r="2.3" fill="#440154"/><circle cx="163.4" cy="262.2" r="2.3" fill="#440154"/><circle cx="153.0" cy="250.9" r="2.3" fill="#440154"/><circle cx="167.2" cy="265.9" r="2.3" fill="#440154"/><circle cx="162.6" cy="268.8" r="2.3" fill="#440154"/><circle cx="161.3" cy="254.0" r="2.3" fill="#440154"/><circle cx="170.6" cy="266.6" r="2.3" fill="#440154"/><circle cx="169.8" cy="265.2" r="2.3" fill="#440154"/><circle cx="159.8" cy="255.8" r="2.3" fill="#440154"/><circle cx="156.8" cy="250.7" r="2.3" fill="#440154"/><circle cx="166.9" cy="235.7" r="2.3" fill="#440154"/><circle cx="166.3" cy="240.2" r="2.3" fill="#440154"/><circle cx="167.3" cy="245.3" r="2.3" fill="#440154"/><circle cx="168.4" cy="249.4" r="2.3" fill="#440154"/><circle cx="145.3" cy="292.2" r="2.3" fill="#440154"/><circle cx="151.0" cy="284.0" r="2.3" fill="#440154"/><path d="M41.5,313.6 L53.8,310.5 L66.0,307.5 L80.3,302.4 L98.0,294.8 L116.4,288.1 L136.8,278.9 L157.1,265.7 L171.4,255.5" fill="none" stroke="#c71585" stroke-width="2.6" stroke-opacity="0.72" stroke-linecap="butt" stroke-linejoin="round"/><path d="M41.5,313.8 L172.0,313.8" fill="none" stroke="#cc8a35" stroke-width="2.9" stroke-opacity="0.75" stroke-linecap="butt" stroke-linejoin="round"/><path d="M20.1,313.6 L41.5,313.6" fill="none" stroke="#4a4a33" stroke-width="2.7" stroke-opacity="0.95" stroke-linecap="butt" stroke-linejoin="round"/></g></g>
<rect x="13.50" y="231.50" width="166.10" height="87.40" fill="none" stroke="#333" stroke-width="0.85"/>
<line x1="11.10" x2="13.50" y1="314.80" y2="314.80" stroke="#555" stroke-width="0.7"/>
<text x="9.90" y="317.30" text-anchor="end" class="t">0</text>
<line x1="11.10" x2="13.50" y1="295.68" y2="295.68" stroke="#555" stroke-width="0.7"/>
<text x="9.90" y="298.18" text-anchor="end" class="t">20</text>
<line x1="11.10" x2="13.50" y1="276.56" y2="276.56" stroke="#555" stroke-width="0.7"/>
<text x="9.90" y="279.06" text-anchor="end" class="t">40</text>
<line x1="11.10" x2="13.50" y1="257.44" y2="257.44" stroke="#555" stroke-width="0.7"/>
<text x="9.90" y="259.94" text-anchor="end" class="t">60</text>
<line x1="11.10" x2="13.50" y1="238.32" y2="238.32" stroke="#555" stroke-width="0.7"/>
<text x="9.90" y="240.82" text-anchor="end" class="t">80</text>
<line x1="21.05" x2="21.05" y1="318.90" y2="321.30" stroke="#555" stroke-width="0.7"/>
<line x1="51.25" x2="51.25" y1="318.90" y2="321.30" stroke="#555" stroke-width="0.7"/>
<line x1="81.45" x2="81.45" y1="318.90" y2="321.30" stroke="#555" stroke-width="0.7"/>
<line x1="111.65" x2="111.65" y1="318.90" y2="321.30" stroke="#555" stroke-width="0.7"/>
<line x1="141.85" x2="141.85" y1="318.90" y2="321.30" stroke="#555" stroke-width="0.7"/>
<line x1="172.05" x2="172.05" y1="318.90" y2="321.30" stroke="#555" stroke-width="0.7"/>
<rect x="13.00" y="337.40" width="166.30" height="8.80" fill="url(#vir)" fill-opacity="0.75" stroke="#111" stroke-width="0.9"/>
<line x1="13.00" x2="13.00" y1="346.20" y2="348.40" stroke="#555" stroke-width="0.8"/>
<text x="13.00" y="355.80" text-anchor="middle" class="t">0.0</text>
<line x1="46.26" x2="46.26" y1="346.20" y2="348.40" stroke="#555" stroke-width="0.8"/>
<text x="46.26" y="355.80" text-anchor="middle" class="t">0.2</text>
<line x1="79.52" x2="79.52" y1="346.20" y2="348.40" stroke="#555" stroke-width="0.8"/>
<text x="79.52" y="355.80" text-anchor="middle" class="t">0.4</text>
<line x1="112.78" x2="112.78" y1="346.20" y2="348.40" stroke="#555" stroke-width="0.8"/>
<text x="112.78" y="355.80" text-anchor="middle" class="t">0.6</text>
<line x1="146.04" x2="146.04" y1="346.20" y2="348.40" stroke="#555" stroke-width="0.8"/>
<text x="146.04" y="355.80" text-anchor="middle" class="t">0.8</text>
<line x1="179.30" x2="179.30" y1="346.20" y2="348.40" stroke="#555" stroke-width="0.8"/>
<text x="179.30" y="355.80" text-anchor="middle" class="t">1.0</text>
<clipPath id="sce"><rect x="13.40" y="371.10" width="166.50" height="25.10"/></clipPath>
<g clip-path="url(#sce)"><line x1="33.29" x2="33.29" y1="395.06" y2="383.82" stroke="#1f77b4" stroke-width="1.1"/><line x1="42.66" x2="42.66" y1="395.06" y2="372.24" stroke="#1f77b4" stroke-width="1.1"/><circle cx="28.60" cy="395.06" r="2.1" fill="#1f77b4"/><circle cx="33.29" cy="383.82" r="2.1" fill="#1f77b4"/><circle cx="37.97" cy="395.06" r="2.1" fill="#1f77b4"/><circle cx="42.66" cy="372.24" r="2.1" fill="#1f77b4"/><circle cx="47.34" cy="395.06" r="2.1" fill="#1f77b4"/><circle cx="52.03" cy="395.06" r="2.1" fill="#1f77b4"/><circle cx="56.72" cy="395.06" r="2.1" fill="#1f77b4"/><circle cx="61.40" cy="395.06" r="2.1" fill="#1f77b4"/><circle cx="66.09" cy="395.06" r="2.1" fill="#1f77b4"/><circle cx="70.78" cy="395.06" r="2.1" fill="#1f77b4"/><circle cx="75.46" cy="395.06" r="2.1" fill="#1f77b4"/><circle cx="80.15" cy="395.06" r="2.1" fill="#1f77b4"/><circle cx="84.83" cy="395.06" r="2.1" fill="#1f77b4"/><circle cx="89.52" cy="395.06" r="2.1" fill="#1f77b4"/><circle cx="94.21" cy="395.06" r="2.1" fill="#1f77b4"/><circle cx="98.89" cy="395.06" r="2.1" fill="#1f77b4"/><circle cx="103.58" cy="395.06" r="2.1" fill="#1f77b4"/><circle cx="108.27" cy="395.06" r="2.1" fill="#1f77b4"/><circle cx="112.95" cy="395.06" r="2.1" fill="#1f77b4"/><circle cx="117.64" cy="395.06" r="2.1" fill="#1f77b4"/><circle cx="122.32" cy="395.06" r="2.1" fill="#1f77b4"/><circle cx="127.01" cy="395.06" r="2.1" fill="#1f77b4"/><circle cx="131.70" cy="395.06" r="2.1" fill="#1f77b4"/><circle cx="136.38" cy="395.06" r="2.1" fill="#1f77b4"/><circle cx="141.07" cy="395.06" r="2.1" fill="#1f77b4"/><circle cx="145.76" cy="395.06" r="2.1" fill="#1f77b4"/><circle cx="150.44" cy="395.06" r="2.1" fill="#1f77b4"/><circle cx="155.13" cy="395.06" r="2.1" fill="#1f77b4"/><circle cx="159.81" cy="395.06" r="2.1" fill="#1f77b4"/><circle cx="164.50" cy="395.06" r="2.1" fill="#1f77b4"/><line x1="28.60" x2="164.50" y1="395.06" y2="395.06" stroke="#d62728" stroke-width="1.2"/></g>
<rect x="13.40" y="371.10" width="166.50" height="25.10" fill="none" stroke="#333" stroke-width="0.85"/>
<line x1="11.00" x2="13.40" y1="395.06" y2="395.06" stroke="#444" stroke-width="0.7"/>
<text x="9.80" y="397.56" text-anchor="end" class="t">0.0</text>
<line x1="11.00" x2="13.40" y1="378.28" y2="378.28" stroke="#444" stroke-width="0.7"/>
<text x="9.80" y="380.78" text-anchor="end" class="t">0.5</text>
<line x1="21.05" x2="21.05" y1="396.20" y2="398.60" stroke="#444" stroke-width="0.7"/>
<text x="21.05" y="405.80" text-anchor="middle" class="t">0.0</text>
<line x1="51.25" x2="51.25" y1="396.20" y2="398.60" stroke="#444" stroke-width="0.7"/>
<text x="51.25" y="405.80" text-anchor="middle" class="t">0.2</text>
<line x1="81.45" x2="81.45" y1="396.20" y2="398.60" stroke="#444" stroke-width="0.7"/>
<text x="81.45" y="405.80" text-anchor="middle" class="t">0.4</text>
<line x1="111.65" x2="111.65" y1="396.20" y2="398.60" stroke="#444" stroke-width="0.7"/>
<text x="111.65" y="405.80" text-anchor="middle" class="t">0.6</text>
<line x1="141.85" x2="141.85" y1="396.20" y2="398.60" stroke="#444" stroke-width="0.7"/>
<text x="141.85" y="405.80" text-anchor="middle" class="t">0.8</text>
<line x1="172.05" x2="172.05" y1="396.20" y2="398.60" stroke="#444" stroke-width="0.7"/>
<text x="172.05" y="405.80" text-anchor="middle" class="t">1.0</text>
<text x="7.00" y="437.30" class="lab">(e)</text>
<text x="38.00" y="437.30" class="cap">ELANE</text>
<text x="109.30" y="437.30" class="cap">b = 0.14</text>
<g><clipPath id="cpf"><rect x="217.30" y="235.20" width="162.70" height="85.70"/></clipPath><g clip-path="url(#cpf)"><circle cx="241.9" cy="313.3" r="2.3" fill="#440154"/><circle cx="228.6" cy="309.5" r="2.3" fill="#440154"/><circle cx="250.1" cy="311.0" r="2.3" fill="#440154"/><circle cx="226.1" cy="314.4" r="2.3" fill="#440154"/><circle cx="237.6" cy="316.1" r="2.3" fill="#440154"/><circle cx="230.8" cy="309.7" r="2.3" fill="#440154"/><circle cx="251.7" cy="312.0" r="2.3" fill="#440154"/><circle cx="248.7" cy="315.0" r="2.3" fill="#440154"/><circle cx="244.3" cy="313.8" r="2.3" fill="#440154"/><circle cx="244.1" cy="311.1" r="2.3" fill="#440154"/><circle cx="226.3" cy="315.0" r="2.3" fill="#440154"/><circle cx="226.7" cy="315.8" r="2.3" fill="#440154"/><circle cx="252.0" cy="311.2" r="2.3" fill="#440154"/><circle cx="254.0" cy="314.7" r="2.3" fill="#440154"/><circle cx="238.6" cy="313.1" r="2.3" fill="#440154"/><circle cx="224.4" cy="314.4" r="2.3" fill="#440154"/><circle cx="252.3" cy="315.5" r="2.3" fill="#440154"/><circle cx="239.5" cy="316.5" r="2.3" fill="#440154"/><circle cx="251.5" cy="313.1" r="2.3" fill="#440154"/><circle cx="247.8" cy="316.3" r="2.3" fill="#440154"/><circle cx="229.1" cy="316.1" r="2.3" fill="#440154"/><circle cx="230.0" cy="311.4" r="2.3" fill="#440154"/><circle cx="235.4" cy="315.7" r="2.3" fill="#440154"/><circle cx="251.0" cy="309.9" r="2.3" fill="#440154"/><circle cx="251.0" cy="316.5" r="2.3" fill="#440154"/><circle cx="253.5" cy="313.7" r="2.3" fill="#440154"/><circle cx="236.6" cy="315.9" r="2.3" fill="#440154"/><circle cx="232.6" cy="312.5" r="2.3" fill="#440154"/><circle cx="229.6" cy="316.1" r="2.3" fill="#440154"/><circle cx="230.9" cy="309.0" r="2.3" fill="#440154"/><circle cx="228.6" cy="315.0" r="2.3" fill="#440154"/><circle cx="248.0" cy="309.5" r="2.3" fill="#440154"/><circle cx="254.5" cy="316.3" r="2.3" fill="#440154"/><circle cx="243.4" cy="314.6" r="2.3" fill="#440154"/><circle cx="226.3" cy="316.1" r="2.3" fill="#440154"/><circle cx="228.3" cy="315.2" r="2.3" fill="#440154"/><circle cx="241.6" cy="315.2" r="2.3" fill="#440154"/><circle cx="253.8" cy="316.4" r="2.3" fill="#440154"/><circle cx="229.9" cy="316.1" r="2.3" fill="#440154"/><circle cx="250.9" cy="314.0" r="2.3" fill="#440154"/><circle cx="249.9" cy="315.5" r="2.3" fill="#440154"/><circle cx="252.5" cy="311.8" r="2.3" fill="#440154"/><circle cx="249.7" cy="312.4" r="2.3" fill="#440154"/><circle cx="250.6" cy="313.5" r="2.3" fill="#440154"/><circle cx="227.1" cy="310.5" r="2.3" fill="#440154"/><circle cx="254.2" cy="316.5" r="2.3" fill="#440154"/><circle cx="252.9" cy="312.8" r="2.3" fill="#440154"/><circle cx="234.6" cy="314.8" r="2.3" fill="#440154"/><circle cx="237.2" cy="315.3" r="2.3" fill="#440154"/><circle cx="237.6" cy="309.9" r="2.3" fill="#440154"/><circle cx="247.2" cy="313.1" r="2.3" fill="#440154"/><circle cx="242.5" cy="311.7" r="2.3" fill="#440154"/><circle cx="232.6" cy="310.1" r="2.3" fill="#440154"/><circle cx="240.0" cy="313.3" r="2.3" fill="#440154"/><circle cx="232.0" cy="314.9" r="2.3" fill="#440154"/><circle cx="237.9" cy="306.7" r="2.3" fill="#440154"/><circle cx="244.9" cy="303.7" r="2.3" fill="#440154"/><circle cx="253.8" cy="302.7" r="2.3" fill="#440154"/><circle cx="263.7" cy="308.6" r="2.3" fill="#fde725"/><circle cx="299.8" cy="303.0" r="2.3" fill="#fde725"/><circle cx="295.0" cy="305.0" r="2.3" fill="#fde725"/><circle cx="262.9" cy="301.8" r="2.3" fill="#fde725"/><circle cx="259.2" cy="299.1" r="2.3" fill="#fde725"/><circle cx="256.7" cy="300.9" r="2.3" fill="#fde725"/><circle cx="279.8" cy="311.5" r="2.3" fill="#fde725"/><circle cx="289.9" cy="306.2" r="2.3" fill="#fde725"/><circle cx="263.2" cy="305.9" r="2.3" fill="#fde725"/><circle cx="268.5" cy="296.4" r="2.3" fill="#fde725"/><circle cx="257.0" cy="296.5" r="2.3" fill="#fde725"/><circle cx="287.4" cy="301.9" r="2.3" fill="#fde725"/><circle cx="255.0" cy="293.3" r="2.3" fill="#fde725"/><circle cx="269.3" cy="304.2" r="2.3" fill="#fde725"/><circle cx="266.5" cy="301.9" r="2.3" fill="#fde725"/><circle cx="292.9" cy="307.6" r="2.3" fill="#fde725"/><circle cx="282.3" cy="299.0" r="2.3" fill="#fde725"/><circle cx="289.2" cy="309.9" r="2.3" fill="#fde725"/><circle cx="299.0" cy="308.3" r="2.3" fill="#fde725"/><circle cx="286.4" cy="300.9" r="2.3" fill="#fde725"/><circle cx="296.5" cy="306.4" r="2.3" fill="#fde725"/><circle cx="267.9" cy="301.4" r="2.3" fill="#fde725"/><circle cx="294.4" cy="294.3" r="2.3" fill="#fde725"/><circle cx="265.7" cy="304.1" r="2.3" fill="#fde725"/><circle cx="294.6" cy="305.3" r="2.3" fill="#fde725"/><circle cx="292.9" cy="310.6" r="2.3" fill="#fde725"/><circle cx="282.0" cy="309.3" r="2.3" fill="#fde725"/><circle cx="270.0" cy="291.2" r="2.3" fill="#fde725"/><circle cx="259.6" cy="293.6" r="2.3" fill="#fde725"/><circle cx="265.4" cy="304.8" r="2.3" fill="#fde725"/><circle cx="276.4" cy="308.4" r="2.3" fill="#fde725"/><circle cx="269.3" cy="290.0" r="2.3" fill="#fde725"/><circle cx="289.9" cy="292.2" r="2.3" fill="#fde725"/><circle cx="298.5" cy="307.0" r="2.3" fill="#fde725"/><circle cx="269.2" cy="305.6" r="2.3" fill="#fde725"/><circle cx="257.7" cy="309.4" r="2.3" fill="#fde725"/><circle cx="261.6" cy="310.2" r="2.3" fill="#fde725"/><circle cx="258.5" cy="310.0" r="2.3" fill="#fde725"/><circle cx="270.4" cy="291.7" r="2.3" fill="#fde725"/><circle cx="283.2" cy="289.5" r="2.3" fill="#fde725"/><circle cx="279.5" cy="298.7" r="2.3" fill="#fde725"/><circle cx="271.6" cy="292.2" r="2.3" fill="#fde725"/><circle cx="297.8" cy="299.0" r="2.3" fill="#fde725"/><circle cx="264.6" cy="296.5" r="2.3" fill="#fde725"/><circle cx="267.0" cy="290.0" r="2.3" fill="#fde725"/><circle cx="281.7" cy="279.8" r="2.3" fill="#fde725"/><circle cx="286.7" cy="277.8" r="2.3" fill="#fde725"/><circle cx="299.6" cy="274.8" r="2.3" fill="#fde725"/><circle cx="265.8" cy="289.7" r="2.3" fill="#fde725"/><circle cx="312.1" cy="277.9" r="2.3" fill="#fde725"/><circle cx="307.9" cy="287.4" r="2.3" fill="#fde725"/><circle cx="308.0" cy="285.8" r="2.3" fill="#fde725"/><circle cx="311.8" cy="299.3" r="2.3" fill="#fde725"/><circle cx="313.1" cy="300.7" r="2.3" fill="#fde725"/><circle cx="313.9" cy="290.0" r="2.3" fill="#fde725"/><circle cx="308.9" cy="274.9" r="2.3" fill="#fde725"/><circle cx="300.6" cy="298.3" r="2.3" fill="#fde725"/><circle cx="308.7" cy="290.5" r="2.3" fill="#fde725"/><circle cx="314.0" cy="274.7" r="2.3" fill="#fde725"/><circle cx="315.8" cy="276.6" r="2.3" fill="#fde725"/><circle cx="315.4" cy="275.3" r="2.3" fill="#fde725"/><circle cx="309.7" cy="301.9" r="2.3" fill="#fde725"/><circle cx="314.1" cy="296.6" r="2.3" fill="#fde725"/><circle cx="302.0" cy="300.2" r="2.3" fill="#fde725"/><circle cx="302.5" cy="279.1" r="2.3" fill="#fde725"/><circle cx="311.0" cy="304.9" r="2.3" fill="#fde725"/><circle cx="307.3" cy="303.8" r="2.3" fill="#fde725"/><circle cx="305.8" cy="295.9" r="2.3" fill="#fde725"/><circle cx="302.6" cy="304.2" r="2.3" fill="#fde725"/><circle cx="331.2" cy="279.4" r="2.3" fill="#fde725"/><circle cx="335.8" cy="293.7" r="2.3" fill="#fde725"/><circle cx="324.8" cy="300.2" r="2.3" fill="#fde725"/><circle cx="326.6" cy="289.6" r="2.3" fill="#fde725"/><circle cx="322.2" cy="282.5" r="2.3" fill="#fde725"/><circle cx="335.1" cy="276.7" r="2.3" fill="#fde725"/><circle cx="321.5" cy="282.6" r="2.3" fill="#fde725"/><circle cx="336.7" cy="277.8" r="2.3" fill="#fde725"/><circle cx="320.0" cy="285.2" r="2.3" fill="#fde725"/><circle cx="330.1" cy="285.1" r="2.3" fill="#fde725"/><circle cx="321.2" cy="291.7" r="2.3" fill="#fde725"/><circle cx="333.3" cy="278.8" r="2.3" fill="#fde725"/><circle cx="333.4" cy="276.4" r="2.3" fill="#fde725"/><circle cx="320.6" cy="280.0" r="2.3" fill="#fde725"/><circle cx="330.9" cy="287.1" r="2.3" fill="#fde725"/><circle cx="322.2" cy="293.0" r="2.3" fill="#fde725"/><circle cx="320.4" cy="289.2" r="2.3" fill="#fde725"/><circle cx="335.8" cy="290.2" r="2.3" fill="#fde725"/><circle cx="328.9" cy="245.0" r="2.3" fill="#fde725"/><circle cx="334.2" cy="240.0" r="2.3" fill="#fde725"/><circle cx="334.8" cy="250.0" r="2.3" fill="#fde725"/><circle cx="346.4" cy="282.4" r="2.3" fill="#fde725"/><circle cx="354.8" cy="284.2" r="2.3" fill="#fde725"/><circle cx="343.5" cy="292.1" r="2.3" fill="#fde725"/><circle cx="357.2" cy="282.9" r="2.3" fill="#fde725"/><circle cx="348.9" cy="287.0" r="2.3" fill="#fde725"/><circle cx="343.6" cy="290.3" r="2.3" fill="#fde725"/><circle cx="357.6" cy="269.8" r="2.3" fill="#fde725"/><circle cx="355.4" cy="299.3" r="2.3" fill="#fde725"/><circle cx="356.1" cy="297.0" r="2.3" fill="#fde725"/><circle cx="352.5" cy="270.4" r="2.3" fill="#fde725"/><circle cx="341.2" cy="265.7" r="2.3" fill="#fde725"/><circle cx="354.7" cy="283.6" r="2.3" fill="#fde725"/><circle cx="352.9" cy="264.7" r="2.3" fill="#fde725"/><circle cx="349.1" cy="284.2" r="2.3" fill="#fde725"/><circle cx="341.8" cy="291.9" r="2.3" fill="#fde725"/><circle cx="342.2" cy="260.3" r="2.3" fill="#fde725"/><circle cx="343.0" cy="293.5" r="2.3" fill="#fde725"/><circle cx="350.1" cy="297.9" r="2.3" fill="#fde725"/><circle cx="347.1" cy="285.9" r="2.3" fill="#fde725"/><circle cx="340.6" cy="272.3" r="2.3" fill="#fde725"/><circle cx="343.4" cy="289.7" r="2.3" fill="#fde725"/><circle cx="341.4" cy="277.4" r="2.3" fill="#fde725"/><circle cx="359.9" cy="256.9" r="2.3" fill="#fde725"/><circle cx="364.6" cy="266.3" r="2.3" fill="#fde725"/><circle cx="368.5" cy="273.8" r="2.3" fill="#fde725"/><circle cx="365.4" cy="260.1" r="2.3" fill="#fde725"/><circle cx="362.6" cy="271.2" r="2.3" fill="#fde725"/><circle cx="358.4" cy="247.2" r="2.3" fill="#fde725"/><circle cx="367.3" cy="262.2" r="2.3" fill="#fde725"/><circle cx="367.4" cy="267.6" r="2.3" fill="#fde725"/><circle cx="371.0" cy="267.3" r="2.3" fill="#fde725"/><circle cx="369.1" cy="262.5" r="2.3" fill="#fde725"/><circle cx="360.7" cy="255.0" r="2.3" fill="#fde725"/><circle cx="365.4" cy="281.7" r="2.3" fill="#fde725"/><circle cx="364.1" cy="244.8" r="2.3" fill="#fde725"/><circle cx="370.6" cy="259.3" r="2.3" fill="#fde725"/><circle cx="361.1" cy="275.1" r="2.3" fill="#fde725"/><circle cx="362.5" cy="252.8" r="2.3" fill="#fde725"/><circle cx="367.9" cy="258.1" r="2.3" fill="#fde725"/><circle cx="371.1" cy="243.8" r="2.3" fill="#fde725"/><circle cx="360.8" cy="260.8" r="2.3" fill="#fde725"/><circle cx="368.0" cy="281.6" r="2.3" fill="#fde725"/><circle cx="363.8" cy="253.6" r="2.3" fill="#fde725"/><circle cx="368.2" cy="251.0" r="2.3" fill="#fde725"/><circle cx="358.0" cy="269.6" r="2.3" fill="#fde725"/><circle cx="358.1" cy="249.2" r="2.3" fill="#fde725"/><circle cx="365.3" cy="248.4" r="2.3" fill="#fde725"/><circle cx="368.7" cy="243.0" r="2.3" fill="#fde725"/><circle cx="261.2" cy="313.3" r="2.3" fill="#440154"/><circle cx="278.4" cy="311.7" r="2.3" fill="#440154"/><circle cx="265.3" cy="311.8" r="2.3" fill="#440154"/><circle cx="263.6" cy="312.2" r="2.3" fill="#440154"/><circle cx="299.2" cy="316.1" r="2.3" fill="#440154"/><circle cx="277.8" cy="313.8" r="2.3" fill="#440154"/><circle cx="279.1" cy="314.1" r="2.3" fill="#440154"/><circle cx="283.5" cy="312.2" r="2.3" fill="#440154"/><circle cx="273.0" cy="315.3" r="2.3" fill="#440154"/><circle cx="291.2" cy="316.4" r="2.3" fill="#440154"/><circle cx="272.2" cy="313.4" r="2.3" fill="#440154"/><circle cx="267.7" cy="314.0" r="2.3" fill="#440154"/><circle cx="283.8" cy="312.7" r="2.3" fill="#440154"/><circle cx="274.2" cy="313.2" r="2.3" fill="#440154"/><circle cx="285.2" cy="315.8" r="2.3" fill="#440154"/><circle cx="258.6" cy="310.3" r="2.3" fill="#440154"/><circle cx="254.9" cy="315.4" r="2.3" fill="#440154"/><circle cx="263.3" cy="314.2" r="2.3" fill="#440154"/><circle cx="267.3" cy="310.2" r="2.3" fill="#440154"/><circle cx="256.8" cy="311.7" r="2.3" fill="#440154"/><circle cx="291.5" cy="316.2" r="2.3" fill="#440154"/><circle cx="270.1" cy="311.2" r="2.3" fill="#440154"/><circle cx="259.0" cy="315.0" r="2.3" fill="#440154"/><circle cx="279.2" cy="311.4" r="2.3" fill="#440154"/><circle cx="262.6" cy="313.0" r="2.3" fill="#440154"/><circle cx="276.2" cy="314.2" r="2.3" fill="#440154"/><circle cx="291.0" cy="311.5" r="2.3" fill="#440154"/><circle cx="272.2" cy="316.0" r="2.3" fill="#440154"/><circle cx="295.8" cy="314.6" r="2.3" fill="#440154"/><circle cx="277.6" cy="313.1" r="2.3" fill="#440154"/><circle cx="267.3" cy="315.4" r="2.3" fill="#440154"/><circle cx="286.6" cy="310.5" r="2.3" fill="#440154"/><circle cx="271.9" cy="313.9" r="2.3" fill="#440154"/><circle cx="282.1" cy="316.1" r="2.3" fill="#440154"/><circle cx="278.1" cy="315.8" r="2.3" fill="#440154"/><circle cx="280.7" cy="311.9" r="2.3" fill="#440154"/><circle cx="288.9" cy="312.4" r="2.3" fill="#440154"/><circle cx="288.6" cy="315.0" r="2.3" fill="#440154"/><circle cx="260.5" cy="316.1" r="2.3" fill="#440154"/><circle cx="292.5" cy="311.3" r="2.3" fill="#440154"/><circle cx="269.3" cy="314.2" r="2.3" fill="#440154"/><circle cx="257.9" cy="311.3" r="2.3" fill="#440154"/><circle cx="265.1" cy="312.1" r="2.3" fill="#440154"/><circle cx="293.0" cy="310.5" r="2.3" fill="#440154"/><circle cx="286.8" cy="314.5" r="2.3" fill="#440154"/><circle cx="257.7" cy="312.8" r="2.3" fill="#440154"/><circle cx="275.5" cy="316.3" r="2.3" fill="#440154"/><circle cx="272.9" cy="315.4" r="2.3" fill="#440154"/><circle cx="293.2" cy="313.3" r="2.3" fill="#440154"/><circle cx="276.0" cy="313.7" r="2.3" fill="#440154"/><circle cx="366.9" cy="311.7" r="2.3" fill="#440154"/><circle cx="335.5" cy="311.2" r="2.3" fill="#440154"/><circle cx="356.5" cy="312.1" r="2.3" fill="#440154"/><circle cx="334.7" cy="311.6" r="2.3" fill="#440154"/><circle cx="364.6" cy="316.3" r="2.3" fill="#440154"/><circle cx="310.4" cy="309.9" r="2.3" fill="#440154"/><circle cx="317.2" cy="310.5" r="2.3" fill="#440154"/><circle cx="349.9" cy="310.0" r="2.3" fill="#440154"/><circle cx="327.1" cy="311.8" r="2.3" fill="#440154"/><circle cx="342.0" cy="313.9" r="2.3" fill="#440154"/><circle cx="351.6" cy="316.0" r="2.3" fill="#440154"/><circle cx="355.9" cy="313.7" r="2.3" fill="#440154"/><circle cx="339.3" cy="310.9" r="2.3" fill="#440154"/><circle cx="358.3" cy="311.2" r="2.3" fill="#440154"/><circle cx="344.8" cy="312.6" r="2.3" fill="#440154"/><circle cx="320.2" cy="310.5" r="2.3" fill="#440154"/><circle cx="336.5" cy="310.3" r="2.3" fill="#440154"/><circle cx="357.5" cy="316.6" r="2.3" fill="#440154"/><circle cx="354.8" cy="311.1" r="2.3" fill="#440154"/><circle cx="324.2" cy="314.6" r="2.3" fill="#440154"/><circle cx="334.5" cy="315.3" r="2.3" fill="#440154"/><circle cx="320.7" cy="316.4" r="2.3" fill="#440154"/><circle cx="350.3" cy="314.0" r="2.3" fill="#440154"/><circle cx="365.4" cy="310.1" r="2.3" fill="#440154"/><circle cx="364.0" cy="309.2" r="2.3" fill="#440154"/><circle cx="361.7" cy="313.5" r="2.3" fill="#440154"/><circle cx="362.1" cy="309.7" r="2.3" fill="#440154"/><circle cx="358.6" cy="309.3" r="2.3" fill="#440154"/><circle cx="348.0" cy="311.5" r="2.3" fill="#440154"/><circle cx="357.1" cy="310.9" r="2.3" fill="#440154"/><circle cx="348.1" cy="315.9" r="2.3" fill="#440154"/><circle cx="319.3" cy="311.5" r="2.3" fill="#440154"/><circle cx="333.7" cy="313.4" r="2.3" fill="#440154"/><circle cx="344.5" cy="314.6" r="2.3" fill="#440154"/><circle cx="330.3" cy="310.9" r="2.3" fill="#440154"/><circle cx="333.8" cy="311.6" r="2.3" fill="#440154"/><circle cx="312.8" cy="314.8" r="2.3" fill="#440154"/><circle cx="344.4" cy="315.4" r="2.3" fill="#440154"/><circle cx="363.8" cy="315.6" r="2.3" fill="#440154"/><circle cx="370.6" cy="312.3" r="2.3" fill="#440154"/><circle cx="357.9" cy="312.1" r="2.3" fill="#440154"/><circle cx="356.2" cy="312.5" r="2.3" fill="#440154"/><circle cx="348.9" cy="314.6" r="2.3" fill="#440154"/><circle cx="336.5" cy="315.8" r="2.3" fill="#440154"/><circle cx="356.5" cy="312.3" r="2.3" fill="#440154"/><circle cx="335.0" cy="312.7" r="2.3" fill="#440154"/><circle cx="329.5" cy="310.4" r="2.3" fill="#440154"/><circle cx="340.0" cy="313.4" r="2.3" fill="#440154"/><circle cx="343.4" cy="309.1" r="2.3" fill="#440154"/><circle cx="357.6" cy="312.6" r="2.3" fill="#440154"/><circle cx="331.6" cy="313.5" r="2.3" fill="#440154"/><circle cx="354.2" cy="311.9" r="2.3" fill="#440154"/><circle cx="335.9" cy="311.1" r="2.3" fill="#440154"/><circle cx="347.3" cy="313.5" r="2.3" fill="#440154"/><circle cx="311.6" cy="311.7" r="2.3" fill="#440154"/><circle cx="332.7" cy="315.6" r="2.3" fill="#440154"/><circle cx="343.0" cy="310.0" r="2.3" fill="#440154"/><circle cx="347.7" cy="315.2" r="2.3" fill="#440154"/><circle cx="357.8" cy="314.8" r="2.3" fill="#440154"/><circle cx="356.5" cy="312.9" r="2.3" fill="#440154"/><circle cx="319.2" cy="311.6" r="2.3" fill="#440154"/><circle cx="323.8" cy="309.5" r="2.3" fill="#440154"/><circle cx="326.9" cy="309.3" r="2.3" fill="#440154"/><circle cx="338.3" cy="315.5" r="2.3" fill="#440154"/><circle cx="346.2" cy="314.9" r="2.3" fill="#440154"/><circle cx="370.1" cy="308.9" r="2.3" fill="#440154"/><circle cx="312.5" cy="314.0" r="2.3" fill="#440154"/><circle cx="362.4" cy="313.7" r="2.3" fill="#440154"/><circle cx="353.1" cy="312.5" r="2.3" fill="#440154"/><circle cx="313.5" cy="316.4" r="2.3" fill="#440154"/><circle cx="367.3" cy="312.8" r="2.3" fill="#440154"/><circle cx="342.5" cy="311.3" r="2.3" fill="#440154"/><circle cx="358.7" cy="316.0" r="2.3" fill="#440154"/><circle cx="347.7" cy="308.7" r="2.3" fill="#440154"/><circle cx="345.6" cy="314.5" r="2.3" fill="#440154"/><circle cx="356.5" cy="312.3" r="2.3" fill="#440154"/><circle cx="315.3" cy="314.3" r="2.3" fill="#440154"/><circle cx="356.3" cy="315.6" r="2.3" fill="#440154"/><circle cx="367.7" cy="313.7" r="2.3" fill="#440154"/><circle cx="326.1" cy="311.5" r="2.3" fill="#440154"/><circle cx="333.8" cy="309.1" r="2.3" fill="#440154"/><circle cx="334.5" cy="316.5" r="2.3" fill="#440154"/><circle cx="314.3" cy="310.3" r="2.3" fill="#440154"/><circle cx="346.4" cy="316.2" r="2.3" fill="#440154"/><circle cx="336.8" cy="315.8" r="2.3" fill="#440154"/><circle cx="301.0" cy="307.6" r="2.3" fill="#440154"/><circle cx="301.0" cy="313.6" r="2.3" fill="#440154"/><path d="M254.8,314.6 L372.0,314.6" fill="none" stroke="#c71585" stroke-width="2.6" stroke-opacity="0.72" stroke-linecap="butt" stroke-linejoin="round"/><path d="M254.8,314.6 L276.7,310.6 L298.0,304.7 L317.9,295.7 L337.8,284.8 L357.7,273.8 L371.6,263.9" fill="none" stroke="#cc8a35" stroke-width="2.9" stroke-opacity="0.75" stroke-linecap="butt" stroke-linejoin="round"/><path d="M224.0,314.6 L254.5,314.6" fill="none" stroke="#4a4a33" stroke-width="2.7" stroke-opacity="0.95" stroke-linecap="butt" stroke-linejoin="round"/></g></g>
<rect x="217.30" y="235.20" width="162.70" height="85.70" fill="none" stroke="#333" stroke-width="0.85"/>
<line x1="214.90" x2="217.30" y1="316.30" y2="316.30" stroke="#555" stroke-width="0.7"/>
<text x="213.70" y="318.80" text-anchor="end" class="t">0</text>
<line x1="214.90" x2="217.30" y1="292.40" y2="292.40" stroke="#555" stroke-width="0.7"/>
<text x="213.70" y="294.90" text-anchor="end" class="t">10</text>
<line x1="214.90" x2="217.30" y1="268.50" y2="268.50" stroke="#555" stroke-width="0.7"/>
<text x="213.70" y="271.00" text-anchor="end" class="t">20</text>
<line x1="214.90" x2="217.30" y1="244.60" y2="244.60" stroke="#555" stroke-width="0.7"/>
<text x="213.70" y="247.10" text-anchor="end" class="t">30</text>
<line x1="224.70" x2="224.70" y1="320.90" y2="323.30" stroke="#555" stroke-width="0.7"/>
<line x1="254.28" x2="254.28" y1="320.90" y2="323.30" stroke="#555" stroke-width="0.7"/>
<line x1="283.86" x2="283.86" y1="320.90" y2="323.30" stroke="#555" stroke-width="0.7"/>
<line x1="313.44" x2="313.44" y1="320.90" y2="323.30" stroke="#555" stroke-width="0.7"/>
<line x1="343.02" x2="343.02" y1="320.90" y2="323.30" stroke="#555" stroke-width="0.7"/>
<line x1="372.60" x2="372.60" y1="320.90" y2="323.30" stroke="#555" stroke-width="0.7"/>
<rect x="217.00" y="338.80" width="162.80" height="8.80" fill="url(#vir)" fill-opacity="0.75" stroke="#111" stroke-width="0.9"/>
<line x1="217.00" x2="217.00" y1="347.60" y2="349.80" stroke="#555" stroke-width="0.8"/>
<text x="217.00" y="357.20" text-anchor="middle" class="t">0.0</text>
<line x1="249.56" x2="249.56" y1="347.60" y2="349.80" stroke="#555" stroke-width="0.8"/>
<text x="249.56" y="357.20" text-anchor="middle" class="t">0.2</text>
<line x1="282.12" x2="282.12" y1="347.60" y2="349.80" stroke="#555" stroke-width="0.8"/>
<text x="282.12" y="357.20" text-anchor="middle" class="t">0.4</text>
<line x1="314.68" x2="314.68" y1="347.60" y2="349.80" stroke="#555" stroke-width="0.8"/>
<text x="314.68" y="357.20" text-anchor="middle" class="t">0.6</text>
<line x1="347.24" x2="347.24" y1="347.60" y2="349.80" stroke="#555" stroke-width="0.8"/>
<text x="347.24" y="357.20" text-anchor="middle" class="t">0.8</text>
<line x1="379.80" x2="379.80" y1="347.60" y2="349.80" stroke="#555" stroke-width="0.8"/>
<text x="379.80" y="357.20" text-anchor="middle" class="t">1.0</text>
<clipPath id="scf"><rect x="217.00" y="372.40" width="162.80" height="24.00"/></clipPath>
<g clip-path="url(#scf)"><line x1="232.09" x2="232.09" y1="395.31" y2="394.72" stroke="#1f77b4" stroke-width="1.1"/><line x1="236.68" x2="236.68" y1="395.31" y2="393.93" stroke="#1f77b4" stroke-width="1.1"/><line x1="241.27" x2="241.27" y1="395.31" y2="392.30" stroke="#1f77b4" stroke-width="1.1"/><line x1="245.86" x2="245.86" y1="395.31" y2="391.71" stroke="#1f77b4" stroke-width="1.1"/><line x1="250.45" x2="250.45" y1="395.31" y2="383.93" stroke="#1f77b4" stroke-width="1.1"/><line x1="255.04" x2="255.04" y1="395.31" y2="373.49" stroke="#1f77b4" stroke-width="1.1"/><line x1="259.63" x2="259.63" y1="395.31" y2="387.58" stroke="#1f77b4" stroke-width="1.1"/><circle cx="232.09" cy="394.72" r="2.1" fill="#1f77b4"/><circle cx="236.68" cy="393.93" r="2.1" fill="#1f77b4"/><circle cx="241.27" cy="392.30" r="2.1" fill="#1f77b4"/><circle cx="245.86" cy="391.71" r="2.1" fill="#1f77b4"/><circle cx="250.45" cy="383.93" r="2.1" fill="#1f77b4"/><circle cx="255.04" cy="373.49" r="2.1" fill="#1f77b4"/><circle cx="259.63" cy="387.58" r="2.1" fill="#1f77b4"/><circle cx="264.22" cy="395.31" r="2.1" fill="#1f77b4"/><circle cx="268.81" cy="395.31" r="2.1" fill="#1f77b4"/><circle cx="273.40" cy="395.31" r="2.1" fill="#1f77b4"/><circle cx="277.99" cy="395.31" r="2.1" fill="#1f77b4"/><circle cx="282.58" cy="395.31" r="2.1" fill="#1f77b4"/><circle cx="287.17" cy="395.31" r="2.1" fill="#1f77b4"/><circle cx="291.76" cy="395.31" r="2.1" fill="#1f77b4"/><circle cx="296.35" cy="395.31" r="2.1" fill="#1f77b4"/><circle cx="300.95" cy="395.31" r="2.1" fill="#1f77b4"/><circle cx="305.54" cy="395.31" r="2.1" fill="#1f77b4"/><circle cx="310.13" cy="395.31" r="2.1" fill="#1f77b4"/><circle cx="314.72" cy="395.31" r="2.1" fill="#1f77b4"/><circle cx="319.31" cy="395.31" r="2.1" fill="#1f77b4"/><circle cx="323.90" cy="395.31" r="2.1" fill="#1f77b4"/><circle cx="328.49" cy="395.31" r="2.1" fill="#1f77b4"/><circle cx="333.08" cy="395.31" r="2.1" fill="#1f77b4"/><circle cx="337.67" cy="395.31" r="2.1" fill="#1f77b4"/><circle cx="342.26" cy="395.31" r="2.1" fill="#1f77b4"/><circle cx="346.85" cy="395.31" r="2.1" fill="#1f77b4"/><circle cx="351.44" cy="395.31" r="2.1" fill="#1f77b4"/><circle cx="356.03" cy="395.31" r="2.1" fill="#1f77b4"/><circle cx="360.62" cy="395.31" r="2.1" fill="#1f77b4"/><circle cx="365.21" cy="395.31" r="2.1" fill="#1f77b4"/><line x1="232.09" x2="365.21" y1="395.31" y2="395.31" stroke="#d62728" stroke-width="1.2"/></g>
<rect x="217.00" y="372.40" width="162.80" height="24.00" fill="none" stroke="#333" stroke-width="0.85"/>
<line x1="214.60" x2="217.00" y1="395.31" y2="395.31" stroke="#444" stroke-width="0.7"/>
<text x="213.40" y="397.81" text-anchor="end" class="t">0.00</text>
<line x1="214.60" x2="217.00" y1="383.00" y2="383.00" stroke="#444" stroke-width="0.7"/>
<text x="213.40" y="385.50" text-anchor="end" class="t">0.25</text>
<line x1="224.70" x2="224.70" y1="396.40" y2="398.80" stroke="#444" stroke-width="0.7"/>
<text x="224.70" y="406.00" text-anchor="middle" class="t">0.0</text>
<line x1="254.28" x2="254.28" y1="396.40" y2="398.80" stroke="#444" stroke-width="0.7"/>
<text x="254.28" y="406.00" text-anchor="middle" class="t">0.2</text>
<line x1="283.86" x2="283.86" y1="396.40" y2="398.80" stroke="#444" stroke-width="0.7"/>
<text x="283.86" y="406.00" text-anchor="middle" class="t">0.4</text>
<line x1="313.44" x2="313.44" y1="396.40" y2="398.80" stroke="#444" stroke-width="0.7"/>
<text x="313.44" y="406.00" text-anchor="middle" class="t">0.6</text>
<line x1="343.02" x2="343.02" y1="396.40" y2="398.80" stroke="#444" stroke-width="0.7"/>
<text x="343.02" y="406.00" text-anchor="middle" class="t">0.8</text>
<line x1="372.60" x2="372.60" y1="396.40" y2="398.80" stroke="#444" stroke-width="0.7"/>
<text x="372.60" y="406.00" text-anchor="middle" class="t">1.0</text>
<text x="214.80" y="437.30" class="lab">(f)</text>
<text x="239.80" y="437.30" class="cap">CAR2</text>
<text x="302.20" y="437.30" class="cap">b = 0.21</text>
<g><clipPath id="cpg"><rect x="414.70" y="231.50" width="165.50" height="87.50"/></clipPath><g clip-path="url(#cpg)"><circle cx="475.0" cy="314.9" r="2.3" fill="#fde725"/><circle cx="460.8" cy="312.4" r="2.3" fill="#fde725"/><circle cx="456.8" cy="314.1" r="2.3" fill="#fde725"/><circle cx="466.0" cy="313.9" r="2.3" fill="#fde725"/><circle cx="492.5" cy="313.2" r="2.3" fill="#fde725"/><circle cx="458.9" cy="312.4" r="2.3" fill="#fde725"/><circle cx="462.3" cy="312.2" r="2.3" fill="#fde725"/><circle cx="494.9" cy="312.3" r="2.3" fill="#fde725"/><circle cx="495.0" cy="314.0" r="2.3" fill="#fde725"/><circle cx="497.7" cy="312.5" r="2.3" fill="#fde725"/><circle cx="481.2" cy="315.0" r="2.3" fill="#fde725"/><circle cx="444.5" cy="313.1" r="2.3" fill="#fde725"/><circle cx="471.1" cy="311.1" r="2.3" fill="#fde725"/><circle cx="492.0" cy="311.7" r="2.3" fill="#fde725"/><circle cx="469.8" cy="314.9" r="2.3" fill="#fde725"/><circle cx="475.1" cy="313.2" r="2.3" fill="#fde725"/><circle cx="482.9" cy="311.4" r="2.3" fill="#fde725"/><circle cx="478.4" cy="312.6" r="2.3" fill="#fde725"/><circle cx="453.1" cy="314.4" r="2.3" fill="#fde725"/><circle cx="454.8" cy="313.3" r="2.3" fill="#fde725"/><circle cx="459.9" cy="314.5" r="2.3" fill="#fde725"/><circle cx="479.9" cy="311.7" r="2.3" fill="#fde725"/><circle cx="462.7" cy="311.9" r="2.3" fill="#fde725"/><circle cx="476.4" cy="313.9" r="2.3" fill="#fde725"/><circle cx="459.2" cy="314.2" r="2.3" fill="#fde725"/><circle cx="488.9" cy="313.7" r="2.3" fill="#fde725"/><circle cx="492.7" cy="313.6" r="2.3" fill="#fde725"/><circle cx="474.4" cy="311.2" r="2.3" fill="#fde725"/><circle cx="497.0" cy="314.0" r="2.3" fill="#fde725"/><circle cx="457.4" cy="314.3" r="2.3" fill="#fde725"/><circle cx="462.3" cy="311.2" r="2.3" fill="#fde725"/><circle cx="476.5" cy="314.8" r="2.3" fill="#fde725"/><circle cx="467.6" cy="312.0" r="2.3" fill="#fde725"/><circle cx="455.9" cy="314.9" r="2.3" fill="#fde725"/><circle cx="458.9" cy="313.9" r="2.3" fill="#fde725"/><circle cx="458.2" cy="313.8" r="2.3" fill="#fde725"/><circle cx="468.7" cy="313.6" r="2.3" fill="#fde725"/><circle cx="457.3" cy="314.3" r="2.3" fill="#fde725"/><circle cx="497.8" cy="314.9" r="2.3" fill="#fde725"/><circle cx="497.2" cy="313.8" r="2.3" fill="#fde725"/><circle cx="516.9" cy="310.8" r="2.3" fill="#fde725"/><circle cx="524.4" cy="310.9" r="2.3" fill="#fde725"/><circle cx="522.4" cy="314.8" r="2.3" fill="#fde725"/><circle cx="522.2" cy="310.6" r="2.3" fill="#fde725"/><circle cx="564.1" cy="314.4" r="2.3" fill="#fde725"/><circle cx="500.7" cy="315.0" r="2.3" fill="#fde725"/><circle cx="545.6" cy="312.2" r="2.3" fill="#fde725"/><circle cx="529.9" cy="312.0" r="2.3" fill="#fde725"/><circle cx="547.0" cy="311.0" r="2.3" fill="#fde725"/><circle cx="498.7" cy="314.1" r="2.3" fill="#fde725"/><circle cx="534.3" cy="314.0" r="2.3" fill="#fde725"/><circle cx="534.4" cy="313.7" r="2.3" fill="#fde725"/><circle cx="560.6" cy="311.8" r="2.3" fill="#fde725"/><circle cx="563.9" cy="313.1" r="2.3" fill="#fde725"/><circle cx="557.1" cy="314.7" r="2.3" fill="#fde725"/><circle cx="542.3" cy="315.0" r="2.3" fill="#fde725"/><circle cx="550.2" cy="313.4" r="2.3" fill="#fde725"/><circle cx="504.1" cy="313.6" r="2.3" fill="#fde725"/><circle cx="526.9" cy="314.9" r="2.3" fill="#fde725"/><circle cx="542.3" cy="314.0" r="2.3" fill="#fde725"/><circle cx="514.8" cy="312.5" r="2.3" fill="#fde725"/><circle cx="528.4" cy="313.4" r="2.3" fill="#fde725"/><circle cx="509.7" cy="314.7" r="2.3" fill="#fde725"/><circle cx="526.1" cy="312.8" r="2.3" fill="#fde725"/><circle cx="568.2" cy="312.8" r="2.3" fill="#fde725"/><circle cx="510.1" cy="312.5" r="2.3" fill="#fde725"/><circle cx="535.8" cy="313.0" r="2.3" fill="#fde725"/><circle cx="536.1" cy="314.1" r="2.3" fill="#fde725"/><circle cx="530.8" cy="310.9" r="2.3" fill="#fde725"/><circle cx="544.8" cy="314.4" r="2.3" fill="#fde725"/><circle cx="526.5" cy="312.3" r="2.3" fill="#fde725"/><circle cx="564.8" cy="313.4" r="2.3" fill="#fde725"/><circle cx="502.2" cy="312.1" r="2.3" fill="#fde725"/><circle cx="568.6" cy="311.0" r="2.3" fill="#fde725"/><circle cx="525.7" cy="314.2" r="2.3" fill="#fde725"/><circle cx="531.7" cy="313.5" r="2.3" fill="#fde725"/><circle cx="512.0" cy="312.1" r="2.3" fill="#fde725"/><circle cx="507.3" cy="310.7" r="2.3" fill="#fde725"/><circle cx="534.6" cy="311.6" r="2.3" fill="#fde725"/><circle cx="538.5" cy="310.7" r="2.3" fill="#fde725"/><circle cx="543.4" cy="312.9" r="2.3" fill="#fde725"/><circle cx="532.5" cy="314.0" r="2.3" fill="#fde725"/><circle cx="531.8" cy="314.4" r="2.3" fill="#fde725"/><circle cx="556.0" cy="310.7" r="2.3" fill="#fde725"/><circle cx="568.2" cy="311.1" r="2.3" fill="#fde725"/><circle cx="569.2" cy="314.0" r="2.3" fill="#fde725"/><circle cx="541.8" cy="314.3" r="2.3" fill="#fde725"/><circle cx="520.0" cy="313.9" r="2.3" fill="#fde725"/><circle cx="562.6" cy="313.1" r="2.3" fill="#fde725"/><circle cx="554.4" cy="313.8" r="2.3" fill="#fde725"/><circle cx="520.9" cy="312.4" r="2.3" fill="#fde725"/><circle cx="541.2" cy="314.8" r="2.3" fill="#fde725"/><circle cx="506.0" cy="311.9" r="2.3" fill="#fde725"/><circle cx="530.3" cy="310.8" r="2.3" fill="#fde725"/><circle cx="527.6" cy="313.5" r="2.3" fill="#fde725"/><circle cx="463.8" cy="297.1" r="2.3" fill="#fde725"/><circle cx="471.6" cy="294.7" r="2.3" fill="#fde725"/><circle cx="481.0" cy="301.0" r="2.3" fill="#fde725"/><circle cx="556.1" cy="306.4" r="2.3" fill="#fde725"/><circle cx="557.0" cy="308.5" r="2.3" fill="#fde725"/><circle cx="444.5" cy="278.8" r="2.3" fill="#fde725"/><circle cx="434.7" cy="308.2" r="2.3" fill="#440154"/><circle cx="443.7" cy="303.8" r="2.3" fill="#440154"/><circle cx="437.9" cy="311.6" r="2.3" fill="#440154"/><circle cx="426.7" cy="304.5" r="2.3" fill="#440154"/><circle cx="430.9" cy="306.6" r="2.3" fill="#440154"/><circle cx="426.8" cy="314.0" r="2.3" fill="#440154"/><circle cx="424.7" cy="303.0" r="2.3" fill="#440154"/><circle cx="422.4" cy="303.3" r="2.3" fill="#440154"/><circle cx="426.7" cy="303.9" r="2.3" fill="#440154"/><circle cx="442.5" cy="306.6" r="2.3" fill="#440154"/><circle cx="430.9" cy="302.3" r="2.3" fill="#440154"/><circle cx="429.7" cy="311.1" r="2.3" fill="#440154"/><circle cx="423.5" cy="314.0" r="2.3" fill="#440154"/><circle cx="425.0" cy="307.4" r="2.3" fill="#440154"/><circle cx="422.0" cy="302.2" r="2.3" fill="#440154"/><circle cx="439.3" cy="310.8" r="2.3" fill="#440154"/><circle cx="435.1" cy="304.5" r="2.3" fill="#440154"/><circle cx="441.0" cy="311.3" r="2.3" fill="#440154"/><circle cx="421.5" cy="302.2" r="2.3" fill="#440154"/><circle cx="435.5" cy="306.4" r="2.3" fill="#440154"/><circle cx="435.4" cy="309.8" r="2.3" fill="#440154"/><circle cx="436.2" cy="307.9" r="2.3" fill="#440154"/><circle cx="430.9" cy="311.9" r="2.3" fill="#440154"/><circle cx="421.8" cy="304.4" r="2.3" fill="#440154"/><circle cx="442.2" cy="308.2" r="2.3" fill="#440154"/><circle cx="430.9" cy="304.6" r="2.3" fill="#440154"/><circle cx="442.8" cy="303.2" r="2.3" fill="#440154"/><circle cx="433.4" cy="308.2" r="2.3" fill="#440154"/><circle cx="436.3" cy="308.8" r="2.3" fill="#440154"/><circle cx="422.3" cy="309.1" r="2.3" fill="#440154"/><circle cx="424.3" cy="306.5" r="2.3" fill="#440154"/><circle cx="425.1" cy="307.6" r="2.3" fill="#440154"/><circle cx="432.2" cy="306.5" r="2.3" fill="#440154"/><circle cx="442.3" cy="306.4" r="2.3" fill="#440154"/><circle cx="427.1" cy="309.5" r="2.3" fill="#440154"/><circle cx="441.7" cy="309.3" r="2.3" fill="#440154"/><circle cx="437.8" cy="313.3" r="2.3" fill="#440154"/><circle cx="430.3" cy="311.4" r="2.3" fill="#440154"/><circle cx="421.9" cy="314.1" r="2.3" fill="#440154"/><circle cx="426.2" cy="307.0" r="2.3" fill="#440154"/><circle cx="467.3" cy="311.6" r="2.3" fill="#440154"/><circle cx="473.6" cy="307.5" r="2.3" fill="#440154"/><circle cx="494.9" cy="311.5" r="2.3" fill="#440154"/><circle cx="471.1" cy="307.8" r="2.3" fill="#440154"/><circle cx="474.9" cy="312.1" r="2.3" fill="#440154"/><circle cx="459.7" cy="310.9" r="2.3" fill="#440154"/><circle cx="485.5" cy="313.8" r="2.3" fill="#440154"/><circle cx="461.3" cy="307.1" r="2.3" fill="#440154"/><circle cx="471.6" cy="312.0" r="2.3" fill="#440154"/><circle cx="474.9" cy="308.8" r="2.3" fill="#440154"/><circle cx="488.9" cy="308.8" r="2.3" fill="#440154"/><circle cx="472.9" cy="307.3" r="2.3" fill="#440154"/><circle cx="458.5" cy="311.6" r="2.3" fill="#440154"/><circle cx="499.0" cy="311.1" r="2.3" fill="#440154"/><circle cx="468.3" cy="307.6" r="2.3" fill="#440154"/><circle cx="493.7" cy="309.1" r="2.3" fill="#440154"/><circle cx="488.9" cy="309.8" r="2.3" fill="#440154"/><circle cx="484.2" cy="309.9" r="2.3" fill="#440154"/><circle cx="473.7" cy="309.4" r="2.3" fill="#440154"/><circle cx="471.6" cy="312.8" r="2.3" fill="#440154"/><circle cx="464.9" cy="310.3" r="2.3" fill="#440154"/><circle cx="475.1" cy="310.0" r="2.3" fill="#440154"/><circle cx="495.7" cy="314.1" r="2.3" fill="#440154"/><circle cx="488.0" cy="308.0" r="2.3" fill="#440154"/><circle cx="486.8" cy="310.7" r="2.3" fill="#440154"/><circle cx="440.4" cy="296.1" r="2.3" fill="#440154"/><circle cx="449.6" cy="303.8" r="2.3" fill="#26828e"/><circle cx="451.7" cy="305.3" r="2.3" fill="#26828e"/><circle cx="449.5" cy="303.9" r="2.3" fill="#26828e"/><circle cx="446.0" cy="308.5" r="2.3" fill="#26828e"/><circle cx="449.4" cy="309.7" r="2.3" fill="#26828e"/><circle cx="452.0" cy="303.5" r="2.3" fill="#31688e"/><circle cx="444.5" cy="305.2" r="2.3" fill="#5a3d2b"/><circle cx="468.9" cy="278.8" r="2.3" fill="#440154"/><circle cx="465.8" cy="311.1" r="2.3" fill="#440154"/><circle cx="459.4" cy="311.1" r="2.3" fill="#440154"/><circle cx="469.9" cy="303.2" r="2.3" fill="#440154"/><circle cx="460.5" cy="308.7" r="2.3" fill="#440154"/><circle cx="474.7" cy="313.7" r="2.3" fill="#440154"/><circle cx="469.9" cy="300.1" r="2.3" fill="#440154"/><circle cx="470.1" cy="298.6" r="2.3" fill="#440154"/><circle cx="464.9" cy="303.3" r="2.3" fill="#440154"/><circle cx="469.7" cy="307.0" r="2.3" fill="#440154"/><circle cx="459.5" cy="302.7" r="2.3" fill="#440154"/><circle cx="474.3" cy="305.2" r="2.3" fill="#440154"/><circle cx="461.8" cy="310.3" r="2.3" fill="#440154"/><circle cx="468.2" cy="297.3" r="2.3" fill="#440154"/><circle cx="464.3" cy="310.5" r="2.3" fill="#440154"/><circle cx="472.8" cy="309.8" r="2.3" fill="#440154"/><circle cx="465.3" cy="297.0" r="2.3" fill="#440154"/><circle cx="473.7" cy="304.3" r="2.3" fill="#440154"/><circle cx="458.8" cy="301.3" r="2.3" fill="#440154"/><circle cx="465.2" cy="302.9" r="2.3" fill="#440154"/><circle cx="474.7" cy="304.8" r="2.3" fill="#440154"/><circle cx="490.4" cy="296.9" r="2.3" fill="#440154"/><circle cx="488.6" cy="309.3" r="2.3" fill="#440154"/><circle cx="483.4" cy="307.3" r="2.3" fill="#440154"/><circle cx="481.0" cy="295.4" r="2.3" fill="#440154"/><circle cx="497.0" cy="306.7" r="2.3" fill="#440154"/><circle cx="495.5" cy="306.9" r="2.3" fill="#440154"/><circle cx="497.3" cy="307.8" r="2.3" fill="#440154"/><circle cx="481.1" cy="298.7" r="2.3" fill="#440154"/><circle cx="496.7" cy="303.0" r="2.3" fill="#440154"/><circle cx="493.8" cy="298.4" r="2.3" fill="#440154"/><circle cx="480.7" cy="312.2" r="2.3" fill="#440154"/><circle cx="493.9" cy="313.3" r="2.3" fill="#440154"/><circle cx="486.2" cy="306.2" r="2.3" fill="#440154"/><circle cx="477.8" cy="310.5" r="2.3" fill="#440154"/><circle cx="491.7" cy="310.7" r="2.3" fill="#440154"/><circle cx="481.1" cy="303.2" r="2.3" fill="#440154"/><circle cx="492.3" cy="300.6" r="2.3" fill="#440154"/><circle cx="488.5" cy="302.4" r="2.3" fill="#440154"/><circle cx="491.1" cy="295.0" r="2.3" fill="#440154"/><circle cx="489.5" cy="302.8" r="2.3" fill="#440154"/><circle cx="497.1" cy="310.8" r="2.3" fill="#440154"/><circle cx="498.0" cy="303.0" r="2.3" fill="#440154"/><circle cx="500.9" cy="305.7" r="2.3" fill="#440154"/><circle cx="499.0" cy="306.7" r="2.3" fill="#440154"/><circle cx="501.7" cy="301.2" r="2.3" fill="#440154"/><circle cx="504.2" cy="295.2" r="2.3" fill="#26828e"/><circle cx="509.6" cy="301.4" r="2.3" fill="#440154"/><circle cx="519.1" cy="292.4" r="2.3" fill="#440154"/><circle cx="535.7" cy="307.5" r="2.3" fill="#440154"/><circle cx="527.1" cy="286.7" r="2.3" fill="#440154"/><circle cx="526.3" cy="285.8" r="2.3" fill="#440154"/><circle cx="509.5" cy="287.6" r="2.3" fill="#440154"/><circle cx="516.6" cy="298.5" r="2.3" fill="#440154"/><circle cx="533.1" cy="305.4" r="2.3" fill="#440154"/><circle cx="515.9" cy="303.8" r="2.3" fill="#440154"/><circle cx="516.4" cy="304.6" r="2.3" fill="#440154"/><circle cx="520.5" cy="305.4" r="2.3" fill="#440154"/><circle cx="526.1" cy="295.6" r="2.3" fill="#440154"/><circle cx="529.2" cy="285.8" r="2.3" fill="#440154"/><circle cx="514.5" cy="295.2" r="2.3" fill="#440154"/><circle cx="518.2" cy="285.7" r="2.3" fill="#440154"/><circle cx="524.8" cy="284.6" r="2.3" fill="#440154"/><circle cx="521.4" cy="285.5" r="2.3" fill="#440154"/><circle cx="523.5" cy="305.2" r="2.3" fill="#440154"/><circle cx="512.1" cy="310.7" r="2.3" fill="#440154"/><circle cx="512.5" cy="296.7" r="2.3" fill="#440154"/><circle cx="535.3" cy="285.1" r="2.3" fill="#440154"/><circle cx="524.7" cy="311.0" r="2.3" fill="#440154"/><circle cx="534.6" cy="295.2" r="2.3" fill="#440154"/><circle cx="533.3" cy="285.8" r="2.3" fill="#440154"/><circle cx="536.6" cy="292.6" r="2.3" fill="#440154"/><circle cx="529.3" cy="309.6" r="2.3" fill="#440154"/><circle cx="516.3" cy="298.7" r="2.3" fill="#440154"/><circle cx="532.7" cy="293.1" r="2.3" fill="#440154"/><circle cx="514.0" cy="300.0" r="2.3" fill="#440154"/><circle cx="530.7" cy="289.0" r="2.3" fill="#440154"/><circle cx="508.3" cy="310.0" r="2.3" fill="#440154"/><circle cx="518.9" cy="304.0" r="2.3" fill="#440154"/><circle cx="530.3" cy="296.0" r="2.3" fill="#440154"/><circle cx="530.4" cy="287.3" r="2.3" fill="#440154"/><circle cx="526.1" cy="309.2" r="2.3" fill="#440154"/><circle cx="537.2" cy="279.2" r="2.3" fill="#440154"/><circle cx="553.0" cy="275.3" r="2.3" fill="#440154"/><circle cx="550.9" cy="301.5" r="2.3" fill="#440154"/><circle cx="540.2" cy="279.8" r="2.3" fill="#440154"/><circle cx="543.5" cy="280.5" r="2.3" fill="#440154"/><circle cx="543.1" cy="269.0" r="2.3" fill="#440154"/><circle cx="550.0" cy="279.4" r="2.3" fill="#440154"/><circle cx="541.5" cy="289.0" r="2.3" fill="#440154"/><circle cx="549.0" cy="269.2" r="2.3" fill="#440154"/><circle cx="543.5" cy="275.5" r="2.3" fill="#440154"/><circle cx="555.2" cy="279.6" r="2.3" fill="#440154"/><circle cx="539.5" cy="267.1" r="2.3" fill="#440154"/><circle cx="552.4" cy="272.6" r="2.3" fill="#440154"/><circle cx="541.3" cy="273.3" r="2.3" fill="#440154"/><circle cx="539.7" cy="275.6" r="2.3" fill="#440154"/><circle cx="539.0" cy="288.0" r="2.3" fill="#440154"/><circle cx="551.1" cy="281.3" r="2.3" fill="#440154"/><circle cx="541.5" cy="281.2" r="2.3" fill="#440154"/><circle cx="545.4" cy="302.3" r="2.3" fill="#440154"/><circle cx="543.6" cy="299.5" r="2.3" fill="#440154"/><circle cx="554.6" cy="288.7" r="2.3" fill="#440154"/><circle cx="549.0" cy="277.2" r="2.3" fill="#440154"/><circle cx="552.8" cy="266.9" r="2.3" fill="#440154"/><circle cx="539.8" cy="292.4" r="2.3" fill="#440154"/><circle cx="541.3" cy="273.5" r="2.3" fill="#440154"/><circle cx="552.0" cy="287.0" r="2.3" fill="#440154"/><circle cx="545.4" cy="286.2" r="2.3" fill="#440154"/><circle cx="555.6" cy="290.4" r="2.3" fill="#440154"/><circle cx="538.7" cy="301.3" r="2.3" fill="#440154"/><circle cx="543.2" cy="281.6" r="2.3" fill="#440154"/><circle cx="569.9" cy="266.8" r="2.3" fill="#440154"/><circle cx="558.5" cy="291.0" r="2.3" fill="#440154"/><circle cx="559.8" cy="293.7" r="2.3" fill="#440154"/><circle cx="568.8" cy="276.0" r="2.3" fill="#440154"/><circle cx="562.8" cy="282.2" r="2.3" fill="#440154"/><circle cx="558.2" cy="292.4" r="2.3" fill="#440154"/><circle cx="568.4" cy="281.2" r="2.3" fill="#440154"/><circle cx="558.2" cy="285.2" r="2.3" fill="#440154"/><circle cx="562.7" cy="267.5" r="2.3" fill="#440154"/><circle cx="564.0" cy="296.8" r="2.3" fill="#440154"/><circle cx="558.8" cy="275.0" r="2.3" fill="#440154"/><circle cx="561.6" cy="276.3" r="2.3" fill="#440154"/><circle cx="564.6" cy="272.3" r="2.3" fill="#440154"/><circle cx="569.4" cy="260.9" r="2.3" fill="#440154"/><circle cx="568.5" cy="261.3" r="2.3" fill="#440154"/><circle cx="567.4" cy="271.9" r="2.3" fill="#440154"/><circle cx="563.9" cy="264.9" r="2.3" fill="#440154"/><circle cx="563.8" cy="301.1" r="2.3" fill="#440154"/><circle cx="561.0" cy="273.0" r="2.3" fill="#440154"/><circle cx="567.8" cy="278.0" r="2.3" fill="#440154"/><circle cx="558.7" cy="270.3" r="2.3" fill="#440154"/><circle cx="558.5" cy="285.4" r="2.3" fill="#440154"/><circle cx="557.5" cy="268.6" r="2.3" fill="#440154"/><circle cx="570.3" cy="297.1" r="2.3" fill="#440154"/><circle cx="559.2" cy="262.4" r="2.3" fill="#440154"/><circle cx="536.8" cy="236.7" r="2.3" fill="#440154"/><circle cx="546.0" cy="246.3" r="2.3" fill="#440154"/><circle cx="555.5" cy="246.9" r="2.3" fill="#440154"/><circle cx="569.0" cy="249.0" r="2.3" fill="#440154"/><circle cx="525.5" cy="256.5" r="2.3" fill="#440154"/><circle cx="535.7" cy="256.5" r="2.3" fill="#440154"/><circle cx="524.1" cy="269.3" r="2.3" fill="#440154"/><circle cx="535.7" cy="265.0" r="2.3" fill="#440154"/><circle cx="555.7" cy="302.3" r="2.3" fill="#440154"/><path d="M442.5,312.4 L464.8,311.4 L481.1,308.3 L498.0,305.2 L516.4,300.3 L536.8,291.1 L557.1,283.0 L572.4,278.9" fill="none" stroke="#c71585" stroke-width="2.6" stroke-opacity="0.72" stroke-linecap="butt" stroke-linejoin="round"/><path d="M442.5,313.6 L572.4,313.4" fill="none" stroke="#cc8a35" stroke-width="2.9" stroke-opacity="0.75" stroke-linecap="butt" stroke-linejoin="round"/><path d="M421.1,313.2 L442.5,313.2" fill="none" stroke="#4a4a33" stroke-width="2.7" stroke-opacity="0.95" stroke-linecap="butt" stroke-linejoin="round"/></g></g>
<rect x="414.70" y="231.50" width="165.50" height="87.50" fill="none" stroke="#333" stroke-width="0.85"/>
<line x1="412.30" x2="414.70" y1="314.20" y2="314.20" stroke="#555" stroke-width="0.7"/>
<text x="411.10" y="316.70" text-anchor="end" class="t">0</text>
<line x1="412.30" x2="414.70" y1="291.10" y2="291.10" stroke="#555" stroke-width="0.7"/>
<text x="411.10" y="293.60" text-anchor="end" class="t">5</text>
<line x1="412.30" x2="414.70" y1="268.00" y2="268.00" stroke="#555" stroke-width="0.7"/>
<text x="411.10" y="270.50" text-anchor="end" class="t">10</text>
<line x1="412.30" x2="414.70" y1="244.90" y2="244.90" stroke="#555" stroke-width="0.7"/>
<text x="411.10" y="247.40" text-anchor="end" class="t">15</text>
<line x1="422.22" x2="422.22" y1="319.00" y2="321.40" stroke="#555" stroke-width="0.7"/>
<line x1="452.31" x2="452.31" y1="319.00" y2="321.40" stroke="#555" stroke-width="0.7"/>
<line x1="482.40" x2="482.40" y1="319.00" y2="321.40" stroke="#555" stroke-width="0.7"/>
<line x1="512.50" x2="512.50" y1="319.00" y2="321.40" stroke="#555" stroke-width="0.7"/>
<line x1="542.59" x2="542.59" y1="319.00" y2="321.40" stroke="#555" stroke-width="0.7"/>
<line x1="572.68" x2="572.68" y1="319.00" y2="321.40" stroke="#555" stroke-width="0.7"/>
<rect x="414.00" y="337.90" width="166.10" height="8.30" fill="url(#vir)" fill-opacity="0.75" stroke="#111" stroke-width="0.9"/>
<line x1="414.00" x2="414.00" y1="346.20" y2="348.40" stroke="#555" stroke-width="0.8"/>
<text x="414.00" y="355.80" text-anchor="middle" class="t">0.0</text>
<line x1="447.22" x2="447.22" y1="346.20" y2="348.40" stroke="#555" stroke-width="0.8"/>
<text x="447.22" y="355.80" text-anchor="middle" class="t">0.2</text>
<line x1="480.44" x2="480.44" y1="346.20" y2="348.40" stroke="#555" stroke-width="0.8"/>
<text x="480.44" y="355.80" text-anchor="middle" class="t">0.4</text>
<line x1="513.66" x2="513.66" y1="346.20" y2="348.40" stroke="#555" stroke-width="0.8"/>
<text x="513.66" y="355.80" text-anchor="middle" class="t">0.6</text>
<line x1="546.88" x2="546.88" y1="346.20" y2="348.40" stroke="#555" stroke-width="0.8"/>
<text x="546.88" y="355.80" text-anchor="middle" class="t">0.8</text>
<line x1="580.10" x2="580.10" y1="346.20" y2="348.40" stroke="#555" stroke-width="0.8"/>
<text x="580.10" y="355.80" text-anchor="middle" class="t">1.0</text>
<clipPath id="scg"><rect x="414.00" y="371.30" width="166.10" height="24.90"/></clipPath>
<g clip-path="url(#scg)"><line x1="429.75" x2="429.75" y1="395.07" y2="394.09" stroke="#1f77b4" stroke-width="1.1"/><line x1="434.41" x2="434.41" y1="395.07" y2="394.35" stroke="#1f77b4" stroke-width="1.1"/><line x1="439.08" x2="439.08" y1="395.07" y2="392.73" stroke="#1f77b4" stroke-width="1.1"/><line x1="443.75" x2="443.75" y1="395.07" y2="372.43" stroke="#1f77b4" stroke-width="1.1"/><line x1="448.42" x2="448.42" y1="395.07" y2="389.99" stroke="#1f77b4" stroke-width="1.1"/><line x1="453.09" x2="453.09" y1="395.07" y2="394.35" stroke="#1f77b4" stroke-width="1.1"/><line x1="457.76" x2="457.76" y1="395.07" y2="392.79" stroke="#1f77b4" stroke-width="1.1"/><line x1="462.43" x2="462.43" y1="395.07" y2="394.42" stroke="#1f77b4" stroke-width="1.1"/><circle cx="429.75" cy="394.09" r="2.1" fill="#1f77b4"/><circle cx="434.41" cy="394.35" r="2.1" fill="#1f77b4"/><circle cx="439.08" cy="392.73" r="2.1" fill="#1f77b4"/><circle cx="443.75" cy="372.43" r="2.1" fill="#1f77b4"/><circle cx="448.42" cy="389.99" r="2.1" fill="#1f77b4"/><circle cx="453.09" cy="394.35" r="2.1" fill="#1f77b4"/><circle cx="457.76" cy="392.79" r="2.1" fill="#1f77b4"/><circle cx="462.43" cy="394.42" r="2.1" fill="#1f77b4"/><circle cx="467.10" cy="395.07" r="2.1" fill="#1f77b4"/><circle cx="471.77" cy="395.07" r="2.1" fill="#1f77b4"/><circle cx="476.44" cy="395.07" r="2.1" fill="#1f77b4"/><circle cx="481.11" cy="395.07" r="2.1" fill="#1f77b4"/><circle cx="485.78" cy="395.07" r="2.1" fill="#1f77b4"/><circle cx="490.45" cy="395.07" r="2.1" fill="#1f77b4"/><circle cx="495.12" cy="395.07" r="2.1" fill="#1f77b4"/><circle cx="499.78" cy="395.07" r="2.1" fill="#1f77b4"/><circle cx="504.45" cy="395.07" r="2.1" fill="#1f77b4"/><circle cx="509.12" cy="395.07" r="2.1" fill="#1f77b4"/><circle cx="513.79" cy="395.07" r="2.1" fill="#1f77b4"/><circle cx="518.46" cy="395.07" r="2.1" fill="#1f77b4"/><circle cx="523.13" cy="395.07" r="2.1" fill="#1f77b4"/><circle cx="527.80" cy="395.07" r="2.1" fill="#1f77b4"/><circle cx="532.47" cy="395.07" r="2.1" fill="#1f77b4"/><circle cx="537.14" cy="395.07" r="2.1" fill="#1f77b4"/><circle cx="541.81" cy="395.07" r="2.1" fill="#1f77b4"/><circle cx="546.48" cy="395.07" r="2.1" fill="#1f77b4"/><circle cx="551.15" cy="395.07" r="2.1" fill="#1f77b4"/><circle cx="555.82" cy="395.07" r="2.1" fill="#1f77b4"/><circle cx="560.49" cy="395.07" r="2.1" fill="#1f77b4"/><circle cx="565.15" cy="395.07" r="2.1" fill="#1f77b4"/><line x1="429.75" x2="565.15" y1="395.07" y2="395.07" stroke="#d62728" stroke-width="1.2"/></g>
<rect x="414.00" y="371.30" width="166.10" height="24.90" fill="none" stroke="#333" stroke-width="0.85"/>
<line x1="411.60" x2="414.00" y1="395.07" y2="395.07" stroke="#444" stroke-width="0.7"/>
<text x="410.40" y="397.57" text-anchor="end" class="t">0.0</text>
<line x1="411.60" x2="414.00" y1="378.81" y2="378.81" stroke="#444" stroke-width="0.7"/>
<text x="410.40" y="381.31" text-anchor="end" class="t">0.5</text>
<line x1="422.22" x2="422.22" y1="396.20" y2="398.60" stroke="#444" stroke-width="0.7"/>
<text x="422.22" y="405.80" text-anchor="middle" class="t">0.0</text>
<line x1="452.31" x2="452.31" y1="396.20" y2="398.60" stroke="#444" stroke-width="0.7"/>
<text x="452.31" y="405.80" text-anchor="middle" class="t">0.2</text>
<line x1="482.40" x2="482.40" y1="396.20" y2="398.60" stroke="#444" stroke-width="0.7"/>
<text x="482.40" y="405.80" text-anchor="middle" class="t">0.4</text>
<line x1="512.50" x2="512.50" y1="396.20" y2="398.60" stroke="#444" stroke-width="0.7"/>
<text x="512.50" y="405.80" text-anchor="middle" class="t">0.6</text>
<line x1="542.59" x2="542.59" y1="396.20" y2="398.60" stroke="#444" stroke-width="0.7"/>
<text x="542.59" y="405.80" text-anchor="middle" class="t">0.8</text>
<line x1="572.68" x2="572.68" y1="396.20" y2="398.60" stroke="#444" stroke-width="0.7"/>
<text x="572.68" y="405.80" text-anchor="middle" class="t">1.0</text>
<text x="406.70" y="437.30" class="lab">(g)</text>
<text x="437.80" y="437.30" class="cap">GSTM1</text>
<text x="511.20" y="437.30" class="cap">b = 0.14</text>
<g><clipPath id="cph"><rect x="618.20" y="235.50" width="162.30" height="85.40"/></clipPath><g clip-path="url(#cph)"><circle cx="635.8" cy="313.4" r="2.3" fill="#440154"/><circle cx="667.6" cy="314.0" r="2.3" fill="#440154"/><circle cx="646.1" cy="311.3" r="2.3" fill="#440154"/><circle cx="631.0" cy="316.6" r="2.3" fill="#440154"/><circle cx="658.0" cy="310.9" r="2.3" fill="#440154"/><circle cx="651.0" cy="314.4" r="2.3" fill="#440154"/><circle cx="664.7" cy="311.1" r="2.3" fill="#440154"/><circle cx="638.7" cy="310.4" r="2.3" fill="#440154"/><circle cx="650.8" cy="316.0" r="2.3" fill="#440154"/><circle cx="657.2" cy="310.1" r="2.3" fill="#440154"/><circle cx="641.3" cy="309.6" r="2.3" fill="#440154"/><circle cx="632.0" cy="312.7" r="2.3" fill="#440154"/><circle cx="631.7" cy="311.1" r="2.3" fill="#440154"/><circle cx="635.6" cy="312.2" r="2.3" fill="#440154"/><circle cx="662.5" cy="310.8" r="2.3" fill="#440154"/><circle cx="651.9" cy="312.0" r="2.3" fill="#440154"/><circle cx="637.8" cy="311.3" r="2.3" fill="#440154"/><circle cx="659.1" cy="315.4" r="2.3" fill="#440154"/><circle cx="657.1" cy="315.8" r="2.3" fill="#440154"/><circle cx="656.9" cy="311.3" r="2.3" fill="#440154"/><circle cx="635.2" cy="313.3" r="2.3" fill="#440154"/><circle cx="651.7" cy="315.0" r="2.3" fill="#440154"/><circle cx="664.7" cy="315.1" r="2.3" fill="#440154"/><circle cx="667.7" cy="314.1" r="2.3" fill="#440154"/><circle cx="654.9" cy="315.1" r="2.3" fill="#440154"/><circle cx="646.8" cy="315.1" r="2.3" fill="#440154"/><circle cx="663.3" cy="312.9" r="2.3" fill="#440154"/><circle cx="640.0" cy="311.9" r="2.3" fill="#440154"/><circle cx="651.8" cy="313.3" r="2.3" fill="#440154"/><circle cx="646.7" cy="312.0" r="2.3" fill="#440154"/><circle cx="657.3" cy="314.2" r="2.3" fill="#440154"/><circle cx="666.0" cy="316.3" r="2.3" fill="#440154"/><circle cx="625.6" cy="312.0" r="2.3" fill="#440154"/><circle cx="657.5" cy="313.1" r="2.3" fill="#440154"/><circle cx="652.1" cy="311.0" r="2.3" fill="#440154"/><circle cx="641.9" cy="315.5" r="2.3" fill="#440154"/><circle cx="654.4" cy="315.7" r="2.3" fill="#440154"/><circle cx="665.2" cy="316.0" r="2.3" fill="#440154"/><circle cx="662.9" cy="316.0" r="2.3" fill="#440154"/><circle cx="664.3" cy="316.1" r="2.3" fill="#440154"/><circle cx="643.1" cy="312.1" r="2.3" fill="#440154"/><circle cx="644.5" cy="314.8" r="2.3" fill="#440154"/><circle cx="667.8" cy="314.1" r="2.3" fill="#440154"/><circle cx="643.8" cy="309.6" r="2.3" fill="#440154"/><circle cx="630.8" cy="309.5" r="2.3" fill="#440154"/><circle cx="631.6" cy="309.0" r="2.3" fill="#440154"/><circle cx="642.5" cy="311.3" r="2.3" fill="#440154"/><circle cx="666.6" cy="310.2" r="2.3" fill="#440154"/><circle cx="629.1" cy="315.8" r="2.3" fill="#440154"/><circle cx="665.4" cy="312.9" r="2.3" fill="#440154"/><circle cx="648.6" cy="311.6" r="2.3" fill="#440154"/><circle cx="642.4" cy="311.1" r="2.3" fill="#440154"/><circle cx="629.5" cy="316.4" r="2.3" fill="#440154"/><circle cx="663.0" cy="315.6" r="2.3" fill="#440154"/><circle cx="631.5" cy="313.8" r="2.3" fill="#440154"/><circle cx="627.7" cy="314.4" r="2.3" fill="#440154"/><circle cx="628.1" cy="313.6" r="2.3" fill="#440154"/><circle cx="632.0" cy="316.4" r="2.3" fill="#440154"/><circle cx="665.0" cy="312.2" r="2.3" fill="#440154"/><circle cx="665.3" cy="314.9" r="2.3" fill="#440154"/><circle cx="632.8" cy="315.5" r="2.3" fill="#440154"/><circle cx="663.5" cy="310.9" r="2.3" fill="#440154"/><circle cx="654.3" cy="311.3" r="2.3" fill="#440154"/><circle cx="626.2" cy="312.5" r="2.3" fill="#440154"/><circle cx="630.9" cy="315.2" r="2.3" fill="#440154"/><circle cx="655.7" cy="310.8" r="2.3" fill="#440154"/><circle cx="642.7" cy="309.5" r="2.3" fill="#440154"/><circle cx="640.6" cy="313.6" r="2.3" fill="#440154"/><circle cx="661.4" cy="316.4" r="2.3" fill="#440154"/><circle cx="652.2" cy="312.4" r="2.3" fill="#440154"/><circle cx="663.4" cy="313.4" r="2.3" fill="#440154"/><circle cx="660.5" cy="311.7" r="2.3" fill="#440154"/><circle cx="663.9" cy="310.5" r="2.3" fill="#440154"/><circle cx="642.3" cy="310.7" r="2.3" fill="#440154"/><circle cx="641.5" cy="313.7" r="2.3" fill="#440154"/><circle cx="666.3" cy="302.0" r="2.3" fill="#440154"/><circle cx="652.6" cy="303.5" r="2.3" fill="#440154"/><circle cx="661.8" cy="307.9" r="2.3" fill="#440154"/><circle cx="667.6" cy="309.7" r="2.3" fill="#440154"/><circle cx="655.1" cy="303.9" r="2.3" fill="#440154"/><circle cx="657.9" cy="305.5" r="2.3" fill="#440154"/><circle cx="640.3" cy="302.6" r="2.3" fill="#440154"/><circle cx="664.7" cy="305.3" r="2.3" fill="#440154"/><circle cx="635.4" cy="303.5" r="2.3" fill="#440154"/><circle cx="635.3" cy="302.2" r="2.3" fill="#440154"/><circle cx="659.0" cy="305.6" r="2.3" fill="#440154"/><circle cx="641.7" cy="304.4" r="2.3" fill="#440154"/><circle cx="640.6" cy="305.9" r="2.3" fill="#440154"/><circle cx="652.0" cy="302.3" r="2.3" fill="#440154"/><circle cx="646.2" cy="309.0" r="2.3" fill="#440154"/><circle cx="657.7" cy="306.0" r="2.3" fill="#440154"/><circle cx="645.5" cy="304.4" r="2.3" fill="#440154"/><circle cx="635.7" cy="304.2" r="2.3" fill="#440154"/><circle cx="634.6" cy="302.0" r="2.3" fill="#440154"/><circle cx="634.7" cy="309.9" r="2.3" fill="#440154"/><circle cx="667.2" cy="302.1" r="2.3" fill="#440154"/><circle cx="643.7" cy="302.7" r="2.3" fill="#440154"/><circle cx="645.9" cy="303.3" r="2.3" fill="#440154"/><circle cx="666.8" cy="297.3" r="2.3" fill="#440154"/><circle cx="663.8" cy="305.3" r="2.3" fill="#440154"/><circle cx="681.0" cy="304.6" r="2.3" fill="#fde725"/><circle cx="677.7" cy="300.9" r="2.3" fill="#fde725"/><circle cx="675.9" cy="302.5" r="2.3" fill="#fde725"/><circle cx="675.1" cy="298.0" r="2.3" fill="#fde725"/><circle cx="682.8" cy="297.0" r="2.3" fill="#fde725"/><circle cx="685.1" cy="308.5" r="2.3" fill="#fde725"/><circle cx="683.4" cy="310.1" r="2.3" fill="#fde725"/><circle cx="675.6" cy="307.0" r="2.3" fill="#fde725"/><circle cx="695.0" cy="312.5" r="2.3" fill="#fde725"/><circle cx="690.9" cy="297.9" r="2.3" fill="#fde725"/><circle cx="690.9" cy="305.1" r="2.3" fill="#fde725"/><circle cx="682.4" cy="304.4" r="2.3" fill="#fde725"/><circle cx="672.0" cy="290.9" r="2.3" fill="#fde725"/><circle cx="676.1" cy="311.7" r="2.3" fill="#fde725"/><circle cx="671.3" cy="296.6" r="2.3" fill="#fde725"/><circle cx="693.1" cy="310.9" r="2.3" fill="#fde725"/><circle cx="682.9" cy="302.3" r="2.3" fill="#fde725"/><circle cx="697.3" cy="297.3" r="2.3" fill="#fde725"/><circle cx="673.8" cy="297.0" r="2.3" fill="#fde725"/><circle cx="691.9" cy="298.2" r="2.3" fill="#fde725"/><circle cx="672.7" cy="291.7" r="2.3" fill="#fde725"/><circle cx="675.7" cy="294.7" r="2.3" fill="#fde725"/><circle cx="704.9" cy="289.0" r="2.3" fill="#fde725"/><circle cx="707.9" cy="305.0" r="2.3" fill="#fde725"/><circle cx="708.8" cy="290.5" r="2.3" fill="#fde725"/><circle cx="709.5" cy="303.7" r="2.3" fill="#fde725"/><circle cx="700.7" cy="295.2" r="2.3" fill="#fde725"/><circle cx="699.9" cy="294.3" r="2.3" fill="#fde725"/><circle cx="707.2" cy="289.4" r="2.3" fill="#fde725"/><circle cx="705.9" cy="302.0" r="2.3" fill="#fde725"/><circle cx="698.6" cy="290.6" r="2.3" fill="#fde725"/><circle cx="707.4" cy="302.4" r="2.3" fill="#fde725"/><circle cx="701.4" cy="303.6" r="2.3" fill="#fde725"/><circle cx="705.7" cy="287.9" r="2.3" fill="#fde725"/><circle cx="716.2" cy="272.4" r="2.3" fill="#fde725"/><circle cx="710.7" cy="289.0" r="2.3" fill="#fde725"/><circle cx="706.2" cy="289.3" r="2.3" fill="#fde725"/><circle cx="710.9" cy="283.5" r="2.3" fill="#fde725"/><circle cx="710.1" cy="282.7" r="2.3" fill="#fde725"/><circle cx="709.1" cy="283.0" r="2.3" fill="#fde725"/><circle cx="712.1" cy="283.7" r="2.3" fill="#fde725"/><circle cx="706.0" cy="286.8" r="2.3" fill="#fde725"/><circle cx="709.1" cy="289.1" r="2.3" fill="#fde725"/><circle cx="712.6" cy="285.1" r="2.3" fill="#fde725"/><circle cx="712.0" cy="271.0" r="2.3" fill="#fde725"/><circle cx="719.6" cy="286.4" r="2.3" fill="#fde725"/><circle cx="737.2" cy="273.0" r="2.3" fill="#fde725"/><circle cx="725.0" cy="265.6" r="2.3" fill="#fde725"/><circle cx="733.2" cy="277.4" r="2.3" fill="#fde725"/><circle cx="732.9" cy="260.7" r="2.3" fill="#fde725"/><circle cx="721.6" cy="265.4" r="2.3" fill="#fde725"/><circle cx="716.8" cy="260.2" r="2.3" fill="#fde725"/><circle cx="724.0" cy="259.1" r="2.3" fill="#fde725"/><circle cx="720.9" cy="269.8" r="2.3" fill="#fde725"/><circle cx="731.1" cy="263.8" r="2.3" fill="#fde725"/><circle cx="734.5" cy="255.6" r="2.3" fill="#fde725"/><circle cx="717.0" cy="260.0" r="2.3" fill="#fde725"/><circle cx="733.0" cy="261.0" r="2.3" fill="#fde725"/><circle cx="732.2" cy="263.2" r="2.3" fill="#fde725"/><circle cx="733.5" cy="268.0" r="2.3" fill="#fde725"/><circle cx="720.2" cy="279.5" r="2.3" fill="#fde725"/><circle cx="737.8" cy="279.5" r="2.3" fill="#fde725"/><circle cx="725.6" cy="270.6" r="2.3" fill="#fde725"/><circle cx="721.8" cy="277.4" r="2.3" fill="#fde725"/><circle cx="724.3" cy="270.0" r="2.3" fill="#fde725"/><circle cx="728.8" cy="280.0" r="2.3" fill="#fde725"/><circle cx="725.6" cy="266.0" r="2.3" fill="#fde725"/><circle cx="736.2" cy="258.4" r="2.3" fill="#fde725"/><circle cx="717.0" cy="263.4" r="2.3" fill="#fde725"/><circle cx="716.7" cy="279.7" r="2.3" fill="#fde725"/><circle cx="726.7" cy="277.4" r="2.3" fill="#fde725"/><circle cx="717.1" cy="267.2" r="2.3" fill="#fde725"/><circle cx="733.5" cy="255.1" r="2.3" fill="#fde725"/><circle cx="732.8" cy="280.5" r="2.3" fill="#fde725"/><circle cx="734.4" cy="258.9" r="2.3" fill="#fde725"/><circle cx="726.7" cy="268.5" r="2.3" fill="#fde725"/><circle cx="725.9" cy="251.9" r="2.3" fill="#fde725"/><circle cx="728.9" cy="249.9" r="2.3" fill="#fde725"/><circle cx="738.5" cy="297.4" r="2.3" fill="#fde725"/><circle cx="736.2" cy="288.4" r="2.3" fill="#fde725"/><circle cx="744.9" cy="293.6" r="2.3" fill="#fde725"/><circle cx="741.1" cy="293.4" r="2.3" fill="#fde725"/><circle cx="740.3" cy="287.4" r="2.3" fill="#fde725"/><circle cx="733.4" cy="287.8" r="2.3" fill="#fde725"/><circle cx="736.8" cy="241.0" r="2.3" fill="#fde725"/><circle cx="739.8" cy="246.0" r="2.3" fill="#fde725"/><circle cx="753.2" cy="240.4" r="2.3" fill="#fde725"/><circle cx="758.0" cy="242.3" r="2.3" fill="#fde725"/><circle cx="757.8" cy="254.7" r="2.3" fill="#fde725"/><circle cx="750.0" cy="245.3" r="2.3" fill="#fde725"/><circle cx="755.3" cy="261.6" r="2.3" fill="#fde725"/><circle cx="752.2" cy="244.5" r="2.3" fill="#fde725"/><circle cx="750.1" cy="257.2" r="2.3" fill="#fde725"/><circle cx="749.5" cy="240.5" r="2.3" fill="#fde725"/><circle cx="755.7" cy="256.0" r="2.3" fill="#fde725"/><circle cx="750.1" cy="250.6" r="2.3" fill="#fde725"/><circle cx="747.8" cy="248.0" r="2.3" fill="#fde725"/><circle cx="748.2" cy="252.3" r="2.3" fill="#fde725"/><circle cx="752.7" cy="251.5" r="2.3" fill="#fde725"/><circle cx="758.6" cy="248.5" r="2.3" fill="#fde725"/><circle cx="750.5" cy="240.5" r="2.3" fill="#fde725"/><circle cx="752.7" cy="239.6" r="2.3" fill="#fde725"/><circle cx="761.7" cy="271.7" r="2.3" fill="#fde725"/><circle cx="766.7" cy="265.5" r="2.3" fill="#fde725"/><circle cx="758.3" cy="269.9" r="2.3" fill="#fde725"/><circle cx="765.7" cy="261.4" r="2.3" fill="#fde725"/><circle cx="756.1" cy="279.2" r="2.3" fill="#fde725"/><circle cx="753.5" cy="257.6" r="2.3" fill="#fde725"/><circle cx="759.5" cy="268.8" r="2.3" fill="#fde725"/><circle cx="756.2" cy="277.7" r="2.3" fill="#fde725"/><circle cx="753.4" cy="267.5" r="2.3" fill="#fde725"/><circle cx="771.3" cy="258.3" r="2.3" fill="#fde725"/><circle cx="750.6" cy="277.2" r="2.3" fill="#fde725"/><circle cx="766.2" cy="256.1" r="2.3" fill="#fde725"/><circle cx="751.8" cy="254.9" r="2.3" fill="#fde725"/><circle cx="761.1" cy="256.2" r="2.3" fill="#fde725"/><circle cx="767.1" cy="260.1" r="2.3" fill="#fde725"/><circle cx="766.4" cy="304.1" r="2.3" fill="#fde725"/><circle cx="761.1" cy="286.2" r="2.3" fill="#fde725"/><circle cx="759.1" cy="295.0" r="2.3" fill="#fde725"/><circle cx="769.5" cy="298.0" r="2.3" fill="#fde725"/><circle cx="762.5" cy="298.0" r="2.3" fill="#fde725"/><circle cx="766.8" cy="291.6" r="2.3" fill="#fde725"/><circle cx="769.4" cy="306.4" r="2.3" fill="#fde725"/><circle cx="765.7" cy="290.2" r="2.3" fill="#fde725"/><circle cx="769.0" cy="291.2" r="2.3" fill="#fde725"/><circle cx="765.9" cy="302.8" r="2.3" fill="#fde725"/><circle cx="697.5" cy="285.8" r="2.3" fill="#fde725"/><circle cx="701.7" cy="285.8" r="2.3" fill="#fde725"/><circle cx="719.4" cy="305.0" r="2.3" fill="#fde725"/><circle cx="706.4" cy="289.8" r="2.3" fill="#fde725"/><circle cx="699.8" cy="307.5" r="2.3" fill="#fde725"/><circle cx="716.8" cy="307.7" r="2.3" fill="#fde725"/><circle cx="692.3" cy="292.2" r="2.3" fill="#fde725"/><circle cx="711.9" cy="305.4" r="2.3" fill="#fde725"/><circle cx="693.5" cy="301.6" r="2.3" fill="#fde725"/><circle cx="718.9" cy="297.1" r="2.3" fill="#fde725"/><circle cx="718.7" cy="285.6" r="2.3" fill="#fde725"/><circle cx="711.5" cy="308.7" r="2.3" fill="#fde725"/><circle cx="713.3" cy="310.2" r="2.3" fill="#fde725"/><circle cx="708.7" cy="296.7" r="2.3" fill="#fde725"/><circle cx="741.2" cy="294.0" r="2.3" fill="#fde725"/><circle cx="725.0" cy="295.1" r="2.3" fill="#fde725"/><circle cx="732.0" cy="298.5" r="2.3" fill="#fde725"/><circle cx="744.7" cy="302.2" r="2.3" fill="#fde725"/><circle cx="739.6" cy="291.2" r="2.3" fill="#fde725"/><circle cx="746.0" cy="285.6" r="2.3" fill="#fde725"/><circle cx="730.0" cy="284.9" r="2.3" fill="#fde725"/><circle cx="731.8" cy="295.0" r="2.3" fill="#fde725"/><circle cx="699.9" cy="314.9" r="2.3" fill="#440154"/><circle cx="677.4" cy="312.3" r="2.3" fill="#440154"/><circle cx="681.9" cy="315.9" r="2.3" fill="#440154"/><circle cx="683.0" cy="311.7" r="2.3" fill="#440154"/><circle cx="680.9" cy="314.3" r="2.3" fill="#440154"/><circle cx="698.1" cy="312.2" r="2.3" fill="#440154"/><circle cx="695.4" cy="311.8" r="2.3" fill="#440154"/><circle cx="691.4" cy="312.5" r="2.3" fill="#440154"/><circle cx="686.9" cy="315.3" r="2.3" fill="#440154"/><circle cx="670.7" cy="310.3" r="2.3" fill="#440154"/><circle cx="674.1" cy="314.2" r="2.3" fill="#440154"/><circle cx="689.7" cy="316.0" r="2.3" fill="#440154"/><circle cx="685.8" cy="314.8" r="2.3" fill="#440154"/><circle cx="697.6" cy="310.4" r="2.3" fill="#440154"/><circle cx="683.8" cy="313.5" r="2.3" fill="#440154"/><circle cx="691.3" cy="312.3" r="2.3" fill="#440154"/><circle cx="695.4" cy="312.6" r="2.3" fill="#440154"/><circle cx="671.2" cy="310.3" r="2.3" fill="#440154"/><circle cx="681.2" cy="310.5" r="2.3" fill="#440154"/><circle cx="691.3" cy="315.8" r="2.3" fill="#440154"/><circle cx="669.0" cy="314.1" r="2.3" fill="#440154"/><circle cx="699.5" cy="312.4" r="2.3" fill="#440154"/><circle cx="675.8" cy="312.8" r="2.3" fill="#440154"/><circle cx="698.9" cy="310.1" r="2.3" fill="#440154"/><circle cx="668.9" cy="312.2" r="2.3" fill="#440154"/><circle cx="672.5" cy="312.5" r="2.3" fill="#440154"/><circle cx="690.2" cy="316.6" r="2.3" fill="#440154"/><circle cx="693.2" cy="313.0" r="2.3" fill="#440154"/><circle cx="696.4" cy="310.5" r="2.3" fill="#440154"/><circle cx="691.7" cy="313.0" r="2.3" fill="#440154"/><circle cx="671.4" cy="314.4" r="2.3" fill="#440154"/><circle cx="690.6" cy="312.8" r="2.3" fill="#440154"/><circle cx="699.7" cy="313.4" r="2.3" fill="#440154"/><circle cx="679.5" cy="310.3" r="2.3" fill="#440154"/><circle cx="674.6" cy="313.5" r="2.3" fill="#440154"/><circle cx="683.4" cy="312.1" r="2.3" fill="#440154"/><circle cx="684.3" cy="314.0" r="2.3" fill="#440154"/><circle cx="680.1" cy="314.1" r="2.3" fill="#440154"/><circle cx="684.4" cy="314.8" r="2.3" fill="#440154"/><circle cx="693.1" cy="311.5" r="2.3" fill="#440154"/><circle cx="725.2" cy="311.9" r="2.3" fill="#440154"/><circle cx="764.7" cy="316.2" r="2.3" fill="#440154"/><circle cx="736.5" cy="310.9" r="2.3" fill="#440154"/><circle cx="730.1" cy="311.0" r="2.3" fill="#440154"/><circle cx="755.2" cy="314.0" r="2.3" fill="#440154"/><circle cx="748.3" cy="311.8" r="2.3" fill="#440154"/><circle cx="771.3" cy="316.6" r="2.3" fill="#440154"/><circle cx="757.0" cy="313.8" r="2.3" fill="#440154"/><circle cx="732.4" cy="313.1" r="2.3" fill="#440154"/><circle cx="744.3" cy="314.2" r="2.3" fill="#440154"/><circle cx="771.3" cy="313.8" r="2.3" fill="#440154"/><circle cx="751.2" cy="315.3" r="2.3" fill="#440154"/><circle cx="758.9" cy="316.1" r="2.3" fill="#440154"/><circle cx="727.0" cy="309.7" r="2.3" fill="#440154"/><circle cx="761.7" cy="312.1" r="2.3" fill="#440154"/><circle cx="769.8" cy="312.3" r="2.3" fill="#440154"/><circle cx="749.6" cy="310.1" r="2.3" fill="#440154"/><circle cx="749.3" cy="314.3" r="2.3" fill="#440154"/><circle cx="770.4" cy="309.0" r="2.3" fill="#440154"/><circle cx="725.0" cy="316.1" r="2.3" fill="#440154"/><circle cx="740.3" cy="309.8" r="2.3" fill="#440154"/><circle cx="757.8" cy="309.4" r="2.3" fill="#440154"/><circle cx="727.4" cy="316.1" r="2.3" fill="#440154"/><circle cx="769.5" cy="311.3" r="2.3" fill="#440154"/><circle cx="766.0" cy="315.5" r="2.3" fill="#440154"/><circle cx="742.4" cy="311.1" r="2.3" fill="#440154"/><circle cx="761.5" cy="314.4" r="2.3" fill="#440154"/><circle cx="729.3" cy="309.7" r="2.3" fill="#440154"/><circle cx="752.7" cy="311.5" r="2.3" fill="#440154"/><circle cx="755.6" cy="311.7" r="2.3" fill="#440154"/><circle cx="755.0" cy="316.3" r="2.3" fill="#440154"/><circle cx="713.7" cy="309.1" r="2.3" fill="#440154"/><circle cx="717.4" cy="313.0" r="2.3" fill="#440154"/><circle cx="764.5" cy="308.9" r="2.3" fill="#440154"/><circle cx="713.4" cy="311.3" r="2.3" fill="#440154"/><circle cx="719.9" cy="316.0" r="2.3" fill="#440154"/><circle cx="726.2" cy="313.9" r="2.3" fill="#440154"/><circle cx="713.3" cy="315.2" r="2.3" fill="#440154"/><circle cx="731.8" cy="313.1" r="2.3" fill="#440154"/><circle cx="757.6" cy="313.1" r="2.3" fill="#440154"/><circle cx="713.9" cy="314.3" r="2.3" fill="#440154"/><circle cx="738.5" cy="311.2" r="2.3" fill="#440154"/><circle cx="757.3" cy="313.3" r="2.3" fill="#440154"/><circle cx="734.6" cy="314.9" r="2.3" fill="#440154"/><circle cx="760.8" cy="312.2" r="2.3" fill="#440154"/><circle cx="711.2" cy="314.6" r="2.3" fill="#440154"/><circle cx="739.7" cy="312.0" r="2.3" fill="#440154"/><circle cx="765.3" cy="308.7" r="2.3" fill="#440154"/><circle cx="752.0" cy="314.8" r="2.3" fill="#440154"/><circle cx="739.3" cy="314.5" r="2.3" fill="#440154"/><circle cx="762.4" cy="313.6" r="2.3" fill="#440154"/><circle cx="715.1" cy="312.9" r="2.3" fill="#440154"/><circle cx="733.9" cy="311.3" r="2.3" fill="#440154"/><circle cx="739.2" cy="309.6" r="2.3" fill="#440154"/><circle cx="764.8" cy="313.9" r="2.3" fill="#440154"/><circle cx="737.4" cy="312.5" r="2.3" fill="#440154"/><circle cx="762.6" cy="310.9" r="2.3" fill="#440154"/><circle cx="712.9" cy="312.3" r="2.3" fill="#440154"/><circle cx="737.2" cy="313.9" r="2.3" fill="#440154"/><circle cx="728.5" cy="310.0" r="2.3" fill="#440154"/><circle cx="728.0" cy="314.1" r="2.3" fill="#440154"/><circle cx="711.4" cy="315.3" r="2.3" fill="#440154"/><circle cx="743.4" cy="310.2" r="2.3" fill="#440154"/><circle cx="736.4" cy="314.3" r="2.3" fill="#440154"/><circle cx="737.1" cy="313.8" r="2.3" fill="#440154"/><circle cx="713.7" cy="314.5" r="2.3" fill="#440154"/><circle cx="768.6" cy="312.2" r="2.3" fill="#440154"/><circle cx="759.3" cy="314.0" r="2.3" fill="#440154"/><circle cx="745.7" cy="314.9" r="2.3" fill="#440154"/><circle cx="728.8" cy="313.2" r="2.3" fill="#440154"/><circle cx="740.6" cy="314.5" r="2.3" fill="#440154"/><circle cx="769.9" cy="315.3" r="2.3" fill="#440154"/><circle cx="713.9" cy="311.0" r="2.3" fill="#440154"/><circle cx="755.7" cy="311.1" r="2.3" fill="#440154"/><circle cx="768.0" cy="309.5" r="2.3" fill="#440154"/><circle cx="757.0" cy="315.5" r="2.3" fill="#440154"/><circle cx="758.5" cy="310.4" r="2.3" fill="#440154"/><circle cx="728.2" cy="316.0" r="2.3" fill="#440154"/><circle cx="733.9" cy="314.3" r="2.3" fill="#440154"/><circle cx="768.5" cy="312.1" r="2.3" fill="#440154"/><circle cx="700.0" cy="313.0" r="2.3" fill="#440154"/><circle cx="735.8" cy="309.6" r="2.3" fill="#26828e"/><path d="M668.8,315.2 L772.0,315.2" fill="none" stroke="#c71585" stroke-width="2.6" stroke-opacity="0.72" stroke-linecap="butt" stroke-linejoin="round"/><path d="M668.8,315.6 L676.7,315.6 L688.0,310.0 L698.0,302.7 L708.0,295.7 L717.9,285.8 L727.9,278.8 L737.8,275.8 L747.8,277.8 L757.7,282.8 L771.6,288.7" fill="none" stroke="#cc8a35" stroke-width="2.9" stroke-opacity="0.75" stroke-linecap="butt" stroke-linejoin="round"/><path d="M625.0,315.6 L668.8,315.6" fill="none" stroke="#4a4a33" stroke-width="2.8" stroke-opacity="0.95" stroke-linecap="butt" stroke-linejoin="round"/></g></g>
<rect x="618.20" y="235.50" width="162.30" height="85.40" fill="none" stroke="#333" stroke-width="0.85"/>
<line x1="615.80" x2="618.20" y1="315.80" y2="315.80" stroke="#555" stroke-width="0.7"/>
<text x="614.60" y="318.30" text-anchor="end" class="t">0</text>
<line x1="615.80" x2="618.20" y1="298.75" y2="298.75" stroke="#555" stroke-width="0.7"/>
<text x="614.60" y="301.25" text-anchor="end" class="t">10</text>
<line x1="615.80" x2="618.20" y1="281.70" y2="281.70" stroke="#555" stroke-width="0.7"/>
<text x="614.60" y="284.20" text-anchor="end" class="t">20</text>
<line x1="615.80" x2="618.20" y1="264.65" y2="264.65" stroke="#555" stroke-width="0.7"/>
<text x="614.60" y="267.15" text-anchor="end" class="t">30</text>
<line x1="615.80" x2="618.20" y1="247.60" y2="247.60" stroke="#555" stroke-width="0.7"/>
<text x="614.60" y="250.10" text-anchor="end" class="t">40</text>
<line x1="625.58" x2="625.58" y1="320.90" y2="323.30" stroke="#555" stroke-width="0.7"/>
<line x1="655.09" x2="655.09" y1="320.90" y2="323.30" stroke="#555" stroke-width="0.7"/>
<line x1="684.60" x2="684.60" y1="320.90" y2="323.30" stroke="#555" stroke-width="0.7"/>
<line x1="714.10" x2="714.10" y1="320.90" y2="323.30" stroke="#555" stroke-width="0.7"/>
<line x1="743.61" x2="743.61" y1="320.90" y2="323.30" stroke="#555" stroke-width="0.7"/>
<line x1="773.12" x2="773.12" y1="320.90" y2="323.30" stroke="#555" stroke-width="0.7"/>
<rect x="617.80" y="339.30" width="162.80" height="8.30" fill="url(#vir)" fill-opacity="0.75" stroke="#111" stroke-width="0.9"/>
<line x1="617.80" x2="617.80" y1="347.60" y2="349.80" stroke="#555" stroke-width="0.8"/>
<text x="617.80" y="357.20" text-anchor="middle" class="t">0.0</text>
<line x1="650.36" x2="650.36" y1="347.60" y2="349.80" stroke="#555" stroke-width="0.8"/>
<text x="650.36" y="357.20" text-anchor="middle" class="t">0.2</text>
<line x1="682.92" x2="682.92" y1="347.60" y2="349.80" stroke="#555" stroke-width="0.8"/>
<text x="682.92" y="357.20" text-anchor="middle" class="t">0.4</text>
<line x1="715.48" x2="715.48" y1="347.60" y2="349.80" stroke="#555" stroke-width="0.8"/>
<text x="715.48" y="357.20" text-anchor="middle" class="t">0.6</text>
<line x1="748.04" x2="748.04" y1="347.60" y2="349.80" stroke="#555" stroke-width="0.8"/>
<text x="748.04" y="357.20" text-anchor="middle" class="t">0.8</text>
<line x1="780.60" x2="780.60" y1="347.60" y2="349.80" stroke="#555" stroke-width="0.8"/>
<text x="780.60" y="357.20" text-anchor="middle" class="t">1.0</text>
<clipPath id="sch"><rect x="617.80" y="371.90" width="162.80" height="24.50"/></clipPath>
<g clip-path="url(#sch)"><line x1="651.27" x2="651.27" y1="395.29" y2="393.96" stroke="#1f77b4" stroke-width="1.1"/><line x1="655.85" x2="655.85" y1="395.29" y2="388.65" stroke="#1f77b4" stroke-width="1.1"/><line x1="660.43" x2="660.43" y1="395.29" y2="389.97" stroke="#1f77b4" stroke-width="1.1"/><line x1="665.01" x2="665.01" y1="395.29" y2="387.14" stroke="#1f77b4" stroke-width="1.1"/><line x1="669.59" x2="669.59" y1="395.29" y2="373.01" stroke="#1f77b4" stroke-width="1.1"/><line x1="674.17" x2="674.17" y1="395.29" y2="385.03" stroke="#1f77b4" stroke-width="1.1"/><line x1="678.74" x2="678.74" y1="395.29" y2="388.34" stroke="#1f77b4" stroke-width="1.1"/><line x1="683.32" x2="683.32" y1="395.29" y2="393.78" stroke="#1f77b4" stroke-width="1.1"/><circle cx="632.95" cy="395.29" r="2.1" fill="#1f77b4"/><circle cx="637.53" cy="395.29" r="2.1" fill="#1f77b4"/><circle cx="642.11" cy="395.29" r="2.1" fill="#1f77b4"/><circle cx="646.69" cy="395.29" r="2.1" fill="#1f77b4"/><circle cx="651.27" cy="393.96" r="2.1" fill="#1f77b4"/><circle cx="655.85" cy="388.65" r="2.1" fill="#1f77b4"/><circle cx="660.43" cy="389.97" r="2.1" fill="#1f77b4"/><circle cx="665.01" cy="387.14" r="2.1" fill="#1f77b4"/><circle cx="669.59" cy="373.01" r="2.1" fill="#1f77b4"/><circle cx="674.17" cy="385.03" r="2.1" fill="#1f77b4"/><circle cx="678.74" cy="388.34" r="2.1" fill="#1f77b4"/><circle cx="683.32" cy="393.78" r="2.1" fill="#1f77b4"/><circle cx="687.90" cy="395.29" r="2.1" fill="#1f77b4"/><circle cx="692.48" cy="395.29" r="2.1" fill="#1f77b4"/><circle cx="697.06" cy="395.29" r="2.1" fill="#1f77b4"/><circle cx="701.64" cy="395.29" r="2.1" fill="#1f77b4"/><circle cx="706.22" cy="395.29" r="2.1" fill="#1f77b4"/><circle cx="710.80" cy="395.29" r="2.1" fill="#1f77b4"/><circle cx="715.38" cy="395.29" r="2.1" fill="#1f77b4"/><circle cx="719.96" cy="395.29" r="2.1" fill="#1f77b4"/><circle cx="724.53" cy="395.29" r="2.1" fill="#1f77b4"/><circle cx="729.11" cy="395.29" r="2.1" fill="#1f77b4"/><circle cx="733.69" cy="395.29" r="2.1" fill="#1f77b4"/><circle cx="738.27" cy="395.29" r="2.1" fill="#1f77b4"/><circle cx="742.85" cy="395.29" r="2.1" fill="#1f77b4"/><circle cx="747.43" cy="395.29" r="2.1" fill="#1f77b4"/><circle cx="752.01" cy="395.29" r="2.1" fill="#1f77b4"/><circle cx="756.59" cy="395.29" r="2.1" fill="#1f77b4"/><circle cx="761.17" cy="395.29" r="2.1" fill="#1f77b4"/><circle cx="765.75" cy="395.29" r="2.1" fill="#1f77b4"/><line x1="632.95" x2="765.75" y1="395.29" y2="395.29" stroke="#d62728" stroke-width="1.2"/></g>
<rect x="617.80" y="371.90" width="162.80" height="24.50" fill="none" stroke="#333" stroke-width="0.85"/>
<line x1="615.40" x2="617.80" y1="395.29" y2="395.29" stroke="#444" stroke-width="0.7"/>
<text x="614.20" y="397.79" text-anchor="end" class="t">0.00</text>
<line x1="615.40" x2="617.80" y1="380.20" y2="380.20" stroke="#444" stroke-width="0.7"/>
<text x="614.20" y="382.70" text-anchor="end" class="t">0.25</text>
<line x1="625.58" x2="625.58" y1="396.40" y2="398.80" stroke="#444" stroke-width="0.7"/>
<text x="625.58" y="406.00" text-anchor="middle" class="t">0.0</text>
<line x1="655.09" x2="655.09" y1="396.40" y2="398.80" stroke="#444" stroke-width="0.7"/>
<text x="655.09" y="406.00" text-anchor="middle" class="t">0.2</text>
<line x1="684.60" x2="684.60" y1="396.40" y2="398.80" stroke="#444" stroke-width="0.7"/>
<text x="684.60" y="406.00" text-anchor="middle" class="t">0.4</text>
<line x1="714.10" x2="714.10" y1="396.40" y2="398.80" stroke="#444" stroke-width="0.7"/>
<text x="714.10" y="406.00" text-anchor="middle" class="t">0.6</text>
<line x1="743.61" x2="743.61" y1="396.40" y2="398.80" stroke="#444" stroke-width="0.7"/>
<text x="743.61" y="406.00" text-anchor="middle" class="t">0.8</text>
<line x1="773.12" x2="773.12" y1="396.40" y2="398.80" stroke="#444" stroke-width="0.7"/>
<text x="773.12" y="406.00" text-anchor="middle" class="t">1.0</text>
<text x="614.10" y="437.30" class="lab">(h)</text>
<text x="644.60" y="437.30" class="cap">CAR1</text>
<text x="704.90" y="437.30" class="cap">b = 0.30</text>
</svg>
</body></html>
